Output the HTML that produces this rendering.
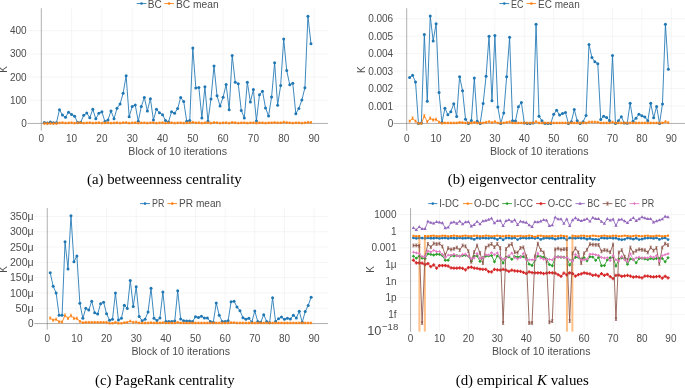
<!DOCTYPE html>
<html><head><meta charset="utf-8"><title>Figure</title>
<style>html,body{margin:0;padding:0;background:#fff}body{width:685px;height:388px;overflow:hidden}</style></head>
<body>
<svg width="685" height="388" viewBox="0 0 685 388" style="display:block">
<rect width="685" height="388" fill="#ffffff"/>
<clipPath id="ca"><rect x="27.6" y="8.2" width="300.4" height="122.39999999999999"/></clipPath>
<path d="M71.6 8.2V130.6" stroke="#eeeeee" stroke-width="0.6"/><path d="M101.9 8.2V130.6" stroke="#eeeeee" stroke-width="0.6"/><path d="M132.2 8.2V130.6" stroke="#eeeeee" stroke-width="0.6"/><path d="M162.5 8.2V130.6" stroke="#eeeeee" stroke-width="0.6"/><path d="M192.8 8.2V130.6" stroke="#eeeeee" stroke-width="0.6"/><path d="M223.1 8.2V130.6" stroke="#eeeeee" stroke-width="0.6"/><path d="M253.4 8.2V130.6" stroke="#eeeeee" stroke-width="0.6"/><path d="M283.7 8.2V130.6" stroke="#eeeeee" stroke-width="0.6"/><path d="M314 8.2V130.6" stroke="#eeeeee" stroke-width="0.6"/><path d="M27.6 100.27H328" stroke="#eeeeee" stroke-width="0.6"/><path d="M27.6 77.09H328" stroke="#eeeeee" stroke-width="0.6"/><path d="M27.6 53.91H328" stroke="#eeeeee" stroke-width="0.6"/><path d="M27.6 30.73H328" stroke="#eeeeee" stroke-width="0.6"/><path d="M27.6 123.45H328" stroke="#606060" stroke-width="0.5"/><path d="M41.3 8.2V130.6" stroke="#606060" stroke-width="0.5"/><text x="41.3" y="141.65" font-size="10" text-anchor="middle" font-family='"Liberation Sans", "DejaVu Sans", sans-serif' fill="#4c4c4c">0</text><text x="71.6" y="141.65" font-size="10" text-anchor="middle" font-family='"Liberation Sans", "DejaVu Sans", sans-serif' fill="#4c4c4c">10</text><text x="101.9" y="141.65" font-size="10" text-anchor="middle" font-family='"Liberation Sans", "DejaVu Sans", sans-serif' fill="#4c4c4c">20</text><text x="132.2" y="141.65" font-size="10" text-anchor="middle" font-family='"Liberation Sans", "DejaVu Sans", sans-serif' fill="#4c4c4c">30</text><text x="162.5" y="141.65" font-size="10" text-anchor="middle" font-family='"Liberation Sans", "DejaVu Sans", sans-serif' fill="#4c4c4c">40</text><text x="192.8" y="141.65" font-size="10" text-anchor="middle" font-family='"Liberation Sans", "DejaVu Sans", sans-serif' fill="#4c4c4c">50</text><text x="223.1" y="141.65" font-size="10" text-anchor="middle" font-family='"Liberation Sans", "DejaVu Sans", sans-serif' fill="#4c4c4c">60</text><text x="253.4" y="141.65" font-size="10" text-anchor="middle" font-family='"Liberation Sans", "DejaVu Sans", sans-serif' fill="#4c4c4c">70</text><text x="283.7" y="141.65" font-size="10" text-anchor="middle" font-family='"Liberation Sans", "DejaVu Sans", sans-serif' fill="#4c4c4c">80</text><text x="314" y="141.65" font-size="10" text-anchor="middle" font-family='"Liberation Sans", "DejaVu Sans", sans-serif' fill="#4c4c4c">90</text><text x="26.7" y="127" font-size="10" text-anchor="end" font-family='"Liberation Sans", "DejaVu Sans", sans-serif' fill="#4c4c4c">0</text><text x="26.7" y="103.82" font-size="10" text-anchor="end" font-family='"Liberation Sans", "DejaVu Sans", sans-serif' fill="#4c4c4c">100</text><text x="26.7" y="80.64" font-size="10" text-anchor="end" font-family='"Liberation Sans", "DejaVu Sans", sans-serif' fill="#4c4c4c">200</text><text x="26.7" y="57.46" font-size="10" text-anchor="end" font-family='"Liberation Sans", "DejaVu Sans", sans-serif' fill="#4c4c4c">300</text><text x="26.7" y="34.28" font-size="10" text-anchor="end" font-family='"Liberation Sans", "DejaVu Sans", sans-serif' fill="#4c4c4c">400</text><text x="128.3" y="154.9" font-size="10" text-anchor="start" font-family='"Liberation Sans", "DejaVu Sans", sans-serif' fill="#4c4c4c" textLength="98.7" lengthAdjust="spacingAndGlyphs">Block of 10 iterations</text><text transform="translate(7.3 69.5) rotate(-90)" font-size="10" text-anchor="middle" font-family='"Liberation Sans", "DejaVu Sans", sans-serif' fill="#4c4c4c">K</text><text x="87" y="183.9" font-size="14.7" text-anchor="start" font-family='"Liberation Serif", "DejaVu Serif", serif' fill="#000000" textLength="154.7" lengthAdjust="spacingAndGlyphs">(a) betweenness centrality</text>
<g clip-path="url(#ca)">
<path d="M44.33 122.52L47.36 123.03L50.39 122.06L53.42 122.85L56.45 122.85L59.48 109.77L62.51 115.11L65.54 117.19L68.57 112.32L71.6 114.41L74.63 116.26L77.66 122.57L80.69 122.31L83.72 115.34L86.75 113.02L89.78 117.66L92.81 109.31L95.84 118.81L98.87 113.25L101.9 111.86L104.93 121.6L107.96 119.97L110.99 110.93L114.02 118.81L117.05 108.15L120.08 103.98L123.11 93.32L126.14 75.7L129.17 116.73L132.2 106.53L135.23 104.91L138.26 121.36L141.29 106.53L144.32 97.49L147.35 110.93L150.38 98.65L153.41 119.97L156.44 109.31L159.47 112.79L162.5 114.64L165.53 120.44L168.56 121.94L171.59 111.63L174.62 113.25L177.65 108.61L180.68 97.49L183.71 101.43L186.74 121.36L189.77 120.44L192.8 47.88L195.83 87.98L198.86 87.52L201.89 117.89L204.92 86.83L207.95 121.36L210.98 98.88L214.01 65.96L217.04 95.87L220.07 106.06L223.1 97.26L226.13 84.51L229.16 109.77L232.19 55.53L235.22 82.19L238.25 83.81L241.28 110.47L244.31 117.89L247.34 82.19L250.37 101.89L253.4 89.61L256.43 120.9L259.46 94.71L262.49 91.23L265.52 107.92L268.55 116.03L271.58 97.02L274.61 62.72L277.64 105.14L280.67 85.43L283.7 39.07L286.73 70.6L289.76 84.74L292.79 83.35L295.82 113.71L298.85 108.38L301.88 100.04L304.91 87.75L307.94 16.13L310.97 43.71" fill="none" stroke="#1f77b4" stroke-width="0.87" stroke-linejoin="round"/><circle cx="44.33" cy="122.52" r="1.5" fill="#1f77b4"/><circle cx="47.36" cy="123.03" r="1.5" fill="#1f77b4"/><circle cx="50.39" cy="122.06" r="1.5" fill="#1f77b4"/><circle cx="53.42" cy="122.85" r="1.5" fill="#1f77b4"/><circle cx="56.45" cy="122.85" r="1.5" fill="#1f77b4"/><circle cx="59.48" cy="109.77" r="1.5" fill="#1f77b4"/><circle cx="62.51" cy="115.11" r="1.5" fill="#1f77b4"/><circle cx="65.54" cy="117.19" r="1.5" fill="#1f77b4"/><circle cx="68.57" cy="112.32" r="1.5" fill="#1f77b4"/><circle cx="71.6" cy="114.41" r="1.5" fill="#1f77b4"/><circle cx="74.63" cy="116.26" r="1.5" fill="#1f77b4"/><circle cx="77.66" cy="122.57" r="1.5" fill="#1f77b4"/><circle cx="80.69" cy="122.31" r="1.5" fill="#1f77b4"/><circle cx="83.72" cy="115.34" r="1.5" fill="#1f77b4"/><circle cx="86.75" cy="113.02" r="1.5" fill="#1f77b4"/><circle cx="89.78" cy="117.66" r="1.5" fill="#1f77b4"/><circle cx="92.81" cy="109.31" r="1.5" fill="#1f77b4"/><circle cx="95.84" cy="118.81" r="1.5" fill="#1f77b4"/><circle cx="98.87" cy="113.25" r="1.5" fill="#1f77b4"/><circle cx="101.9" cy="111.86" r="1.5" fill="#1f77b4"/><circle cx="104.93" cy="121.6" r="1.5" fill="#1f77b4"/><circle cx="107.96" cy="119.97" r="1.5" fill="#1f77b4"/><circle cx="110.99" cy="110.93" r="1.5" fill="#1f77b4"/><circle cx="114.02" cy="118.81" r="1.5" fill="#1f77b4"/><circle cx="117.05" cy="108.15" r="1.5" fill="#1f77b4"/><circle cx="120.08" cy="103.98" r="1.5" fill="#1f77b4"/><circle cx="123.11" cy="93.32" r="1.5" fill="#1f77b4"/><circle cx="126.14" cy="75.7" r="1.5" fill="#1f77b4"/><circle cx="129.17" cy="116.73" r="1.5" fill="#1f77b4"/><circle cx="132.2" cy="106.53" r="1.5" fill="#1f77b4"/><circle cx="135.23" cy="104.91" r="1.5" fill="#1f77b4"/><circle cx="138.26" cy="121.36" r="1.5" fill="#1f77b4"/><circle cx="141.29" cy="106.53" r="1.5" fill="#1f77b4"/><circle cx="144.32" cy="97.49" r="1.5" fill="#1f77b4"/><circle cx="147.35" cy="110.93" r="1.5" fill="#1f77b4"/><circle cx="150.38" cy="98.65" r="1.5" fill="#1f77b4"/><circle cx="153.41" cy="119.97" r="1.5" fill="#1f77b4"/><circle cx="156.44" cy="109.31" r="1.5" fill="#1f77b4"/><circle cx="159.47" cy="112.79" r="1.5" fill="#1f77b4"/><circle cx="162.5" cy="114.64" r="1.5" fill="#1f77b4"/><circle cx="165.53" cy="120.44" r="1.5" fill="#1f77b4"/><circle cx="168.56" cy="121.94" r="1.5" fill="#1f77b4"/><circle cx="171.59" cy="111.63" r="1.5" fill="#1f77b4"/><circle cx="174.62" cy="113.25" r="1.5" fill="#1f77b4"/><circle cx="177.65" cy="108.61" r="1.5" fill="#1f77b4"/><circle cx="180.68" cy="97.49" r="1.5" fill="#1f77b4"/><circle cx="183.71" cy="101.43" r="1.5" fill="#1f77b4"/><circle cx="186.74" cy="121.36" r="1.5" fill="#1f77b4"/><circle cx="189.77" cy="120.44" r="1.5" fill="#1f77b4"/><circle cx="192.8" cy="47.88" r="1.5" fill="#1f77b4"/><circle cx="195.83" cy="87.98" r="1.5" fill="#1f77b4"/><circle cx="198.86" cy="87.52" r="1.5" fill="#1f77b4"/><circle cx="201.89" cy="117.89" r="1.5" fill="#1f77b4"/><circle cx="204.92" cy="86.83" r="1.5" fill="#1f77b4"/><circle cx="207.95" cy="121.36" r="1.5" fill="#1f77b4"/><circle cx="210.98" cy="98.88" r="1.5" fill="#1f77b4"/><circle cx="214.01" cy="65.96" r="1.5" fill="#1f77b4"/><circle cx="217.04" cy="95.87" r="1.5" fill="#1f77b4"/><circle cx="220.07" cy="106.06" r="1.5" fill="#1f77b4"/><circle cx="223.1" cy="97.26" r="1.5" fill="#1f77b4"/><circle cx="226.13" cy="84.51" r="1.5" fill="#1f77b4"/><circle cx="229.16" cy="109.77" r="1.5" fill="#1f77b4"/><circle cx="232.19" cy="55.53" r="1.5" fill="#1f77b4"/><circle cx="235.22" cy="82.19" r="1.5" fill="#1f77b4"/><circle cx="238.25" cy="83.81" r="1.5" fill="#1f77b4"/><circle cx="241.28" cy="110.47" r="1.5" fill="#1f77b4"/><circle cx="244.31" cy="117.89" r="1.5" fill="#1f77b4"/><circle cx="247.34" cy="82.19" r="1.5" fill="#1f77b4"/><circle cx="250.37" cy="101.89" r="1.5" fill="#1f77b4"/><circle cx="253.4" cy="89.61" r="1.5" fill="#1f77b4"/><circle cx="256.43" cy="120.9" r="1.5" fill="#1f77b4"/><circle cx="259.46" cy="94.71" r="1.5" fill="#1f77b4"/><circle cx="262.49" cy="91.23" r="1.5" fill="#1f77b4"/><circle cx="265.52" cy="107.92" r="1.5" fill="#1f77b4"/><circle cx="268.55" cy="116.03" r="1.5" fill="#1f77b4"/><circle cx="271.58" cy="97.02" r="1.5" fill="#1f77b4"/><circle cx="274.61" cy="62.72" r="1.5" fill="#1f77b4"/><circle cx="277.64" cy="105.14" r="1.5" fill="#1f77b4"/><circle cx="280.67" cy="85.43" r="1.5" fill="#1f77b4"/><circle cx="283.7" cy="39.07" r="1.5" fill="#1f77b4"/><circle cx="286.73" cy="70.6" r="1.5" fill="#1f77b4"/><circle cx="289.76" cy="84.74" r="1.5" fill="#1f77b4"/><circle cx="292.79" cy="83.35" r="1.5" fill="#1f77b4"/><circle cx="295.82" cy="113.71" r="1.5" fill="#1f77b4"/><circle cx="298.85" cy="108.38" r="1.5" fill="#1f77b4"/><circle cx="301.88" cy="100.04" r="1.5" fill="#1f77b4"/><circle cx="304.91" cy="87.75" r="1.5" fill="#1f77b4"/><circle cx="307.94" cy="16.13" r="1.5" fill="#1f77b4"/><circle cx="310.97" cy="43.71" r="1.5" fill="#1f77b4"/>
<path d="M44.33 123.4L47.36 123.43L50.39 123.36L53.42 123.4L56.45 123.4L59.48 122.86L62.51 122.67L65.54 123.08L68.57 122.86L71.6 122.68L74.63 123.08L77.66 122.85L80.69 122.68L83.72 123.08L86.75 122.85L89.78 122.68L92.81 123.08L95.84 122.85L98.87 122.68L101.9 123.08L104.93 122.84L107.96 122.69L110.99 123.08L114.02 122.84L117.05 122.69L120.08 123.09L123.11 122.64L126.14 122.52L129.17 123.09L132.2 122.83L135.23 122.69L138.26 123.09L141.29 122.83L144.32 122.75L147.35 123.09L150.38 122.75L153.41 122.7L156.44 123.09L159.47 122.82L162.5 122.7L165.53 123.09L168.56 122.82L171.59 122.7L174.62 123.09L177.65 122.81L180.68 122.75L183.71 123.09L186.74 122.81L189.77 122.71L192.8 122.29L195.83 122.81L198.86 122.71L201.89 123.1L204.92 122.8L207.95 122.71L210.98 123.1L214.01 122.52L217.04 122.72L220.07 123.1L223.1 122.79L226.13 122.72L229.16 123.1L232.19 122.41L235.22 122.72L238.25 123.1L241.28 122.79L244.31 122.73L247.34 123.1L250.37 122.78L253.4 122.73L256.43 123.1L259.46 122.78L262.49 122.73L265.52 123.1L268.55 122.78L271.58 122.74L274.61 122.52L277.64 122.77L280.67 122.74L283.7 122.18L286.73 122.52L289.76 122.74L292.79 123.1L295.82 122.77L298.85 122.75L301.88 123.1L304.91 122.76L307.94 122.29L310.97 122.41" fill="none" stroke="#ff7f0e" stroke-width="0.87" stroke-linejoin="round"/><path d="M44.33 122.25V124.55M43.23 122.25H45.43M43.23 124.55H45.43" stroke="#ff7f0e" stroke-width="0.6" fill="none"/><circle cx="44.33" cy="123.4" r="0.85" fill="#ff7f0e"/><path d="M47.36 122.28V124.58M46.26 122.28H48.46M46.26 124.58H48.46" stroke="#ff7f0e" stroke-width="0.6" fill="none"/><circle cx="47.36" cy="123.43" r="0.85" fill="#ff7f0e"/><path d="M50.39 122.21V124.51M49.29 122.21H51.49M49.29 124.51H51.49" stroke="#ff7f0e" stroke-width="0.6" fill="none"/><circle cx="50.39" cy="123.36" r="0.85" fill="#ff7f0e"/><path d="M53.42 122.25V124.55M52.32 122.25H54.52M52.32 124.55H54.52" stroke="#ff7f0e" stroke-width="0.6" fill="none"/><circle cx="53.42" cy="123.4" r="0.85" fill="#ff7f0e"/><path d="M56.45 122.25V124.55M55.35 122.25H57.55M55.35 124.55H57.55" stroke="#ff7f0e" stroke-width="0.6" fill="none"/><circle cx="56.45" cy="123.4" r="0.85" fill="#ff7f0e"/><path d="M59.48 122.01V123.71M58.38 122.01H60.58M58.38 123.71H60.58" stroke="#ff7f0e" stroke-width="0.6" fill="none"/><circle cx="59.48" cy="122.86" r="0.85" fill="#ff7f0e"/><path d="M62.51 121.81V123.54M61.41 121.81H63.61M61.41 123.54H63.61" stroke="#ff7f0e" stroke-width="0.6" fill="none"/><circle cx="62.51" cy="122.67" r="0.85" fill="#ff7f0e"/><path d="M65.54 122.24V123.91M64.44 122.24H66.64M64.44 123.91H66.64" stroke="#ff7f0e" stroke-width="0.6" fill="none"/><circle cx="65.54" cy="123.08" r="0.85" fill="#ff7f0e"/><path d="M68.57 122.01V123.71M67.47 122.01H69.67M67.47 123.71H69.67" stroke="#ff7f0e" stroke-width="0.6" fill="none"/><circle cx="68.57" cy="122.86" r="0.85" fill="#ff7f0e"/><path d="M71.6 121.81V123.54M70.5 121.81H72.7M70.5 123.54H72.7" stroke="#ff7f0e" stroke-width="0.6" fill="none"/><circle cx="71.6" cy="122.68" r="0.85" fill="#ff7f0e"/><path d="M74.63 122.25V123.91M73.53 122.25H75.73M73.53 123.91H75.73" stroke="#ff7f0e" stroke-width="0.6" fill="none"/><circle cx="74.63" cy="123.08" r="0.85" fill="#ff7f0e"/><path d="M77.66 122V123.71M76.56 122H78.76M76.56 123.71H78.76" stroke="#ff7f0e" stroke-width="0.6" fill="none"/><circle cx="77.66" cy="122.85" r="0.85" fill="#ff7f0e"/><path d="M80.69 121.81V123.55M79.59 121.81H81.79M79.59 123.55H81.79" stroke="#ff7f0e" stroke-width="0.6" fill="none"/><circle cx="80.69" cy="122.68" r="0.85" fill="#ff7f0e"/><path d="M83.72 122.25V123.91M82.62 122.25H84.82M82.62 123.91H84.82" stroke="#ff7f0e" stroke-width="0.6" fill="none"/><circle cx="83.72" cy="123.08" r="0.85" fill="#ff7f0e"/><path d="M86.75 122V123.7M85.65 122H87.85M85.65 123.7H87.85" stroke="#ff7f0e" stroke-width="0.6" fill="none"/><circle cx="86.75" cy="122.85" r="0.85" fill="#ff7f0e"/><path d="M89.78 121.81V123.55M88.68 121.81H90.88M88.68 123.55H90.88" stroke="#ff7f0e" stroke-width="0.6" fill="none"/><circle cx="89.78" cy="122.68" r="0.85" fill="#ff7f0e"/><path d="M92.81 122.25V123.91M91.71 122.25H93.91M91.71 123.91H93.91" stroke="#ff7f0e" stroke-width="0.6" fill="none"/><circle cx="92.81" cy="123.08" r="0.85" fill="#ff7f0e"/><path d="M95.84 122V123.7M94.74 122H96.94M94.74 123.7H96.94" stroke="#ff7f0e" stroke-width="0.6" fill="none"/><circle cx="95.84" cy="122.85" r="0.85" fill="#ff7f0e"/><path d="M98.87 121.82V123.55M97.77 121.82H99.97M97.77 123.55H99.97" stroke="#ff7f0e" stroke-width="0.6" fill="none"/><circle cx="98.87" cy="122.68" r="0.85" fill="#ff7f0e"/><path d="M101.9 122.25V123.91M100.8 122.25H103M100.8 123.91H103" stroke="#ff7f0e" stroke-width="0.6" fill="none"/><circle cx="101.9" cy="123.08" r="0.85" fill="#ff7f0e"/><path d="M104.93 121.99V123.7M103.83 121.99H106.03M103.83 123.7H106.03" stroke="#ff7f0e" stroke-width="0.6" fill="none"/><circle cx="104.93" cy="122.84" r="0.85" fill="#ff7f0e"/><path d="M107.96 121.82V123.55M106.86 121.82H109.06M106.86 123.55H109.06" stroke="#ff7f0e" stroke-width="0.6" fill="none"/><circle cx="107.96" cy="122.69" r="0.85" fill="#ff7f0e"/><path d="M110.99 122.25V123.92M109.89 122.25H112.09M109.89 123.92H112.09" stroke="#ff7f0e" stroke-width="0.6" fill="none"/><circle cx="110.99" cy="123.08" r="0.85" fill="#ff7f0e"/><path d="M114.02 121.99V123.69M112.92 121.99H115.12M112.92 123.69H115.12" stroke="#ff7f0e" stroke-width="0.6" fill="none"/><circle cx="114.02" cy="122.84" r="0.85" fill="#ff7f0e"/><path d="M117.05 121.82V123.55M115.95 121.82H118.15M115.95 123.55H118.15" stroke="#ff7f0e" stroke-width="0.6" fill="none"/><circle cx="117.05" cy="122.69" r="0.85" fill="#ff7f0e"/><path d="M120.08 122.25V123.92M118.98 122.25H121.18M118.98 123.92H121.18" stroke="#ff7f0e" stroke-width="0.6" fill="none"/><circle cx="120.08" cy="123.09" r="0.85" fill="#ff7f0e"/><path d="M123.11 121.77V123.51M122.01 121.77H124.21M122.01 123.51H124.21" stroke="#ff7f0e" stroke-width="0.6" fill="none"/><circle cx="123.11" cy="122.64" r="0.85" fill="#ff7f0e"/><path d="M126.14 121.64V123.4M125.04 121.64H127.24M125.04 123.4H127.24" stroke="#ff7f0e" stroke-width="0.6" fill="none"/><circle cx="126.14" cy="122.52" r="0.85" fill="#ff7f0e"/><path d="M129.17 122.26V123.92M128.07 122.26H130.27M128.07 123.92H130.27" stroke="#ff7f0e" stroke-width="0.6" fill="none"/><circle cx="129.17" cy="123.09" r="0.85" fill="#ff7f0e"/><path d="M132.2 121.98V123.69M131.1 121.98H133.3M131.1 123.69H133.3" stroke="#ff7f0e" stroke-width="0.6" fill="none"/><circle cx="132.2" cy="122.83" r="0.85" fill="#ff7f0e"/><path d="M135.23 121.83V123.56M134.13 121.83H136.33M134.13 123.56H136.33" stroke="#ff7f0e" stroke-width="0.6" fill="none"/><circle cx="135.23" cy="122.69" r="0.85" fill="#ff7f0e"/><path d="M138.26 122.26V123.92M137.16 122.26H139.36M137.16 123.92H139.36" stroke="#ff7f0e" stroke-width="0.6" fill="none"/><circle cx="138.26" cy="123.09" r="0.85" fill="#ff7f0e"/><path d="M141.29 121.97V123.68M140.19 121.97H142.39M140.19 123.68H142.39" stroke="#ff7f0e" stroke-width="0.6" fill="none"/><circle cx="141.29" cy="122.83" r="0.85" fill="#ff7f0e"/><path d="M144.32 121.89V123.61M143.22 121.89H145.42M143.22 123.61H145.42" stroke="#ff7f0e" stroke-width="0.6" fill="none"/><circle cx="144.32" cy="122.75" r="0.85" fill="#ff7f0e"/><path d="M147.35 122.26V123.92M146.25 122.26H148.45M146.25 123.92H148.45" stroke="#ff7f0e" stroke-width="0.6" fill="none"/><circle cx="147.35" cy="123.09" r="0.85" fill="#ff7f0e"/><path d="M150.38 121.89V123.61M149.28 121.89H151.48M149.28 123.61H151.48" stroke="#ff7f0e" stroke-width="0.6" fill="none"/><circle cx="150.38" cy="122.75" r="0.85" fill="#ff7f0e"/><path d="M153.41 121.83V123.56M152.31 121.83H154.51M152.31 123.56H154.51" stroke="#ff7f0e" stroke-width="0.6" fill="none"/><circle cx="153.41" cy="122.7" r="0.85" fill="#ff7f0e"/><path d="M156.44 122.26V123.92M155.34 122.26H157.54M155.34 123.92H157.54" stroke="#ff7f0e" stroke-width="0.6" fill="none"/><circle cx="156.44" cy="123.09" r="0.85" fill="#ff7f0e"/><path d="M159.47 121.97V123.67M158.37 121.97H160.57M158.37 123.67H160.57" stroke="#ff7f0e" stroke-width="0.6" fill="none"/><circle cx="159.47" cy="122.82" r="0.85" fill="#ff7f0e"/><path d="M162.5 121.84V123.57M161.4 121.84H163.6M161.4 123.57H163.6" stroke="#ff7f0e" stroke-width="0.6" fill="none"/><circle cx="162.5" cy="122.7" r="0.85" fill="#ff7f0e"/><path d="M165.53 122.26V123.92M164.43 122.26H166.63M164.43 123.92H166.63" stroke="#ff7f0e" stroke-width="0.6" fill="none"/><circle cx="165.53" cy="123.09" r="0.85" fill="#ff7f0e"/><path d="M168.56 121.96V123.67M167.46 121.96H169.66M167.46 123.67H169.66" stroke="#ff7f0e" stroke-width="0.6" fill="none"/><circle cx="168.56" cy="122.82" r="0.85" fill="#ff7f0e"/><path d="M171.59 121.84V123.57M170.49 121.84H172.69M170.49 123.57H172.69" stroke="#ff7f0e" stroke-width="0.6" fill="none"/><circle cx="171.59" cy="122.7" r="0.85" fill="#ff7f0e"/><path d="M174.62 122.26V123.92M173.52 122.26H175.72M173.52 123.92H175.72" stroke="#ff7f0e" stroke-width="0.6" fill="none"/><circle cx="174.62" cy="123.09" r="0.85" fill="#ff7f0e"/><path d="M177.65 121.96V123.67M176.55 121.96H178.75M176.55 123.67H178.75" stroke="#ff7f0e" stroke-width="0.6" fill="none"/><circle cx="177.65" cy="122.81" r="0.85" fill="#ff7f0e"/><path d="M180.68 121.89V123.61M179.58 121.89H181.78M179.58 123.61H181.78" stroke="#ff7f0e" stroke-width="0.6" fill="none"/><circle cx="180.68" cy="122.75" r="0.85" fill="#ff7f0e"/><path d="M183.71 122.26V123.93M182.61 122.26H184.81M182.61 123.93H184.81" stroke="#ff7f0e" stroke-width="0.6" fill="none"/><circle cx="183.71" cy="123.09" r="0.85" fill="#ff7f0e"/><path d="M186.74 121.95V123.66M185.64 121.95H187.84M185.64 123.66H187.84" stroke="#ff7f0e" stroke-width="0.6" fill="none"/><circle cx="186.74" cy="122.81" r="0.85" fill="#ff7f0e"/><path d="M189.77 121.84V123.57M188.67 121.84H190.87M188.67 123.57H190.87" stroke="#ff7f0e" stroke-width="0.6" fill="none"/><circle cx="189.77" cy="122.71" r="0.85" fill="#ff7f0e"/><path d="M192.8 121.39V123.19M191.7 121.39H193.9M191.7 123.19H193.9" stroke="#ff7f0e" stroke-width="0.6" fill="none"/><circle cx="192.8" cy="122.29" r="0.85" fill="#ff7f0e"/><path d="M195.83 121.95V123.66M194.73 121.95H196.93M194.73 123.66H196.93" stroke="#ff7f0e" stroke-width="0.6" fill="none"/><circle cx="195.83" cy="122.81" r="0.85" fill="#ff7f0e"/><path d="M198.86 121.85V123.58M197.76 121.85H199.96M197.76 123.58H199.96" stroke="#ff7f0e" stroke-width="0.6" fill="none"/><circle cx="198.86" cy="122.71" r="0.85" fill="#ff7f0e"/><path d="M201.89 122.27V123.93M200.79 122.27H202.99M200.79 123.93H202.99" stroke="#ff7f0e" stroke-width="0.6" fill="none"/><circle cx="201.89" cy="123.1" r="0.85" fill="#ff7f0e"/><path d="M204.92 121.95V123.66M203.82 121.95H206.02M203.82 123.66H206.02" stroke="#ff7f0e" stroke-width="0.6" fill="none"/><circle cx="204.92" cy="122.8" r="0.85" fill="#ff7f0e"/><path d="M207.95 121.85V123.58M206.85 121.85H209.05M206.85 123.58H209.05" stroke="#ff7f0e" stroke-width="0.6" fill="none"/><circle cx="207.95" cy="122.71" r="0.85" fill="#ff7f0e"/><path d="M210.98 122.27V123.93M209.88 122.27H212.08M209.88 123.93H212.08" stroke="#ff7f0e" stroke-width="0.6" fill="none"/><circle cx="210.98" cy="123.1" r="0.85" fill="#ff7f0e"/><path d="M214.01 121.64V123.4M212.91 121.64H215.11M212.91 123.4H215.11" stroke="#ff7f0e" stroke-width="0.6" fill="none"/><circle cx="214.01" cy="122.52" r="0.85" fill="#ff7f0e"/><path d="M217.04 121.85V123.58M215.94 121.85H218.14M215.94 123.58H218.14" stroke="#ff7f0e" stroke-width="0.6" fill="none"/><circle cx="217.04" cy="122.72" r="0.85" fill="#ff7f0e"/><path d="M220.07 122.27V123.93M218.97 122.27H221.17M218.97 123.93H221.17" stroke="#ff7f0e" stroke-width="0.6" fill="none"/><circle cx="220.07" cy="123.1" r="0.85" fill="#ff7f0e"/><path d="M223.1 121.94V123.65M222 121.94H224.2M222 123.65H224.2" stroke="#ff7f0e" stroke-width="0.6" fill="none"/><circle cx="223.1" cy="122.79" r="0.85" fill="#ff7f0e"/><path d="M226.13 121.86V123.58M225.03 121.86H227.23M225.03 123.58H227.23" stroke="#ff7f0e" stroke-width="0.6" fill="none"/><circle cx="226.13" cy="122.72" r="0.85" fill="#ff7f0e"/><path d="M229.16 122.27V123.93M228.06 122.27H230.26M228.06 123.93H230.26" stroke="#ff7f0e" stroke-width="0.6" fill="none"/><circle cx="229.16" cy="123.1" r="0.85" fill="#ff7f0e"/><path d="M232.19 121.52V123.3M231.09 121.52H233.29M231.09 123.3H233.29" stroke="#ff7f0e" stroke-width="0.6" fill="none"/><circle cx="232.19" cy="122.41" r="0.85" fill="#ff7f0e"/><path d="M235.22 121.86V123.59M234.12 121.86H236.32M234.12 123.59H236.32" stroke="#ff7f0e" stroke-width="0.6" fill="none"/><circle cx="235.22" cy="122.72" r="0.85" fill="#ff7f0e"/><path d="M238.25 122.27V123.93M237.15 122.27H239.35M237.15 123.93H239.35" stroke="#ff7f0e" stroke-width="0.6" fill="none"/><circle cx="238.25" cy="123.1" r="0.85" fill="#ff7f0e"/><path d="M241.28 121.93V123.64M240.18 121.93H242.38M240.18 123.64H242.38" stroke="#ff7f0e" stroke-width="0.6" fill="none"/><circle cx="241.28" cy="122.79" r="0.85" fill="#ff7f0e"/><path d="M244.31 121.86V123.59M243.21 121.86H245.41M243.21 123.59H245.41" stroke="#ff7f0e" stroke-width="0.6" fill="none"/><circle cx="244.31" cy="122.73" r="0.85" fill="#ff7f0e"/><path d="M247.34 122.27V123.93M246.24 122.27H248.44M246.24 123.93H248.44" stroke="#ff7f0e" stroke-width="0.6" fill="none"/><circle cx="247.34" cy="123.1" r="0.85" fill="#ff7f0e"/><path d="M250.37 121.93V123.64M249.27 121.93H251.47M249.27 123.64H251.47" stroke="#ff7f0e" stroke-width="0.6" fill="none"/><circle cx="250.37" cy="122.78" r="0.85" fill="#ff7f0e"/><path d="M253.4 121.87V123.59M252.3 121.87H254.5M252.3 123.59H254.5" stroke="#ff7f0e" stroke-width="0.6" fill="none"/><circle cx="253.4" cy="122.73" r="0.85" fill="#ff7f0e"/><path d="M256.43 122.27V123.93M255.33 122.27H257.53M255.33 123.93H257.53" stroke="#ff7f0e" stroke-width="0.6" fill="none"/><circle cx="256.43" cy="123.1" r="0.85" fill="#ff7f0e"/><path d="M259.46 121.92V123.64M258.36 121.92H260.56M258.36 123.64H260.56" stroke="#ff7f0e" stroke-width="0.6" fill="none"/><circle cx="259.46" cy="122.78" r="0.85" fill="#ff7f0e"/><path d="M262.49 121.87V123.59M261.39 121.87H263.59M261.39 123.59H263.59" stroke="#ff7f0e" stroke-width="0.6" fill="none"/><circle cx="262.49" cy="122.73" r="0.85" fill="#ff7f0e"/><path d="M265.52 122.27V123.93M264.42 122.27H266.62M264.42 123.93H266.62" stroke="#ff7f0e" stroke-width="0.6" fill="none"/><circle cx="265.52" cy="123.1" r="0.85" fill="#ff7f0e"/><path d="M268.55 121.92V123.63M267.45 121.92H269.65M267.45 123.63H269.65" stroke="#ff7f0e" stroke-width="0.6" fill="none"/><circle cx="268.55" cy="122.78" r="0.85" fill="#ff7f0e"/><path d="M271.58 121.87V123.6M270.48 121.87H272.68M270.48 123.6H272.68" stroke="#ff7f0e" stroke-width="0.6" fill="none"/><circle cx="271.58" cy="122.74" r="0.85" fill="#ff7f0e"/><path d="M274.61 121.64V123.4M273.51 121.64H275.71M273.51 123.4H275.71" stroke="#ff7f0e" stroke-width="0.6" fill="none"/><circle cx="274.61" cy="122.52" r="0.85" fill="#ff7f0e"/><path d="M277.64 121.91V123.63M276.54 121.91H278.74M276.54 123.63H278.74" stroke="#ff7f0e" stroke-width="0.6" fill="none"/><circle cx="277.64" cy="122.77" r="0.85" fill="#ff7f0e"/><path d="M280.67 121.88V123.6M279.57 121.88H281.77M279.57 123.6H281.77" stroke="#ff7f0e" stroke-width="0.6" fill="none"/><circle cx="280.67" cy="122.74" r="0.85" fill="#ff7f0e"/><path d="M283.7 121.27V123.09M282.6 121.27H284.8M282.6 123.09H284.8" stroke="#ff7f0e" stroke-width="0.6" fill="none"/><circle cx="283.7" cy="122.18" r="0.85" fill="#ff7f0e"/><path d="M286.73 121.64V123.4M285.63 121.64H287.83M285.63 123.4H287.83" stroke="#ff7f0e" stroke-width="0.6" fill="none"/><circle cx="286.73" cy="122.52" r="0.85" fill="#ff7f0e"/><path d="M289.76 121.88V123.6M288.66 121.88H290.86M288.66 123.6H290.86" stroke="#ff7f0e" stroke-width="0.6" fill="none"/><circle cx="289.76" cy="122.74" r="0.85" fill="#ff7f0e"/><path d="M292.79 122.27V123.93M291.69 122.27H293.89M291.69 123.93H293.89" stroke="#ff7f0e" stroke-width="0.6" fill="none"/><circle cx="292.79" cy="123.1" r="0.85" fill="#ff7f0e"/><path d="M295.82 121.91V123.62M294.72 121.91H296.92M294.72 123.62H296.92" stroke="#ff7f0e" stroke-width="0.6" fill="none"/><circle cx="295.82" cy="122.77" r="0.85" fill="#ff7f0e"/><path d="M298.85 121.88V123.61M297.75 121.88H299.95M297.75 123.61H299.95" stroke="#ff7f0e" stroke-width="0.6" fill="none"/><circle cx="298.85" cy="122.75" r="0.85" fill="#ff7f0e"/><path d="M301.88 122.27V123.93M300.78 122.27H302.98M300.78 123.93H302.98" stroke="#ff7f0e" stroke-width="0.6" fill="none"/><circle cx="301.88" cy="123.1" r="0.85" fill="#ff7f0e"/><path d="M304.91 121.9V123.62M303.81 121.9H306.01M303.81 123.62H306.01" stroke="#ff7f0e" stroke-width="0.6" fill="none"/><circle cx="304.91" cy="122.76" r="0.85" fill="#ff7f0e"/><path d="M307.94 121.39V123.19M306.84 121.39H309.04M306.84 123.19H309.04" stroke="#ff7f0e" stroke-width="0.6" fill="none"/><circle cx="307.94" cy="122.29" r="0.85" fill="#ff7f0e"/><path d="M310.97 121.52V123.3M309.87 121.52H312.07M309.87 123.3H312.07" stroke="#ff7f0e" stroke-width="0.6" fill="none"/><circle cx="310.97" cy="122.41" r="0.85" fill="#ff7f0e"/>
</g>
<path d="M136.7 3.55H146.3" stroke="#1f77b4" stroke-width="0.87"/><circle cx="141.5" cy="3.55" r="1.3" fill="#1f77b4"/><text x="147.8" y="7.75" font-size="10" text-anchor="start" font-family='"Liberation Sans", "DejaVu Sans", sans-serif' fill="#4c4c4c" textLength="14" lengthAdjust="spacingAndGlyphs">BC</text><path d="M164.3 3.55H174" stroke="#ff7f0e" stroke-width="0.87"/><circle cx="169.15" cy="3.55" r="1.3" fill="#ff7f0e"/><text x="176" y="7.75" font-size="10" text-anchor="start" font-family='"Liberation Sans", "DejaVu Sans", sans-serif' fill="#4c4c4c" textLength="42.6" lengthAdjust="spacingAndGlyphs">BC mean</text>
<clipPath id="cb"><rect x="393.5" y="8.2" width="291.5" height="122.60000000000001"/></clipPath>
<path d="M436.1 8.2V130.8" stroke="#eeeeee" stroke-width="0.6"/><path d="M465.5 8.2V130.8" stroke="#eeeeee" stroke-width="0.6"/><path d="M494.9 8.2V130.8" stroke="#eeeeee" stroke-width="0.6"/><path d="M524.3 8.2V130.8" stroke="#eeeeee" stroke-width="0.6"/><path d="M553.7 8.2V130.8" stroke="#eeeeee" stroke-width="0.6"/><path d="M583.1 8.2V130.8" stroke="#eeeeee" stroke-width="0.6"/><path d="M612.5 8.2V130.8" stroke="#eeeeee" stroke-width="0.6"/><path d="M641.9 8.2V130.8" stroke="#eeeeee" stroke-width="0.6"/><path d="M671.3 8.2V130.8" stroke="#eeeeee" stroke-width="0.6"/><path d="M393.5 106H685" stroke="#eeeeee" stroke-width="0.6"/><path d="M393.5 88.55H685" stroke="#eeeeee" stroke-width="0.6"/><path d="M393.5 71.1H685" stroke="#eeeeee" stroke-width="0.6"/><path d="M393.5 53.65H685" stroke="#eeeeee" stroke-width="0.6"/><path d="M393.5 36.2H685" stroke="#eeeeee" stroke-width="0.6"/><path d="M393.5 18.75H685" stroke="#eeeeee" stroke-width="0.6"/><path d="M393.5 123.45H685" stroke="#606060" stroke-width="0.5"/><path d="M406.7 8.2V130.8" stroke="#606060" stroke-width="0.5"/><text x="406.7" y="141.7" font-size="10" text-anchor="middle" font-family='"Liberation Sans", "DejaVu Sans", sans-serif' fill="#4c4c4c">0</text><text x="436.1" y="141.7" font-size="10" text-anchor="middle" font-family='"Liberation Sans", "DejaVu Sans", sans-serif' fill="#4c4c4c">10</text><text x="465.5" y="141.7" font-size="10" text-anchor="middle" font-family='"Liberation Sans", "DejaVu Sans", sans-serif' fill="#4c4c4c">20</text><text x="494.9" y="141.7" font-size="10" text-anchor="middle" font-family='"Liberation Sans", "DejaVu Sans", sans-serif' fill="#4c4c4c">30</text><text x="524.3" y="141.7" font-size="10" text-anchor="middle" font-family='"Liberation Sans", "DejaVu Sans", sans-serif' fill="#4c4c4c">40</text><text x="553.7" y="141.7" font-size="10" text-anchor="middle" font-family='"Liberation Sans", "DejaVu Sans", sans-serif' fill="#4c4c4c">50</text><text x="583.1" y="141.7" font-size="10" text-anchor="middle" font-family='"Liberation Sans", "DejaVu Sans", sans-serif' fill="#4c4c4c">60</text><text x="612.5" y="141.7" font-size="10" text-anchor="middle" font-family='"Liberation Sans", "DejaVu Sans", sans-serif' fill="#4c4c4c">70</text><text x="641.9" y="141.7" font-size="10" text-anchor="middle" font-family='"Liberation Sans", "DejaVu Sans", sans-serif' fill="#4c4c4c">80</text><text x="671.3" y="141.7" font-size="10" text-anchor="middle" font-family='"Liberation Sans", "DejaVu Sans", sans-serif' fill="#4c4c4c">90</text><text x="393.2" y="127" font-size="10" text-anchor="end" font-family='"Liberation Sans", "DejaVu Sans", sans-serif' fill="#4c4c4c">0</text><text x="393.2" y="109.55" font-size="10" text-anchor="end" font-family='"Liberation Sans", "DejaVu Sans", sans-serif' fill="#4c4c4c">0.001</text><text x="393.2" y="92.1" font-size="10" text-anchor="end" font-family='"Liberation Sans", "DejaVu Sans", sans-serif' fill="#4c4c4c">0.002</text><text x="393.2" y="74.65" font-size="10" text-anchor="end" font-family='"Liberation Sans", "DejaVu Sans", sans-serif' fill="#4c4c4c">0.003</text><text x="393.2" y="57.2" font-size="10" text-anchor="end" font-family='"Liberation Sans", "DejaVu Sans", sans-serif' fill="#4c4c4c">0.004</text><text x="393.2" y="39.75" font-size="10" text-anchor="end" font-family='"Liberation Sans", "DejaVu Sans", sans-serif' fill="#4c4c4c">0.005</text><text x="393.2" y="22.3" font-size="10" text-anchor="end" font-family='"Liberation Sans", "DejaVu Sans", sans-serif' fill="#4c4c4c">0.006</text><text x="489.9" y="154.7" font-size="10" text-anchor="start" font-family='"Liberation Sans", "DejaVu Sans", sans-serif' fill="#4c4c4c" textLength="98.7" lengthAdjust="spacingAndGlyphs">Block of 10 iterations</text><text transform="translate(365 69.6) rotate(-90)" font-size="10" text-anchor="middle" font-family='"Liberation Sans", "DejaVu Sans", sans-serif' fill="#4c4c4c">K</text><text x="447.8" y="183.9" font-size="14.7" text-anchor="start" font-family='"Liberation Serif", "DejaVu Serif", serif' fill="#000000" textLength="148.4" lengthAdjust="spacingAndGlyphs">(b) eigenvector centrality</text>
<g clip-path="url(#cb)">
<path d="M409.64 77.47L412.58 75.36L415.52 81.92L418.46 123.45L421.4 123.01L424.34 34.45L427.28 101.29L430.22 15.96L433.16 40.96L436.1 23.64L439.04 92.56L441.98 122.58L444.92 108.27L447.86 114.73L450.8 111.76L453.74 103.73L456.68 116.47L459.62 76.68L462.56 90.64L465.5 119.26L468.44 123.4L471.38 120.48L474.32 78.08L477.26 121.36L480.2 123.42L483.14 103.56L486.08 76.34L489.02 36.2L491.96 100.77L494.9 35.5L497.84 107.05L500.78 123.45L503.72 112.98L506.66 76.68L509.6 37.25L512.54 120.66L515.48 121.01L518.42 106.7L521.36 102.51L524.3 122.93L527.24 123.45L530.18 123.45L533.12 122.93L536.06 24.16L539 116.3L541.94 120.83L544.88 123.39L547.82 123.45L550.76 123.45L553.7 114.2L556.64 110.36L559.58 115.07L562.52 113.5L565.46 112.46L568.4 123.45L571.34 121.7L574.28 109.49L577.22 120.83L580.16 123.42L583.1 121.7L586.04 115.6L588.98 44.4L591.92 57.49L594.86 61.85L597.8 63.77L600.74 119.44L603.68 116.3L606.62 117.52L609.56 120.66L612.5 55.57L615.44 123.45L618.38 120.83L621.32 116.82L624.26 123.01L627.2 123.35L630.14 103.21L633.08 121.18L636.02 118.22L638.96 114.2L641.9 115.77L644.84 116.99L647.78 120.83L650.72 103.21L653.66 117.87L656.6 106.52L659.54 123.43L662.48 103.91L665.42 24.16L668.36 69.36" fill="none" stroke="#1f77b4" stroke-width="0.87" stroke-linejoin="round"/><circle cx="409.64" cy="77.47" r="1.5" fill="#1f77b4"/><circle cx="412.58" cy="75.36" r="1.5" fill="#1f77b4"/><circle cx="415.52" cy="81.92" r="1.5" fill="#1f77b4"/><circle cx="418.46" cy="123.45" r="1.5" fill="#1f77b4"/><circle cx="421.4" cy="123.01" r="1.5" fill="#1f77b4"/><circle cx="424.34" cy="34.45" r="1.5" fill="#1f77b4"/><circle cx="427.28" cy="101.29" r="1.5" fill="#1f77b4"/><circle cx="430.22" cy="15.96" r="1.5" fill="#1f77b4"/><circle cx="433.16" cy="40.96" r="1.5" fill="#1f77b4"/><circle cx="436.1" cy="23.64" r="1.5" fill="#1f77b4"/><circle cx="439.04" cy="92.56" r="1.5" fill="#1f77b4"/><circle cx="441.98" cy="122.58" r="1.5" fill="#1f77b4"/><circle cx="444.92" cy="108.27" r="1.5" fill="#1f77b4"/><circle cx="447.86" cy="114.73" r="1.5" fill="#1f77b4"/><circle cx="450.8" cy="111.76" r="1.5" fill="#1f77b4"/><circle cx="453.74" cy="103.73" r="1.5" fill="#1f77b4"/><circle cx="456.68" cy="116.47" r="1.5" fill="#1f77b4"/><circle cx="459.62" cy="76.68" r="1.5" fill="#1f77b4"/><circle cx="462.56" cy="90.64" r="1.5" fill="#1f77b4"/><circle cx="465.5" cy="119.26" r="1.5" fill="#1f77b4"/><circle cx="468.44" cy="123.4" r="1.5" fill="#1f77b4"/><circle cx="471.38" cy="120.48" r="1.5" fill="#1f77b4"/><circle cx="474.32" cy="78.08" r="1.5" fill="#1f77b4"/><circle cx="477.26" cy="121.36" r="1.5" fill="#1f77b4"/><circle cx="480.2" cy="123.42" r="1.5" fill="#1f77b4"/><circle cx="483.14" cy="103.56" r="1.5" fill="#1f77b4"/><circle cx="486.08" cy="76.34" r="1.5" fill="#1f77b4"/><circle cx="489.02" cy="36.2" r="1.5" fill="#1f77b4"/><circle cx="491.96" cy="100.77" r="1.5" fill="#1f77b4"/><circle cx="494.9" cy="35.5" r="1.5" fill="#1f77b4"/><circle cx="497.84" cy="107.05" r="1.5" fill="#1f77b4"/><circle cx="500.78" cy="123.45" r="1.5" fill="#1f77b4"/><circle cx="503.72" cy="112.98" r="1.5" fill="#1f77b4"/><circle cx="506.66" cy="76.68" r="1.5" fill="#1f77b4"/><circle cx="509.6" cy="37.25" r="1.5" fill="#1f77b4"/><circle cx="512.54" cy="120.66" r="1.5" fill="#1f77b4"/><circle cx="515.48" cy="121.01" r="1.5" fill="#1f77b4"/><circle cx="518.42" cy="106.7" r="1.5" fill="#1f77b4"/><circle cx="521.36" cy="102.51" r="1.5" fill="#1f77b4"/><circle cx="524.3" cy="122.93" r="1.5" fill="#1f77b4"/><circle cx="527.24" cy="123.45" r="1.5" fill="#1f77b4"/><circle cx="530.18" cy="123.45" r="1.5" fill="#1f77b4"/><circle cx="533.12" cy="122.93" r="1.5" fill="#1f77b4"/><circle cx="536.06" cy="24.16" r="1.5" fill="#1f77b4"/><circle cx="539" cy="116.3" r="1.5" fill="#1f77b4"/><circle cx="541.94" cy="120.83" r="1.5" fill="#1f77b4"/><circle cx="544.88" cy="123.39" r="1.5" fill="#1f77b4"/><circle cx="547.82" cy="123.45" r="1.5" fill="#1f77b4"/><circle cx="550.76" cy="123.45" r="1.5" fill="#1f77b4"/><circle cx="553.7" cy="114.2" r="1.5" fill="#1f77b4"/><circle cx="556.64" cy="110.36" r="1.5" fill="#1f77b4"/><circle cx="559.58" cy="115.07" r="1.5" fill="#1f77b4"/><circle cx="562.52" cy="113.5" r="1.5" fill="#1f77b4"/><circle cx="565.46" cy="112.46" r="1.5" fill="#1f77b4"/><circle cx="568.4" cy="123.45" r="1.5" fill="#1f77b4"/><circle cx="571.34" cy="121.7" r="1.5" fill="#1f77b4"/><circle cx="574.28" cy="109.49" r="1.5" fill="#1f77b4"/><circle cx="577.22" cy="120.83" r="1.5" fill="#1f77b4"/><circle cx="580.16" cy="123.42" r="1.5" fill="#1f77b4"/><circle cx="583.1" cy="121.7" r="1.5" fill="#1f77b4"/><circle cx="586.04" cy="115.6" r="1.5" fill="#1f77b4"/><circle cx="588.98" cy="44.4" r="1.5" fill="#1f77b4"/><circle cx="591.92" cy="57.49" r="1.5" fill="#1f77b4"/><circle cx="594.86" cy="61.85" r="1.5" fill="#1f77b4"/><circle cx="597.8" cy="63.77" r="1.5" fill="#1f77b4"/><circle cx="600.74" cy="119.44" r="1.5" fill="#1f77b4"/><circle cx="603.68" cy="116.3" r="1.5" fill="#1f77b4"/><circle cx="606.62" cy="117.52" r="1.5" fill="#1f77b4"/><circle cx="609.56" cy="120.66" r="1.5" fill="#1f77b4"/><circle cx="612.5" cy="55.57" r="1.5" fill="#1f77b4"/><circle cx="615.44" cy="123.45" r="1.5" fill="#1f77b4"/><circle cx="618.38" cy="120.83" r="1.5" fill="#1f77b4"/><circle cx="621.32" cy="116.82" r="1.5" fill="#1f77b4"/><circle cx="624.26" cy="123.01" r="1.5" fill="#1f77b4"/><circle cx="627.2" cy="123.35" r="1.5" fill="#1f77b4"/><circle cx="630.14" cy="103.21" r="1.5" fill="#1f77b4"/><circle cx="633.08" cy="121.18" r="1.5" fill="#1f77b4"/><circle cx="636.02" cy="118.22" r="1.5" fill="#1f77b4"/><circle cx="638.96" cy="114.2" r="1.5" fill="#1f77b4"/><circle cx="641.9" cy="115.77" r="1.5" fill="#1f77b4"/><circle cx="644.84" cy="116.99" r="1.5" fill="#1f77b4"/><circle cx="647.78" cy="120.83" r="1.5" fill="#1f77b4"/><circle cx="650.72" cy="103.21" r="1.5" fill="#1f77b4"/><circle cx="653.66" cy="117.87" r="1.5" fill="#1f77b4"/><circle cx="656.6" cy="106.52" r="1.5" fill="#1f77b4"/><circle cx="659.54" cy="123.43" r="1.5" fill="#1f77b4"/><circle cx="662.48" cy="103.91" r="1.5" fill="#1f77b4"/><circle cx="665.42" cy="24.16" r="1.5" fill="#1f77b4"/><circle cx="668.36" cy="69.36" r="1.5" fill="#1f77b4"/>
<path d="M409.64 121.18L412.58 118.22L415.52 121.18L418.46 123.45L421.4 123.45L424.34 115.95L427.28 121.7L430.22 118.22L433.16 119.96L436.1 119.44L439.04 122.05L441.98 123.28L444.92 122.93L447.86 122.93L450.8 122.93L453.74 122.93L456.68 122.93L459.62 122.4L462.56 122.58L465.5 122.93L468.44 122.93L471.38 122.93L474.32 122.4L477.26 122.93L480.2 122.93L483.14 122.93L486.08 122.23L489.02 121.7L491.96 122.58L494.9 121.7L497.84 122.93L500.78 122.93L503.72 122.93L506.66 122.4L509.6 121.88L512.54 122.93L515.48 122.93L518.42 122.93L521.36 122.93L524.3 122.93L527.24 122.93L530.18 122.93L533.12 122.93L536.06 121.7L539 122.93L541.94 122.93L544.88 122.93L547.82 122.93L550.76 122.93L553.7 122.93L556.64 122.93L559.58 122.93L562.52 122.93L565.46 122.93L568.4 122.93L571.34 122.93L574.28 122.93L577.22 122.93L580.16 122.93L583.1 122.93L586.04 122.93L588.98 122.05L591.92 122.05L594.86 122.05L597.8 122.23L600.74 122.93L603.68 122.93L606.62 122.93L609.56 122.93L612.5 122.05L615.44 122.93L618.38 122.93L621.32 122.93L624.26 122.93L627.2 122.93L630.14 122.93L633.08 122.93L636.02 122.93L638.96 122.93L641.9 122.93L644.84 122.93L647.78 122.93L650.72 122.93L653.66 122.93L656.6 122.93L659.54 122.93L662.48 122.93L665.42 121.7L668.36 122.58" fill="none" stroke="#ff7f0e" stroke-width="0.87" stroke-linejoin="round"/><path d="M409.64 120.15V122.21M408.54 120.15H410.74M408.54 122.21H410.74" stroke="#ff7f0e" stroke-width="0.6" fill="none"/><circle cx="409.64" cy="121.18" r="0.85" fill="#ff7f0e"/><path d="M412.58 116.89V119.54M411.48 116.89H413.68M411.48 119.54H413.68" stroke="#ff7f0e" stroke-width="0.6" fill="none"/><circle cx="412.58" cy="118.22" r="0.85" fill="#ff7f0e"/><path d="M415.52 120.15V122.21M414.42 120.15H416.62M414.42 122.21H416.62" stroke="#ff7f0e" stroke-width="0.6" fill="none"/><circle cx="415.52" cy="121.18" r="0.85" fill="#ff7f0e"/><path d="M418.46 122.65V124.25M417.36 122.65H419.56M417.36 124.25H419.56" stroke="#ff7f0e" stroke-width="0.6" fill="none"/><circle cx="418.46" cy="123.45" r="0.85" fill="#ff7f0e"/><path d="M421.4 122.65V124.25M420.3 122.65H422.5M420.3 124.25H422.5" stroke="#ff7f0e" stroke-width="0.6" fill="none"/><circle cx="421.4" cy="123.45" r="0.85" fill="#ff7f0e"/><path d="M424.34 114.4V117.5M423.24 114.4H425.44M423.24 117.5H425.44" stroke="#ff7f0e" stroke-width="0.6" fill="none"/><circle cx="424.34" cy="115.95" r="0.85" fill="#ff7f0e"/><path d="M427.28 120.73V122.68M426.18 120.73H428.38M426.18 122.68H428.38" stroke="#ff7f0e" stroke-width="0.6" fill="none"/><circle cx="427.28" cy="121.7" r="0.85" fill="#ff7f0e"/><path d="M430.22 116.89V119.54M429.12 116.89H431.32M429.12 119.54H431.32" stroke="#ff7f0e" stroke-width="0.6" fill="none"/><circle cx="430.22" cy="118.22" r="0.85" fill="#ff7f0e"/><path d="M433.16 118.81V121.11M432.06 118.81H434.26M432.06 121.11H434.26" stroke="#ff7f0e" stroke-width="0.6" fill="none"/><circle cx="433.16" cy="119.96" r="0.85" fill="#ff7f0e"/><path d="M436.1 118.24V120.64M435 118.24H437.2M435 120.64H437.2" stroke="#ff7f0e" stroke-width="0.6" fill="none"/><circle cx="436.1" cy="119.44" r="0.85" fill="#ff7f0e"/><path d="M439.04 121.11V122.99M437.94 121.11H440.14M437.94 122.99H440.14" stroke="#ff7f0e" stroke-width="0.6" fill="none"/><circle cx="439.04" cy="122.05" r="0.85" fill="#ff7f0e"/><path d="M441.98 122.46V124.09M440.88 122.46H443.08M440.88 124.09H443.08" stroke="#ff7f0e" stroke-width="0.6" fill="none"/><circle cx="441.98" cy="123.28" r="0.85" fill="#ff7f0e"/><path d="M444.92 122.07V123.78M443.82 122.07H446.02M443.82 123.78H446.02" stroke="#ff7f0e" stroke-width="0.6" fill="none"/><circle cx="444.92" cy="122.93" r="0.85" fill="#ff7f0e"/><path d="M447.86 122.07V123.78M446.76 122.07H448.96M446.76 123.78H448.96" stroke="#ff7f0e" stroke-width="0.6" fill="none"/><circle cx="447.86" cy="122.93" r="0.85" fill="#ff7f0e"/><path d="M450.8 122.07V123.78M449.7 122.07H451.9M449.7 123.78H451.9" stroke="#ff7f0e" stroke-width="0.6" fill="none"/><circle cx="450.8" cy="122.93" r="0.85" fill="#ff7f0e"/><path d="M453.74 122.07V123.78M452.64 122.07H454.84M452.64 123.78H454.84" stroke="#ff7f0e" stroke-width="0.6" fill="none"/><circle cx="453.74" cy="122.93" r="0.85" fill="#ff7f0e"/><path d="M456.68 122.07V123.78M455.58 122.07H457.78M455.58 123.78H457.78" stroke="#ff7f0e" stroke-width="0.6" fill="none"/><circle cx="456.68" cy="122.93" r="0.85" fill="#ff7f0e"/><path d="M459.62 121.5V123.31M458.52 121.5H460.72M458.52 123.31H460.72" stroke="#ff7f0e" stroke-width="0.6" fill="none"/><circle cx="459.62" cy="122.4" r="0.85" fill="#ff7f0e"/><path d="M462.56 121.69V123.46M461.46 121.69H463.66M461.46 123.46H463.66" stroke="#ff7f0e" stroke-width="0.6" fill="none"/><circle cx="462.56" cy="122.58" r="0.85" fill="#ff7f0e"/><path d="M465.5 122.07V123.78M464.4 122.07H466.6M464.4 123.78H466.6" stroke="#ff7f0e" stroke-width="0.6" fill="none"/><circle cx="465.5" cy="122.93" r="0.85" fill="#ff7f0e"/><path d="M468.44 122.07V123.78M467.34 122.07H469.54M467.34 123.78H469.54" stroke="#ff7f0e" stroke-width="0.6" fill="none"/><circle cx="468.44" cy="122.93" r="0.85" fill="#ff7f0e"/><path d="M471.38 122.07V123.78M470.28 122.07H472.48M470.28 123.78H472.48" stroke="#ff7f0e" stroke-width="0.6" fill="none"/><circle cx="471.38" cy="122.93" r="0.85" fill="#ff7f0e"/><path d="M474.32 121.5V123.31M473.22 121.5H475.42M473.22 123.31H475.42" stroke="#ff7f0e" stroke-width="0.6" fill="none"/><circle cx="474.32" cy="122.4" r="0.85" fill="#ff7f0e"/><path d="M477.26 122.07V123.78M476.16 122.07H478.36M476.16 123.78H478.36" stroke="#ff7f0e" stroke-width="0.6" fill="none"/><circle cx="477.26" cy="122.93" r="0.85" fill="#ff7f0e"/><path d="M480.2 122.07V123.78M479.1 122.07H481.3M479.1 123.78H481.3" stroke="#ff7f0e" stroke-width="0.6" fill="none"/><circle cx="480.2" cy="122.93" r="0.85" fill="#ff7f0e"/><path d="M483.14 122.07V123.78M482.04 122.07H484.24M482.04 123.78H484.24" stroke="#ff7f0e" stroke-width="0.6" fill="none"/><circle cx="483.14" cy="122.93" r="0.85" fill="#ff7f0e"/><path d="M486.08 121.31V123.15M484.98 121.31H487.18M484.98 123.15H487.18" stroke="#ff7f0e" stroke-width="0.6" fill="none"/><circle cx="486.08" cy="122.23" r="0.85" fill="#ff7f0e"/><path d="M489.02 120.73V122.68M487.92 120.73H490.12M487.92 122.68H490.12" stroke="#ff7f0e" stroke-width="0.6" fill="none"/><circle cx="489.02" cy="121.7" r="0.85" fill="#ff7f0e"/><path d="M491.96 121.69V123.46M490.86 121.69H493.06M490.86 123.46H493.06" stroke="#ff7f0e" stroke-width="0.6" fill="none"/><circle cx="491.96" cy="122.58" r="0.85" fill="#ff7f0e"/><path d="M494.9 120.73V122.68M493.8 120.73H496M493.8 122.68H496" stroke="#ff7f0e" stroke-width="0.6" fill="none"/><circle cx="494.9" cy="121.7" r="0.85" fill="#ff7f0e"/><path d="M497.84 122.07V123.78M496.74 122.07H498.94M496.74 123.78H498.94" stroke="#ff7f0e" stroke-width="0.6" fill="none"/><circle cx="497.84" cy="122.93" r="0.85" fill="#ff7f0e"/><path d="M500.78 122.07V123.78M499.68 122.07H501.88M499.68 123.78H501.88" stroke="#ff7f0e" stroke-width="0.6" fill="none"/><circle cx="500.78" cy="122.93" r="0.85" fill="#ff7f0e"/><path d="M503.72 122.07V123.78M502.62 122.07H504.82M502.62 123.78H504.82" stroke="#ff7f0e" stroke-width="0.6" fill="none"/><circle cx="503.72" cy="122.93" r="0.85" fill="#ff7f0e"/><path d="M506.66 121.5V123.31M505.56 121.5H507.76M505.56 123.31H507.76" stroke="#ff7f0e" stroke-width="0.6" fill="none"/><circle cx="506.66" cy="122.4" r="0.85" fill="#ff7f0e"/><path d="M509.6 120.92V122.84M508.5 120.92H510.7M508.5 122.84H510.7" stroke="#ff7f0e" stroke-width="0.6" fill="none"/><circle cx="509.6" cy="121.88" r="0.85" fill="#ff7f0e"/><path d="M512.54 122.07V123.78M511.44 122.07H513.64M511.44 123.78H513.64" stroke="#ff7f0e" stroke-width="0.6" fill="none"/><circle cx="512.54" cy="122.93" r="0.85" fill="#ff7f0e"/><path d="M515.48 122.07V123.78M514.38 122.07H516.58M514.38 123.78H516.58" stroke="#ff7f0e" stroke-width="0.6" fill="none"/><circle cx="515.48" cy="122.93" r="0.85" fill="#ff7f0e"/><path d="M518.42 122.07V123.78M517.32 122.07H519.52M517.32 123.78H519.52" stroke="#ff7f0e" stroke-width="0.6" fill="none"/><circle cx="518.42" cy="122.93" r="0.85" fill="#ff7f0e"/><path d="M521.36 122.07V123.78M520.26 122.07H522.46M520.26 123.78H522.46" stroke="#ff7f0e" stroke-width="0.6" fill="none"/><circle cx="521.36" cy="122.93" r="0.85" fill="#ff7f0e"/><path d="M524.3 122.07V123.78M523.2 122.07H525.4M523.2 123.78H525.4" stroke="#ff7f0e" stroke-width="0.6" fill="none"/><circle cx="524.3" cy="122.93" r="0.85" fill="#ff7f0e"/><path d="M527.24 122.07V123.78M526.14 122.07H528.34M526.14 123.78H528.34" stroke="#ff7f0e" stroke-width="0.6" fill="none"/><circle cx="527.24" cy="122.93" r="0.85" fill="#ff7f0e"/><path d="M530.18 122.07V123.78M529.08 122.07H531.28M529.08 123.78H531.28" stroke="#ff7f0e" stroke-width="0.6" fill="none"/><circle cx="530.18" cy="122.93" r="0.85" fill="#ff7f0e"/><path d="M533.12 122.07V123.78M532.02 122.07H534.22M532.02 123.78H534.22" stroke="#ff7f0e" stroke-width="0.6" fill="none"/><circle cx="533.12" cy="122.93" r="0.85" fill="#ff7f0e"/><path d="M536.06 120.73V122.68M534.96 120.73H537.16M534.96 122.68H537.16" stroke="#ff7f0e" stroke-width="0.6" fill="none"/><circle cx="536.06" cy="121.7" r="0.85" fill="#ff7f0e"/><path d="M539 122.07V123.78M537.9 122.07H540.1M537.9 123.78H540.1" stroke="#ff7f0e" stroke-width="0.6" fill="none"/><circle cx="539" cy="122.93" r="0.85" fill="#ff7f0e"/><path d="M541.94 122.07V123.78M540.84 122.07H543.04M540.84 123.78H543.04" stroke="#ff7f0e" stroke-width="0.6" fill="none"/><circle cx="541.94" cy="122.93" r="0.85" fill="#ff7f0e"/><path d="M544.88 122.07V123.78M543.78 122.07H545.98M543.78 123.78H545.98" stroke="#ff7f0e" stroke-width="0.6" fill="none"/><circle cx="544.88" cy="122.93" r="0.85" fill="#ff7f0e"/><path d="M547.82 122.07V123.78M546.72 122.07H548.92M546.72 123.78H548.92" stroke="#ff7f0e" stroke-width="0.6" fill="none"/><circle cx="547.82" cy="122.93" r="0.85" fill="#ff7f0e"/><path d="M550.76 122.07V123.78M549.66 122.07H551.86M549.66 123.78H551.86" stroke="#ff7f0e" stroke-width="0.6" fill="none"/><circle cx="550.76" cy="122.93" r="0.85" fill="#ff7f0e"/><path d="M553.7 122.07V123.78M552.6 122.07H554.8M552.6 123.78H554.8" stroke="#ff7f0e" stroke-width="0.6" fill="none"/><circle cx="553.7" cy="122.93" r="0.85" fill="#ff7f0e"/><path d="M556.64 122.07V123.78M555.54 122.07H557.74M555.54 123.78H557.74" stroke="#ff7f0e" stroke-width="0.6" fill="none"/><circle cx="556.64" cy="122.93" r="0.85" fill="#ff7f0e"/><path d="M559.58 122.07V123.78M558.48 122.07H560.68M558.48 123.78H560.68" stroke="#ff7f0e" stroke-width="0.6" fill="none"/><circle cx="559.58" cy="122.93" r="0.85" fill="#ff7f0e"/><path d="M562.52 122.07V123.78M561.42 122.07H563.62M561.42 123.78H563.62" stroke="#ff7f0e" stroke-width="0.6" fill="none"/><circle cx="562.52" cy="122.93" r="0.85" fill="#ff7f0e"/><path d="M565.46 122.07V123.78M564.36 122.07H566.56M564.36 123.78H566.56" stroke="#ff7f0e" stroke-width="0.6" fill="none"/><circle cx="565.46" cy="122.93" r="0.85" fill="#ff7f0e"/><path d="M568.4 122.07V123.78M567.3 122.07H569.5M567.3 123.78H569.5" stroke="#ff7f0e" stroke-width="0.6" fill="none"/><circle cx="568.4" cy="122.93" r="0.85" fill="#ff7f0e"/><path d="M571.34 122.07V123.78M570.24 122.07H572.44M570.24 123.78H572.44" stroke="#ff7f0e" stroke-width="0.6" fill="none"/><circle cx="571.34" cy="122.93" r="0.85" fill="#ff7f0e"/><path d="M574.28 122.07V123.78M573.18 122.07H575.38M573.18 123.78H575.38" stroke="#ff7f0e" stroke-width="0.6" fill="none"/><circle cx="574.28" cy="122.93" r="0.85" fill="#ff7f0e"/><path d="M577.22 122.07V123.78M576.12 122.07H578.32M576.12 123.78H578.32" stroke="#ff7f0e" stroke-width="0.6" fill="none"/><circle cx="577.22" cy="122.93" r="0.85" fill="#ff7f0e"/><path d="M580.16 122.07V123.78M579.06 122.07H581.26M579.06 123.78H581.26" stroke="#ff7f0e" stroke-width="0.6" fill="none"/><circle cx="580.16" cy="122.93" r="0.85" fill="#ff7f0e"/><path d="M583.1 122.07V123.78M582 122.07H584.2M582 123.78H584.2" stroke="#ff7f0e" stroke-width="0.6" fill="none"/><circle cx="583.1" cy="122.93" r="0.85" fill="#ff7f0e"/><path d="M586.04 122.07V123.78M584.94 122.07H587.14M584.94 123.78H587.14" stroke="#ff7f0e" stroke-width="0.6" fill="none"/><circle cx="586.04" cy="122.93" r="0.85" fill="#ff7f0e"/><path d="M588.98 121.11V122.99M587.88 121.11H590.08M587.88 122.99H590.08" stroke="#ff7f0e" stroke-width="0.6" fill="none"/><circle cx="588.98" cy="122.05" r="0.85" fill="#ff7f0e"/><path d="M591.92 121.11V122.99M590.82 121.11H593.02M590.82 122.99H593.02" stroke="#ff7f0e" stroke-width="0.6" fill="none"/><circle cx="591.92" cy="122.05" r="0.85" fill="#ff7f0e"/><path d="M594.86 121.11V122.99M593.76 121.11H595.96M593.76 122.99H595.96" stroke="#ff7f0e" stroke-width="0.6" fill="none"/><circle cx="594.86" cy="122.05" r="0.85" fill="#ff7f0e"/><path d="M597.8 121.31V123.15M596.7 121.31H598.9M596.7 123.15H598.9" stroke="#ff7f0e" stroke-width="0.6" fill="none"/><circle cx="597.8" cy="122.23" r="0.85" fill="#ff7f0e"/><path d="M600.74 122.07V123.78M599.64 122.07H601.84M599.64 123.78H601.84" stroke="#ff7f0e" stroke-width="0.6" fill="none"/><circle cx="600.74" cy="122.93" r="0.85" fill="#ff7f0e"/><path d="M603.68 122.07V123.78M602.58 122.07H604.78M602.58 123.78H604.78" stroke="#ff7f0e" stroke-width="0.6" fill="none"/><circle cx="603.68" cy="122.93" r="0.85" fill="#ff7f0e"/><path d="M606.62 122.07V123.78M605.52 122.07H607.72M605.52 123.78H607.72" stroke="#ff7f0e" stroke-width="0.6" fill="none"/><circle cx="606.62" cy="122.93" r="0.85" fill="#ff7f0e"/><path d="M609.56 122.07V123.78M608.46 122.07H610.66M608.46 123.78H610.66" stroke="#ff7f0e" stroke-width="0.6" fill="none"/><circle cx="609.56" cy="122.93" r="0.85" fill="#ff7f0e"/><path d="M612.5 121.11V122.99M611.4 121.11H613.6M611.4 122.99H613.6" stroke="#ff7f0e" stroke-width="0.6" fill="none"/><circle cx="612.5" cy="122.05" r="0.85" fill="#ff7f0e"/><path d="M615.44 122.07V123.78M614.34 122.07H616.54M614.34 123.78H616.54" stroke="#ff7f0e" stroke-width="0.6" fill="none"/><circle cx="615.44" cy="122.93" r="0.85" fill="#ff7f0e"/><path d="M618.38 122.07V123.78M617.28 122.07H619.48M617.28 123.78H619.48" stroke="#ff7f0e" stroke-width="0.6" fill="none"/><circle cx="618.38" cy="122.93" r="0.85" fill="#ff7f0e"/><path d="M621.32 122.07V123.78M620.22 122.07H622.42M620.22 123.78H622.42" stroke="#ff7f0e" stroke-width="0.6" fill="none"/><circle cx="621.32" cy="122.93" r="0.85" fill="#ff7f0e"/><path d="M624.26 122.07V123.78M623.16 122.07H625.36M623.16 123.78H625.36" stroke="#ff7f0e" stroke-width="0.6" fill="none"/><circle cx="624.26" cy="122.93" r="0.85" fill="#ff7f0e"/><path d="M627.2 122.07V123.78M626.1 122.07H628.3M626.1 123.78H628.3" stroke="#ff7f0e" stroke-width="0.6" fill="none"/><circle cx="627.2" cy="122.93" r="0.85" fill="#ff7f0e"/><path d="M630.14 122.07V123.78M629.04 122.07H631.24M629.04 123.78H631.24" stroke="#ff7f0e" stroke-width="0.6" fill="none"/><circle cx="630.14" cy="122.93" r="0.85" fill="#ff7f0e"/><path d="M633.08 122.07V123.78M631.98 122.07H634.18M631.98 123.78H634.18" stroke="#ff7f0e" stroke-width="0.6" fill="none"/><circle cx="633.08" cy="122.93" r="0.85" fill="#ff7f0e"/><path d="M636.02 122.07V123.78M634.92 122.07H637.12M634.92 123.78H637.12" stroke="#ff7f0e" stroke-width="0.6" fill="none"/><circle cx="636.02" cy="122.93" r="0.85" fill="#ff7f0e"/><path d="M638.96 122.07V123.78M637.86 122.07H640.06M637.86 123.78H640.06" stroke="#ff7f0e" stroke-width="0.6" fill="none"/><circle cx="638.96" cy="122.93" r="0.85" fill="#ff7f0e"/><path d="M641.9 122.07V123.78M640.8 122.07H643M640.8 123.78H643" stroke="#ff7f0e" stroke-width="0.6" fill="none"/><circle cx="641.9" cy="122.93" r="0.85" fill="#ff7f0e"/><path d="M644.84 122.07V123.78M643.74 122.07H645.94M643.74 123.78H645.94" stroke="#ff7f0e" stroke-width="0.6" fill="none"/><circle cx="644.84" cy="122.93" r="0.85" fill="#ff7f0e"/><path d="M647.78 122.07V123.78M646.68 122.07H648.88M646.68 123.78H648.88" stroke="#ff7f0e" stroke-width="0.6" fill="none"/><circle cx="647.78" cy="122.93" r="0.85" fill="#ff7f0e"/><path d="M650.72 122.07V123.78M649.62 122.07H651.82M649.62 123.78H651.82" stroke="#ff7f0e" stroke-width="0.6" fill="none"/><circle cx="650.72" cy="122.93" r="0.85" fill="#ff7f0e"/><path d="M653.66 122.07V123.78M652.56 122.07H654.76M652.56 123.78H654.76" stroke="#ff7f0e" stroke-width="0.6" fill="none"/><circle cx="653.66" cy="122.93" r="0.85" fill="#ff7f0e"/><path d="M656.6 122.07V123.78M655.5 122.07H657.7M655.5 123.78H657.7" stroke="#ff7f0e" stroke-width="0.6" fill="none"/><circle cx="656.6" cy="122.93" r="0.85" fill="#ff7f0e"/><path d="M659.54 122.07V123.78M658.44 122.07H660.64M658.44 123.78H660.64" stroke="#ff7f0e" stroke-width="0.6" fill="none"/><circle cx="659.54" cy="122.93" r="0.85" fill="#ff7f0e"/><path d="M662.48 122.07V123.78M661.38 122.07H663.58M661.38 123.78H663.58" stroke="#ff7f0e" stroke-width="0.6" fill="none"/><circle cx="662.48" cy="122.93" r="0.85" fill="#ff7f0e"/><path d="M665.42 120.73V122.68M664.32 120.73H666.52M664.32 122.68H666.52" stroke="#ff7f0e" stroke-width="0.6" fill="none"/><circle cx="665.42" cy="121.7" r="0.85" fill="#ff7f0e"/><path d="M668.36 121.69V123.46M667.26 121.69H669.46M667.26 123.46H669.46" stroke="#ff7f0e" stroke-width="0.6" fill="none"/><circle cx="668.36" cy="122.58" r="0.85" fill="#ff7f0e"/>
</g>
<path d="M499.4 3.55H509.2" stroke="#1f77b4" stroke-width="0.87"/><circle cx="504.3" cy="3.55" r="1.3" fill="#1f77b4"/><text x="511.1" y="7.75" font-size="10" text-anchor="start" font-family='"Liberation Sans", "DejaVu Sans", sans-serif' fill="#4c4c4c" textLength="12.4" lengthAdjust="spacingAndGlyphs">EC</text><path d="M526.6 3.55H536.2" stroke="#ff7f0e" stroke-width="0.87"/><circle cx="531.4" cy="3.55" r="1.3" fill="#ff7f0e"/><text x="538.1" y="7.75" font-size="10" text-anchor="start" font-family='"Liberation Sans", "DejaVu Sans", sans-serif' fill="#4c4c4c" textLength="41.6" lengthAdjust="spacingAndGlyphs">EC mean</text>
<clipPath id="cc"><rect x="34.3" y="208" width="293.7" height="121.69999999999999"/></clipPath>
<path d="M76.9 208V329.7" stroke="#eeeeee" stroke-width="0.6"/><path d="M106.55 208V329.7" stroke="#eeeeee" stroke-width="0.6"/><path d="M136.2 208V329.7" stroke="#eeeeee" stroke-width="0.6"/><path d="M165.85 208V329.7" stroke="#eeeeee" stroke-width="0.6"/><path d="M195.5 208V329.7" stroke="#eeeeee" stroke-width="0.6"/><path d="M225.15 208V329.7" stroke="#eeeeee" stroke-width="0.6"/><path d="M254.8 208V329.7" stroke="#eeeeee" stroke-width="0.6"/><path d="M284.45 208V329.7" stroke="#eeeeee" stroke-width="0.6"/><path d="M314.1 208V329.7" stroke="#eeeeee" stroke-width="0.6"/><path d="M34.3 308.25H328" stroke="#eeeeee" stroke-width="0.6"/><path d="M34.3 292.95H328" stroke="#eeeeee" stroke-width="0.6"/><path d="M34.3 277.65H328" stroke="#eeeeee" stroke-width="0.6"/><path d="M34.3 262.35H328" stroke="#eeeeee" stroke-width="0.6"/><path d="M34.3 247.05H328" stroke="#eeeeee" stroke-width="0.6"/><path d="M34.3 231.75H328" stroke="#eeeeee" stroke-width="0.6"/><path d="M34.3 216.45H328" stroke="#eeeeee" stroke-width="0.6"/><path d="M34.3 323.55H328" stroke="#606060" stroke-width="0.5"/><path d="M47.25 208V329.7" stroke="#606060" stroke-width="0.5"/><text x="47.25" y="341.8" font-size="10" text-anchor="middle" font-family='"Liberation Sans", "DejaVu Sans", sans-serif' fill="#4c4c4c">0</text><text x="76.9" y="341.8" font-size="10" text-anchor="middle" font-family='"Liberation Sans", "DejaVu Sans", sans-serif' fill="#4c4c4c">10</text><text x="106.55" y="341.8" font-size="10" text-anchor="middle" font-family='"Liberation Sans", "DejaVu Sans", sans-serif' fill="#4c4c4c">20</text><text x="136.2" y="341.8" font-size="10" text-anchor="middle" font-family='"Liberation Sans", "DejaVu Sans", sans-serif' fill="#4c4c4c">30</text><text x="165.85" y="341.8" font-size="10" text-anchor="middle" font-family='"Liberation Sans", "DejaVu Sans", sans-serif' fill="#4c4c4c">40</text><text x="195.5" y="341.8" font-size="10" text-anchor="middle" font-family='"Liberation Sans", "DejaVu Sans", sans-serif' fill="#4c4c4c">50</text><text x="225.15" y="341.8" font-size="10" text-anchor="middle" font-family='"Liberation Sans", "DejaVu Sans", sans-serif' fill="#4c4c4c">60</text><text x="254.8" y="341.8" font-size="10" text-anchor="middle" font-family='"Liberation Sans", "DejaVu Sans", sans-serif' fill="#4c4c4c">70</text><text x="284.45" y="341.8" font-size="10" text-anchor="middle" font-family='"Liberation Sans", "DejaVu Sans", sans-serif' fill="#4c4c4c">80</text><text x="314.1" y="341.8" font-size="10" text-anchor="middle" font-family='"Liberation Sans", "DejaVu Sans", sans-serif' fill="#4c4c4c">90</text><text x="33.6" y="327.1" font-size="10" text-anchor="end" font-family='"Liberation Sans", "DejaVu Sans", sans-serif' fill="#4c4c4c">0</text><text x="33.6" y="311.8" font-size="10" text-anchor="end" font-family='"Liberation Sans", "DejaVu Sans", sans-serif' fill="#4c4c4c" textLength="18" lengthAdjust="spacingAndGlyphs">50μ</text><text x="33.6" y="296.5" font-size="10" text-anchor="end" font-family='"Liberation Sans", "DejaVu Sans", sans-serif' fill="#4c4c4c" textLength="23.7" lengthAdjust="spacingAndGlyphs">100μ</text><text x="33.6" y="281.2" font-size="10" text-anchor="end" font-family='"Liberation Sans", "DejaVu Sans", sans-serif' fill="#4c4c4c" textLength="23.7" lengthAdjust="spacingAndGlyphs">150μ</text><text x="33.6" y="265.9" font-size="10" text-anchor="end" font-family='"Liberation Sans", "DejaVu Sans", sans-serif' fill="#4c4c4c" textLength="23.7" lengthAdjust="spacingAndGlyphs">200μ</text><text x="33.6" y="250.6" font-size="10" text-anchor="end" font-family='"Liberation Sans", "DejaVu Sans", sans-serif' fill="#4c4c4c" textLength="23.7" lengthAdjust="spacingAndGlyphs">250μ</text><text x="33.6" y="235.3" font-size="10" text-anchor="end" font-family='"Liberation Sans", "DejaVu Sans", sans-serif' fill="#4c4c4c" textLength="23.7" lengthAdjust="spacingAndGlyphs">300μ</text><text x="33.6" y="220" font-size="10" text-anchor="end" font-family='"Liberation Sans", "DejaVu Sans", sans-serif' fill="#4c4c4c" textLength="23.7" lengthAdjust="spacingAndGlyphs">350μ</text><text x="131.4" y="355.2" font-size="10" text-anchor="start" font-family='"Liberation Sans", "DejaVu Sans", sans-serif' fill="#4c4c4c" textLength="98.7" lengthAdjust="spacingAndGlyphs">Block of 10 iterations</text><text transform="translate(7.3 269.5) rotate(-90)" font-size="10" text-anchor="middle" font-family='"Liberation Sans", "DejaVu Sans", sans-serif' fill="#4c4c4c">K</text><text x="95" y="384.8" font-size="14.7" text-anchor="start" font-family='"Liberation Serif", "DejaVu Serif", serif' fill="#000000" textLength="139.7" lengthAdjust="spacingAndGlyphs">(c) PageRank centrality</text>
<g clip-path="url(#cc)">
<path d="M50.22 272.75L53.18 286.22L56.14 292.95L59.11 315.29L62.08 315.29L65.04 241.85L68 269.08L70.97 215.84L73.94 261.74L76.9 255.92L79.86 303.35L82.83 318.35L85.8 308.25L88.76 310.09L91.72 301.21L94.69 312.84L97.66 314.06L100.62 303.66L103.58 302.13L106.55 313.76L109.52 320.18L112.48 319.27L115.44 292.95L118.41 319.88L121.38 318.35L124.34 305.19L127.3 308.56L130.27 280.4L133.24 306.41L136.2 286.83L139.16 316.51L142.13 320.8L145.09 319.27L148.06 311.92L151.02 288.36L153.99 318.35L156.95 320.49L159.92 318.04L162.88 292.03L165.85 321.41L168.81 321.41L171.78 321.41L174.75 321.1L177.71 290.81L180.67 318.96L183.64 320.8L186.6 321.1L189.57 321.1L192.53 321.41L195.5 316.82L198.47 317.43L201.43 316.21L204.39 318.04L207.36 318.04L210.32 321.41L213.29 322.33L216.25 303.05L219.22 315.29L222.19 321.41L225.15 321.41L228.11 320.8L231.08 301.82L234.04 301.21L237.01 307.03L239.97 310.7L242.94 317.74L245.91 319.27L248.87 318.35L251.83 322.02L254.8 311L257.76 321.41L260.73 322.33L263.69 314.68L266.66 321.41L269.62 322.63L272.59 297.85L275.55 321.41L278.52 318.65L281.49 317.12L284.45 319.27L287.41 318.35L290.38 318.96L293.35 315.29L296.31 318.04L299.27 311.31L302.24 322.33L305.2 311.62L308.17 305.5L311.13 297.23" fill="none" stroke="#1f77b4" stroke-width="0.87" stroke-linejoin="round"/><circle cx="50.22" cy="272.75" r="1.5" fill="#1f77b4"/><circle cx="53.18" cy="286.22" r="1.5" fill="#1f77b4"/><circle cx="56.14" cy="292.95" r="1.5" fill="#1f77b4"/><circle cx="59.11" cy="315.29" r="1.5" fill="#1f77b4"/><circle cx="62.08" cy="315.29" r="1.5" fill="#1f77b4"/><circle cx="65.04" cy="241.85" r="1.5" fill="#1f77b4"/><circle cx="68" cy="269.08" r="1.5" fill="#1f77b4"/><circle cx="70.97" cy="215.84" r="1.5" fill="#1f77b4"/><circle cx="73.94" cy="261.74" r="1.5" fill="#1f77b4"/><circle cx="76.9" cy="255.92" r="1.5" fill="#1f77b4"/><circle cx="79.86" cy="303.35" r="1.5" fill="#1f77b4"/><circle cx="82.83" cy="318.35" r="1.5" fill="#1f77b4"/><circle cx="85.8" cy="308.25" r="1.5" fill="#1f77b4"/><circle cx="88.76" cy="310.09" r="1.5" fill="#1f77b4"/><circle cx="91.72" cy="301.21" r="1.5" fill="#1f77b4"/><circle cx="94.69" cy="312.84" r="1.5" fill="#1f77b4"/><circle cx="97.66" cy="314.06" r="1.5" fill="#1f77b4"/><circle cx="100.62" cy="303.66" r="1.5" fill="#1f77b4"/><circle cx="103.58" cy="302.13" r="1.5" fill="#1f77b4"/><circle cx="106.55" cy="313.76" r="1.5" fill="#1f77b4"/><circle cx="109.52" cy="320.18" r="1.5" fill="#1f77b4"/><circle cx="112.48" cy="319.27" r="1.5" fill="#1f77b4"/><circle cx="115.44" cy="292.95" r="1.5" fill="#1f77b4"/><circle cx="118.41" cy="319.88" r="1.5" fill="#1f77b4"/><circle cx="121.38" cy="318.35" r="1.5" fill="#1f77b4"/><circle cx="124.34" cy="305.19" r="1.5" fill="#1f77b4"/><circle cx="127.3" cy="308.56" r="1.5" fill="#1f77b4"/><circle cx="130.27" cy="280.4" r="1.5" fill="#1f77b4"/><circle cx="133.24" cy="306.41" r="1.5" fill="#1f77b4"/><circle cx="136.2" cy="286.83" r="1.5" fill="#1f77b4"/><circle cx="139.16" cy="316.51" r="1.5" fill="#1f77b4"/><circle cx="142.13" cy="320.8" r="1.5" fill="#1f77b4"/><circle cx="145.09" cy="319.27" r="1.5" fill="#1f77b4"/><circle cx="148.06" cy="311.92" r="1.5" fill="#1f77b4"/><circle cx="151.02" cy="288.36" r="1.5" fill="#1f77b4"/><circle cx="153.99" cy="318.35" r="1.5" fill="#1f77b4"/><circle cx="156.95" cy="320.49" r="1.5" fill="#1f77b4"/><circle cx="159.92" cy="318.04" r="1.5" fill="#1f77b4"/><circle cx="162.88" cy="292.03" r="1.5" fill="#1f77b4"/><circle cx="165.85" cy="321.41" r="1.5" fill="#1f77b4"/><circle cx="168.81" cy="321.41" r="1.5" fill="#1f77b4"/><circle cx="171.78" cy="321.41" r="1.5" fill="#1f77b4"/><circle cx="174.75" cy="321.1" r="1.5" fill="#1f77b4"/><circle cx="177.71" cy="290.81" r="1.5" fill="#1f77b4"/><circle cx="180.67" cy="318.96" r="1.5" fill="#1f77b4"/><circle cx="183.64" cy="320.8" r="1.5" fill="#1f77b4"/><circle cx="186.6" cy="321.1" r="1.5" fill="#1f77b4"/><circle cx="189.57" cy="321.1" r="1.5" fill="#1f77b4"/><circle cx="192.53" cy="321.41" r="1.5" fill="#1f77b4"/><circle cx="195.5" cy="316.82" r="1.5" fill="#1f77b4"/><circle cx="198.47" cy="317.43" r="1.5" fill="#1f77b4"/><circle cx="201.43" cy="316.21" r="1.5" fill="#1f77b4"/><circle cx="204.39" cy="318.04" r="1.5" fill="#1f77b4"/><circle cx="207.36" cy="318.04" r="1.5" fill="#1f77b4"/><circle cx="210.32" cy="321.41" r="1.5" fill="#1f77b4"/><circle cx="213.29" cy="322.33" r="1.5" fill="#1f77b4"/><circle cx="216.25" cy="303.05" r="1.5" fill="#1f77b4"/><circle cx="219.22" cy="315.29" r="1.5" fill="#1f77b4"/><circle cx="222.19" cy="321.41" r="1.5" fill="#1f77b4"/><circle cx="225.15" cy="321.41" r="1.5" fill="#1f77b4"/><circle cx="228.11" cy="320.8" r="1.5" fill="#1f77b4"/><circle cx="231.08" cy="301.82" r="1.5" fill="#1f77b4"/><circle cx="234.04" cy="301.21" r="1.5" fill="#1f77b4"/><circle cx="237.01" cy="307.03" r="1.5" fill="#1f77b4"/><circle cx="239.97" cy="310.7" r="1.5" fill="#1f77b4"/><circle cx="242.94" cy="317.74" r="1.5" fill="#1f77b4"/><circle cx="245.91" cy="319.27" r="1.5" fill="#1f77b4"/><circle cx="248.87" cy="318.35" r="1.5" fill="#1f77b4"/><circle cx="251.83" cy="322.02" r="1.5" fill="#1f77b4"/><circle cx="254.8" cy="311" r="1.5" fill="#1f77b4"/><circle cx="257.76" cy="321.41" r="1.5" fill="#1f77b4"/><circle cx="260.73" cy="322.33" r="1.5" fill="#1f77b4"/><circle cx="263.69" cy="314.68" r="1.5" fill="#1f77b4"/><circle cx="266.66" cy="321.41" r="1.5" fill="#1f77b4"/><circle cx="269.62" cy="322.63" r="1.5" fill="#1f77b4"/><circle cx="272.59" cy="297.85" r="1.5" fill="#1f77b4"/><circle cx="275.55" cy="321.41" r="1.5" fill="#1f77b4"/><circle cx="278.52" cy="318.65" r="1.5" fill="#1f77b4"/><circle cx="281.49" cy="317.12" r="1.5" fill="#1f77b4"/><circle cx="284.45" cy="319.27" r="1.5" fill="#1f77b4"/><circle cx="287.41" cy="318.35" r="1.5" fill="#1f77b4"/><circle cx="290.38" cy="318.96" r="1.5" fill="#1f77b4"/><circle cx="293.35" cy="315.29" r="1.5" fill="#1f77b4"/><circle cx="296.31" cy="318.04" r="1.5" fill="#1f77b4"/><circle cx="299.27" cy="311.31" r="1.5" fill="#1f77b4"/><circle cx="302.24" cy="322.33" r="1.5" fill="#1f77b4"/><circle cx="305.2" cy="311.62" r="1.5" fill="#1f77b4"/><circle cx="308.17" cy="305.5" r="1.5" fill="#1f77b4"/><circle cx="311.13" cy="297.23" r="1.5" fill="#1f77b4"/>
<path d="M50.22 318.04L53.18 320.18L56.14 319.27L59.11 321.71L62.08 322.02L65.04 315.29L68 318.35L70.97 315.59L73.94 318.35L76.9 318.35L79.86 321.41L82.83 322.63L85.8 322.33L88.76 322.33L91.72 322.33L94.69 322.33L97.66 322.33L100.62 322.33L103.58 322.33L106.55 322.33L109.52 323.24L112.48 323.24L115.44 322.33L118.41 323.24L121.38 323.24L124.34 322.63L127.3 322.33L130.27 321.1L133.24 322.33L136.2 322.02L139.16 322.94L142.13 322.94L145.09 322.94L148.06 322.94L151.02 322.63L153.99 322.94L156.95 322.94L159.92 322.94L162.88 322.63L165.85 322.94L168.81 322.94L171.78 322.94L174.75 322.94L177.71 322.33L180.67 322.94L183.64 322.94L186.6 322.94L189.57 322.94L192.53 322.94L195.5 322.94L198.47 322.94L201.43 322.94L204.39 322.94L207.36 322.94L210.32 322.94L213.29 322.94L216.25 322.94L219.22 322.94L222.19 322.94L225.15 322.94L228.11 322.94L231.08 322.63L234.04 322.63L237.01 322.94L239.97 322.94L242.94 322.94L245.91 322.94L248.87 322.94L251.83 322.94L254.8 322.94L257.76 322.94L260.73 322.94L263.69 322.94L266.66 322.94L269.62 322.94L272.59 322.94L275.55 322.94L278.52 322.94L281.49 322.94L284.45 322.94L287.41 322.94L290.38 322.94L293.35 322.94L296.31 322.94L299.27 322.94L302.24 322.94L305.2 322.94L308.17 322.94L311.13 322.94" fill="none" stroke="#ff7f0e" stroke-width="0.87" stroke-linejoin="round"/><path d="M50.22 316.86V319.23M49.12 316.86H51.32M49.12 319.23H51.32" stroke="#ff7f0e" stroke-width="0.6" fill="none"/><circle cx="50.22" cy="318.04" r="0.85" fill="#ff7f0e"/><path d="M53.18 319.15V321.22M52.08 319.15H54.28M52.08 321.22H54.28" stroke="#ff7f0e" stroke-width="0.6" fill="none"/><circle cx="53.18" cy="320.18" r="0.85" fill="#ff7f0e"/><path d="M56.14 318.17V320.37M55.04 318.17H57.24M55.04 320.37H57.24" stroke="#ff7f0e" stroke-width="0.6" fill="none"/><circle cx="56.14" cy="319.27" r="0.85" fill="#ff7f0e"/><path d="M59.11 320.79V322.64M58.01 320.79H60.21M58.01 322.64H60.21" stroke="#ff7f0e" stroke-width="0.6" fill="none"/><circle cx="59.11" cy="321.71" r="0.85" fill="#ff7f0e"/><path d="M62.08 321.11V322.93M60.98 321.11H63.18M60.98 322.93H63.18" stroke="#ff7f0e" stroke-width="0.6" fill="none"/><circle cx="62.08" cy="322.02" r="0.85" fill="#ff7f0e"/><path d="M65.04 313.91V316.67M63.94 313.91H66.14M63.94 316.67H66.14" stroke="#ff7f0e" stroke-width="0.6" fill="none"/><circle cx="65.04" cy="315.29" r="0.85" fill="#ff7f0e"/><path d="M68 317.18V319.51M66.91 317.18H69.1M66.91 319.51H69.1" stroke="#ff7f0e" stroke-width="0.6" fill="none"/><circle cx="68" cy="318.35" r="0.85" fill="#ff7f0e"/><path d="M70.97 314.24V316.95M69.87 314.24H72.07M69.87 316.95H72.07" stroke="#ff7f0e" stroke-width="0.6" fill="none"/><circle cx="70.97" cy="315.59" r="0.85" fill="#ff7f0e"/><path d="M73.94 317.18V319.51M72.84 317.18H75.03M72.84 319.51H75.03" stroke="#ff7f0e" stroke-width="0.6" fill="none"/><circle cx="73.94" cy="318.35" r="0.85" fill="#ff7f0e"/><path d="M76.9 317.18V319.51M75.8 317.18H78M75.8 319.51H78" stroke="#ff7f0e" stroke-width="0.6" fill="none"/><circle cx="76.9" cy="318.35" r="0.85" fill="#ff7f0e"/><path d="M79.86 320.46V322.36M78.77 320.46H80.96M78.77 322.36H80.96" stroke="#ff7f0e" stroke-width="0.6" fill="none"/><circle cx="79.86" cy="321.41" r="0.85" fill="#ff7f0e"/><path d="M82.83 321.77V323.5M81.73 321.77H83.93M81.73 323.5H83.93" stroke="#ff7f0e" stroke-width="0.6" fill="none"/><circle cx="82.83" cy="322.63" r="0.85" fill="#ff7f0e"/><path d="M85.8 321.44V323.21M84.7 321.44H86.89M84.7 323.21H86.89" stroke="#ff7f0e" stroke-width="0.6" fill="none"/><circle cx="85.8" cy="322.33" r="0.85" fill="#ff7f0e"/><path d="M88.76 321.44V323.21M87.66 321.44H89.86M87.66 323.21H89.86" stroke="#ff7f0e" stroke-width="0.6" fill="none"/><circle cx="88.76" cy="322.33" r="0.85" fill="#ff7f0e"/><path d="M91.72 321.44V323.21M90.62 321.44H92.82M90.62 323.21H92.82" stroke="#ff7f0e" stroke-width="0.6" fill="none"/><circle cx="91.72" cy="322.33" r="0.85" fill="#ff7f0e"/><path d="M94.69 321.44V323.21M93.59 321.44H95.79M93.59 323.21H95.79" stroke="#ff7f0e" stroke-width="0.6" fill="none"/><circle cx="94.69" cy="322.33" r="0.85" fill="#ff7f0e"/><path d="M97.66 321.44V323.21M96.56 321.44H98.75M96.56 323.21H98.75" stroke="#ff7f0e" stroke-width="0.6" fill="none"/><circle cx="97.66" cy="322.33" r="0.85" fill="#ff7f0e"/><path d="M100.62 321.44V323.21M99.52 321.44H101.72M99.52 323.21H101.72" stroke="#ff7f0e" stroke-width="0.6" fill="none"/><circle cx="100.62" cy="322.33" r="0.85" fill="#ff7f0e"/><path d="M103.58 321.44V323.21M102.48 321.44H104.68M102.48 323.21H104.68" stroke="#ff7f0e" stroke-width="0.6" fill="none"/><circle cx="103.58" cy="322.33" r="0.85" fill="#ff7f0e"/><path d="M106.55 321.44V323.21M105.45 321.44H107.65M105.45 323.21H107.65" stroke="#ff7f0e" stroke-width="0.6" fill="none"/><circle cx="106.55" cy="322.33" r="0.85" fill="#ff7f0e"/><path d="M109.52 322.42V324.07M108.42 322.42H110.61M108.42 324.07H110.61" stroke="#ff7f0e" stroke-width="0.6" fill="none"/><circle cx="109.52" cy="323.24" r="0.85" fill="#ff7f0e"/><path d="M112.48 322.42V324.07M111.38 322.42H113.58M111.38 324.07H113.58" stroke="#ff7f0e" stroke-width="0.6" fill="none"/><circle cx="112.48" cy="323.24" r="0.85" fill="#ff7f0e"/><path d="M115.44 321.44V323.21M114.34 321.44H116.54M114.34 323.21H116.54" stroke="#ff7f0e" stroke-width="0.6" fill="none"/><circle cx="115.44" cy="322.33" r="0.85" fill="#ff7f0e"/><path d="M118.41 322.42V324.07M117.31 322.42H119.51M117.31 324.07H119.51" stroke="#ff7f0e" stroke-width="0.6" fill="none"/><circle cx="118.41" cy="323.24" r="0.85" fill="#ff7f0e"/><path d="M121.38 322.42V324.07M120.28 322.42H122.47M120.28 324.07H122.47" stroke="#ff7f0e" stroke-width="0.6" fill="none"/><circle cx="121.38" cy="323.24" r="0.85" fill="#ff7f0e"/><path d="M124.34 321.77V323.5M123.24 321.77H125.44M123.24 323.5H125.44" stroke="#ff7f0e" stroke-width="0.6" fill="none"/><circle cx="124.34" cy="322.63" r="0.85" fill="#ff7f0e"/><path d="M127.3 321.44V323.21M126.2 321.44H128.41M126.2 323.21H128.41" stroke="#ff7f0e" stroke-width="0.6" fill="none"/><circle cx="127.3" cy="322.33" r="0.85" fill="#ff7f0e"/><path d="M130.27 320.13V322.07M129.17 320.13H131.37M129.17 322.07H131.37" stroke="#ff7f0e" stroke-width="0.6" fill="none"/><circle cx="130.27" cy="321.1" r="0.85" fill="#ff7f0e"/><path d="M133.24 321.44V323.21M132.14 321.44H134.34M132.14 323.21H134.34" stroke="#ff7f0e" stroke-width="0.6" fill="none"/><circle cx="133.24" cy="322.33" r="0.85" fill="#ff7f0e"/><path d="M136.2 321.11V322.93M135.1 321.11H137.3M135.1 322.93H137.3" stroke="#ff7f0e" stroke-width="0.6" fill="none"/><circle cx="136.2" cy="322.02" r="0.85" fill="#ff7f0e"/><path d="M139.16 322.1V323.78M138.06 322.1H140.26M138.06 323.78H140.26" stroke="#ff7f0e" stroke-width="0.6" fill="none"/><circle cx="139.16" cy="322.94" r="0.85" fill="#ff7f0e"/><path d="M142.13 322.1V323.78M141.03 322.1H143.23M141.03 323.78H143.23" stroke="#ff7f0e" stroke-width="0.6" fill="none"/><circle cx="142.13" cy="322.94" r="0.85" fill="#ff7f0e"/><path d="M145.09 322.1V323.78M144 322.1H146.19M144 323.78H146.19" stroke="#ff7f0e" stroke-width="0.6" fill="none"/><circle cx="145.09" cy="322.94" r="0.85" fill="#ff7f0e"/><path d="M148.06 322.1V323.78M146.96 322.1H149.16M146.96 323.78H149.16" stroke="#ff7f0e" stroke-width="0.6" fill="none"/><circle cx="148.06" cy="322.94" r="0.85" fill="#ff7f0e"/><path d="M151.02 321.77V323.5M149.92 321.77H152.12M149.92 323.5H152.12" stroke="#ff7f0e" stroke-width="0.6" fill="none"/><circle cx="151.02" cy="322.63" r="0.85" fill="#ff7f0e"/><path d="M153.99 322.1V323.78M152.89 322.1H155.09M152.89 323.78H155.09" stroke="#ff7f0e" stroke-width="0.6" fill="none"/><circle cx="153.99" cy="322.94" r="0.85" fill="#ff7f0e"/><path d="M156.95 322.1V323.78M155.85 322.1H158.05M155.85 323.78H158.05" stroke="#ff7f0e" stroke-width="0.6" fill="none"/><circle cx="156.95" cy="322.94" r="0.85" fill="#ff7f0e"/><path d="M159.92 322.1V323.78M158.82 322.1H161.02M158.82 323.78H161.02" stroke="#ff7f0e" stroke-width="0.6" fill="none"/><circle cx="159.92" cy="322.94" r="0.85" fill="#ff7f0e"/><path d="M162.88 321.77V323.5M161.78 321.77H163.98M161.78 323.5H163.98" stroke="#ff7f0e" stroke-width="0.6" fill="none"/><circle cx="162.88" cy="322.63" r="0.85" fill="#ff7f0e"/><path d="M165.85 322.1V323.78M164.75 322.1H166.95M164.75 323.78H166.95" stroke="#ff7f0e" stroke-width="0.6" fill="none"/><circle cx="165.85" cy="322.94" r="0.85" fill="#ff7f0e"/><path d="M168.81 322.1V323.78M167.72 322.1H169.91M167.72 323.78H169.91" stroke="#ff7f0e" stroke-width="0.6" fill="none"/><circle cx="168.81" cy="322.94" r="0.85" fill="#ff7f0e"/><path d="M171.78 322.1V323.78M170.68 322.1H172.88M170.68 323.78H172.88" stroke="#ff7f0e" stroke-width="0.6" fill="none"/><circle cx="171.78" cy="322.94" r="0.85" fill="#ff7f0e"/><path d="M174.75 322.1V323.78M173.65 322.1H175.84M173.65 323.78H175.84" stroke="#ff7f0e" stroke-width="0.6" fill="none"/><circle cx="174.75" cy="322.94" r="0.85" fill="#ff7f0e"/><path d="M177.71 321.44V323.21M176.61 321.44H178.81M176.61 323.21H178.81" stroke="#ff7f0e" stroke-width="0.6" fill="none"/><circle cx="177.71" cy="322.33" r="0.85" fill="#ff7f0e"/><path d="M180.67 322.1V323.78M179.57 322.1H181.77M179.57 323.78H181.77" stroke="#ff7f0e" stroke-width="0.6" fill="none"/><circle cx="180.67" cy="322.94" r="0.85" fill="#ff7f0e"/><path d="M183.64 322.1V323.78M182.54 322.1H184.74M182.54 323.78H184.74" stroke="#ff7f0e" stroke-width="0.6" fill="none"/><circle cx="183.64" cy="322.94" r="0.85" fill="#ff7f0e"/><path d="M186.6 322.1V323.78M185.5 322.1H187.7M185.5 323.78H187.7" stroke="#ff7f0e" stroke-width="0.6" fill="none"/><circle cx="186.6" cy="322.94" r="0.85" fill="#ff7f0e"/><path d="M189.57 322.1V323.78M188.47 322.1H190.67M188.47 323.78H190.67" stroke="#ff7f0e" stroke-width="0.6" fill="none"/><circle cx="189.57" cy="322.94" r="0.85" fill="#ff7f0e"/><path d="M192.53 322.1V323.78M191.44 322.1H193.63M191.44 323.78H193.63" stroke="#ff7f0e" stroke-width="0.6" fill="none"/><circle cx="192.53" cy="322.94" r="0.85" fill="#ff7f0e"/><path d="M195.5 322.1V323.78M194.4 322.1H196.6M194.4 323.78H196.6" stroke="#ff7f0e" stroke-width="0.6" fill="none"/><circle cx="195.5" cy="322.94" r="0.85" fill="#ff7f0e"/><path d="M198.47 322.1V323.78M197.37 322.1H199.56M197.37 323.78H199.56" stroke="#ff7f0e" stroke-width="0.6" fill="none"/><circle cx="198.47" cy="322.94" r="0.85" fill="#ff7f0e"/><path d="M201.43 322.1V323.78M200.33 322.1H202.53M200.33 323.78H202.53" stroke="#ff7f0e" stroke-width="0.6" fill="none"/><circle cx="201.43" cy="322.94" r="0.85" fill="#ff7f0e"/><path d="M204.39 322.1V323.78M203.29 322.1H205.49M203.29 323.78H205.49" stroke="#ff7f0e" stroke-width="0.6" fill="none"/><circle cx="204.39" cy="322.94" r="0.85" fill="#ff7f0e"/><path d="M207.36 322.1V323.78M206.26 322.1H208.46M206.26 323.78H208.46" stroke="#ff7f0e" stroke-width="0.6" fill="none"/><circle cx="207.36" cy="322.94" r="0.85" fill="#ff7f0e"/><path d="M210.32 322.1V323.78M209.22 322.1H211.42M209.22 323.78H211.42" stroke="#ff7f0e" stroke-width="0.6" fill="none"/><circle cx="210.32" cy="322.94" r="0.85" fill="#ff7f0e"/><path d="M213.29 322.1V323.78M212.19 322.1H214.39M212.19 323.78H214.39" stroke="#ff7f0e" stroke-width="0.6" fill="none"/><circle cx="213.29" cy="322.94" r="0.85" fill="#ff7f0e"/><path d="M216.25 322.1V323.78M215.16 322.1H217.35M215.16 323.78H217.35" stroke="#ff7f0e" stroke-width="0.6" fill="none"/><circle cx="216.25" cy="322.94" r="0.85" fill="#ff7f0e"/><path d="M219.22 322.1V323.78M218.12 322.1H220.32M218.12 323.78H220.32" stroke="#ff7f0e" stroke-width="0.6" fill="none"/><circle cx="219.22" cy="322.94" r="0.85" fill="#ff7f0e"/><path d="M222.19 322.1V323.78M221.09 322.1H223.28M221.09 323.78H223.28" stroke="#ff7f0e" stroke-width="0.6" fill="none"/><circle cx="222.19" cy="322.94" r="0.85" fill="#ff7f0e"/><path d="M225.15 322.1V323.78M224.05 322.1H226.25M224.05 323.78H226.25" stroke="#ff7f0e" stroke-width="0.6" fill="none"/><circle cx="225.15" cy="322.94" r="0.85" fill="#ff7f0e"/><path d="M228.11 322.1V323.78M227.01 322.1H229.21M227.01 323.78H229.21" stroke="#ff7f0e" stroke-width="0.6" fill="none"/><circle cx="228.11" cy="322.94" r="0.85" fill="#ff7f0e"/><path d="M231.08 321.77V323.5M229.98 321.77H232.18M229.98 323.5H232.18" stroke="#ff7f0e" stroke-width="0.6" fill="none"/><circle cx="231.08" cy="322.63" r="0.85" fill="#ff7f0e"/><path d="M234.04 321.77V323.5M232.94 321.77H235.14M232.94 323.5H235.14" stroke="#ff7f0e" stroke-width="0.6" fill="none"/><circle cx="234.04" cy="322.63" r="0.85" fill="#ff7f0e"/><path d="M237.01 322.1V323.78M235.91 322.1H238.11M235.91 323.78H238.11" stroke="#ff7f0e" stroke-width="0.6" fill="none"/><circle cx="237.01" cy="322.94" r="0.85" fill="#ff7f0e"/><path d="M239.97 322.1V323.78M238.88 322.1H241.07M238.88 323.78H241.07" stroke="#ff7f0e" stroke-width="0.6" fill="none"/><circle cx="239.97" cy="322.94" r="0.85" fill="#ff7f0e"/><path d="M242.94 322.1V323.78M241.84 322.1H244.04M241.84 323.78H244.04" stroke="#ff7f0e" stroke-width="0.6" fill="none"/><circle cx="242.94" cy="322.94" r="0.85" fill="#ff7f0e"/><path d="M245.91 322.1V323.78M244.81 322.1H247M244.81 323.78H247" stroke="#ff7f0e" stroke-width="0.6" fill="none"/><circle cx="245.91" cy="322.94" r="0.85" fill="#ff7f0e"/><path d="M248.87 322.1V323.78M247.77 322.1H249.97M247.77 323.78H249.97" stroke="#ff7f0e" stroke-width="0.6" fill="none"/><circle cx="248.87" cy="322.94" r="0.85" fill="#ff7f0e"/><path d="M251.83 322.1V323.78M250.73 322.1H252.93M250.73 323.78H252.93" stroke="#ff7f0e" stroke-width="0.6" fill="none"/><circle cx="251.83" cy="322.94" r="0.85" fill="#ff7f0e"/><path d="M254.8 322.1V323.78M253.7 322.1H255.9M253.7 323.78H255.9" stroke="#ff7f0e" stroke-width="0.6" fill="none"/><circle cx="254.8" cy="322.94" r="0.85" fill="#ff7f0e"/><path d="M257.76 322.1V323.78M256.66 322.1H258.87M256.66 323.78H258.87" stroke="#ff7f0e" stroke-width="0.6" fill="none"/><circle cx="257.76" cy="322.94" r="0.85" fill="#ff7f0e"/><path d="M260.73 322.1V323.78M259.63 322.1H261.83M259.63 323.78H261.83" stroke="#ff7f0e" stroke-width="0.6" fill="none"/><circle cx="260.73" cy="322.94" r="0.85" fill="#ff7f0e"/><path d="M263.69 322.1V323.78M262.59 322.1H264.8M262.59 323.78H264.8" stroke="#ff7f0e" stroke-width="0.6" fill="none"/><circle cx="263.69" cy="322.94" r="0.85" fill="#ff7f0e"/><path d="M266.66 322.1V323.78M265.56 322.1H267.76M265.56 323.78H267.76" stroke="#ff7f0e" stroke-width="0.6" fill="none"/><circle cx="266.66" cy="322.94" r="0.85" fill="#ff7f0e"/><path d="M269.62 322.1V323.78M268.52 322.1H270.73M268.52 323.78H270.73" stroke="#ff7f0e" stroke-width="0.6" fill="none"/><circle cx="269.62" cy="322.94" r="0.85" fill="#ff7f0e"/><path d="M272.59 322.1V323.78M271.49 322.1H273.69M271.49 323.78H273.69" stroke="#ff7f0e" stroke-width="0.6" fill="none"/><circle cx="272.59" cy="322.94" r="0.85" fill="#ff7f0e"/><path d="M275.55 322.1V323.78M274.45 322.1H276.65M274.45 323.78H276.65" stroke="#ff7f0e" stroke-width="0.6" fill="none"/><circle cx="275.55" cy="322.94" r="0.85" fill="#ff7f0e"/><path d="M278.52 322.1V323.78M277.42 322.1H279.62M277.42 323.78H279.62" stroke="#ff7f0e" stroke-width="0.6" fill="none"/><circle cx="278.52" cy="322.94" r="0.85" fill="#ff7f0e"/><path d="M281.49 322.1V323.78M280.38 322.1H282.59M280.38 323.78H282.59" stroke="#ff7f0e" stroke-width="0.6" fill="none"/><circle cx="281.49" cy="322.94" r="0.85" fill="#ff7f0e"/><path d="M284.45 322.1V323.78M283.35 322.1H285.55M283.35 323.78H285.55" stroke="#ff7f0e" stroke-width="0.6" fill="none"/><circle cx="284.45" cy="322.94" r="0.85" fill="#ff7f0e"/><path d="M287.41 322.1V323.78M286.31 322.1H288.51M286.31 323.78H288.51" stroke="#ff7f0e" stroke-width="0.6" fill="none"/><circle cx="287.41" cy="322.94" r="0.85" fill="#ff7f0e"/><path d="M290.38 322.1V323.78M289.28 322.1H291.48M289.28 323.78H291.48" stroke="#ff7f0e" stroke-width="0.6" fill="none"/><circle cx="290.38" cy="322.94" r="0.85" fill="#ff7f0e"/><path d="M293.35 322.1V323.78M292.25 322.1H294.45M292.25 323.78H294.45" stroke="#ff7f0e" stroke-width="0.6" fill="none"/><circle cx="293.35" cy="322.94" r="0.85" fill="#ff7f0e"/><path d="M296.31 322.1V323.78M295.21 322.1H297.41M295.21 323.78H297.41" stroke="#ff7f0e" stroke-width="0.6" fill="none"/><circle cx="296.31" cy="322.94" r="0.85" fill="#ff7f0e"/><path d="M299.27 322.1V323.78M298.17 322.1H300.38M298.17 323.78H300.38" stroke="#ff7f0e" stroke-width="0.6" fill="none"/><circle cx="299.27" cy="322.94" r="0.85" fill="#ff7f0e"/><path d="M302.24 322.1V323.78M301.14 322.1H303.34M301.14 323.78H303.34" stroke="#ff7f0e" stroke-width="0.6" fill="none"/><circle cx="302.24" cy="322.94" r="0.85" fill="#ff7f0e"/><path d="M305.2 322.1V323.78M304.1 322.1H306.31M304.1 323.78H306.31" stroke="#ff7f0e" stroke-width="0.6" fill="none"/><circle cx="305.2" cy="322.94" r="0.85" fill="#ff7f0e"/><path d="M308.17 322.1V323.78M307.07 322.1H309.27M307.07 323.78H309.27" stroke="#ff7f0e" stroke-width="0.6" fill="none"/><circle cx="308.17" cy="322.94" r="0.85" fill="#ff7f0e"/><path d="M311.13 322.1V323.78M310.03 322.1H312.24M310.03 323.78H312.24" stroke="#ff7f0e" stroke-width="0.6" fill="none"/><circle cx="311.13" cy="322.94" r="0.85" fill="#ff7f0e"/>
</g>
<path d="M140 203.6H150" stroke="#1f77b4" stroke-width="0.87"/><circle cx="145" cy="203.6" r="1.3" fill="#1f77b4"/><text x="152.1" y="207.45" font-size="10" text-anchor="start" font-family='"Liberation Sans", "DejaVu Sans", sans-serif' fill="#4c4c4c" textLength="12.4" lengthAdjust="spacingAndGlyphs">PR</text><path d="M167.4 203.6H177.2" stroke="#ff7f0e" stroke-width="0.87"/><circle cx="172.3" cy="203.6" r="1.3" fill="#ff7f0e"/><text x="179.1" y="207.45" font-size="10" text-anchor="start" font-family='"Liberation Sans", "DejaVu Sans", sans-serif' fill="#4c4c4c" textLength="42.1" lengthAdjust="spacingAndGlyphs">PR mean</text>
<clipPath id="cd"><rect x="397.5" y="208" width="287.5" height="123.69999999999999"/></clipPath>
<path d="M439.48 208V331.7" stroke="#eeeeee" stroke-width="0.6"/><path d="M468.41 208V331.7" stroke="#eeeeee" stroke-width="0.6"/><path d="M497.34 208V331.7" stroke="#eeeeee" stroke-width="0.6"/><path d="M526.27 208V331.7" stroke="#eeeeee" stroke-width="0.6"/><path d="M555.2 208V331.7" stroke="#eeeeee" stroke-width="0.6"/><path d="M584.13 208V331.7" stroke="#eeeeee" stroke-width="0.6"/><path d="M613.06 208V331.7" stroke="#eeeeee" stroke-width="0.6"/><path d="M641.99 208V331.7" stroke="#eeeeee" stroke-width="0.6"/><path d="M670.92 208V331.7" stroke="#eeeeee" stroke-width="0.6"/><path d="M397.5 214.6H685" stroke="#eeeeee" stroke-width="0.6"/><path d="M397.5 231.22H685" stroke="#eeeeee" stroke-width="0.6"/><path d="M397.5 247.84H685" stroke="#eeeeee" stroke-width="0.6"/><path d="M397.5 264.46H685" stroke="#eeeeee" stroke-width="0.6"/><path d="M397.5 281.08H685" stroke="#eeeeee" stroke-width="0.6"/><path d="M397.5 297.7H685" stroke="#eeeeee" stroke-width="0.6"/><path d="M397.5 314.32H685" stroke="#eeeeee" stroke-width="0.6"/><path d="M410.55 208V331.7" stroke="#606060" stroke-width="0.5"/><text x="410.55" y="341.8" font-size="10" text-anchor="middle" font-family='"Liberation Sans", "DejaVu Sans", sans-serif' fill="#4c4c4c">0</text><text x="439.48" y="341.8" font-size="10" text-anchor="middle" font-family='"Liberation Sans", "DejaVu Sans", sans-serif' fill="#4c4c4c">10</text><text x="468.41" y="341.8" font-size="10" text-anchor="middle" font-family='"Liberation Sans", "DejaVu Sans", sans-serif' fill="#4c4c4c">20</text><text x="497.34" y="341.8" font-size="10" text-anchor="middle" font-family='"Liberation Sans", "DejaVu Sans", sans-serif' fill="#4c4c4c">30</text><text x="526.27" y="341.8" font-size="10" text-anchor="middle" font-family='"Liberation Sans", "DejaVu Sans", sans-serif' fill="#4c4c4c">40</text><text x="555.2" y="341.8" font-size="10" text-anchor="middle" font-family='"Liberation Sans", "DejaVu Sans", sans-serif' fill="#4c4c4c">50</text><text x="584.13" y="341.8" font-size="10" text-anchor="middle" font-family='"Liberation Sans", "DejaVu Sans", sans-serif' fill="#4c4c4c">60</text><text x="613.06" y="341.8" font-size="10" text-anchor="middle" font-family='"Liberation Sans", "DejaVu Sans", sans-serif' fill="#4c4c4c">70</text><text x="641.99" y="341.8" font-size="10" text-anchor="middle" font-family='"Liberation Sans", "DejaVu Sans", sans-serif' fill="#4c4c4c">80</text><text x="670.92" y="341.8" font-size="10" text-anchor="middle" font-family='"Liberation Sans", "DejaVu Sans", sans-serif' fill="#4c4c4c">90</text><text x="396.5" y="218.15" font-size="10" text-anchor="end" font-family='"Liberation Sans", "DejaVu Sans", sans-serif' fill="#4c4c4c">1000</text><text x="396.5" y="234.77" font-size="10" text-anchor="end" font-family='"Liberation Sans", "DejaVu Sans", sans-serif' fill="#4c4c4c">1</text><text x="396.5" y="251.39" font-size="10" text-anchor="end" font-family='"Liberation Sans", "DejaVu Sans", sans-serif' fill="#4c4c4c">0.001</text><text x="396.5" y="268.01" font-size="10" text-anchor="end" font-family='"Liberation Sans", "DejaVu Sans", sans-serif' fill="#4c4c4c">1μ</text><text x="396.5" y="284.63" font-size="10" text-anchor="end" font-family='"Liberation Sans", "DejaVu Sans", sans-serif' fill="#4c4c4c">1n</text><text x="396.5" y="301.25" font-size="10" text-anchor="end" font-family='"Liberation Sans", "DejaVu Sans", sans-serif' fill="#4c4c4c">1p</text><text x="396.5" y="317.87" font-size="10" text-anchor="end" font-family='"Liberation Sans", "DejaVu Sans", sans-serif' fill="#4c4c4c">1f</text><text x="492" y="355.2" font-size="10" text-anchor="start" font-family='"Liberation Sans", "DejaVu Sans", sans-serif' fill="#4c4c4c" textLength="98.5" lengthAdjust="spacingAndGlyphs">Block of 10 iterations</text><text transform="translate(374 269.5) rotate(-90)" font-size="10" text-anchor="middle" font-family='"Liberation Sans", "DejaVu Sans", sans-serif' fill="#4c4c4c">K</text><text x="455.7" y="384.8" font-size="14.7" text-anchor="start" font-family='"Liberation Serif", "DejaVu Serif", serif' fill="#000000" textLength="133.1" lengthAdjust="spacingAndGlyphs">(d) empirical <tspan font-style="italic">K</tspan> values</text>
<text x="367.2" y="335.1" font-size="12.8" text-anchor="start" font-family='"Liberation Sans", "DejaVu Sans", sans-serif' fill="#4c4c4c">10</text>
<text x="382.0" y="330.2" font-size="9.6" text-anchor="start" font-family='"Liberation Sans", "DejaVu Sans", sans-serif' fill="#4c4c4c">−18</text>
<g clip-path="url(#cd)">
<path d="M413.44 237.94L416.34 238.42L419.23 237.98L422.12 238.08L425.01 238.39L427.91 237.88L430.8 238.25L433.69 238.27L436.59 237.88L439.48 238.38L442.37 238.1L445.27 237.97L448.16 238.42L451.05 237.95L453.94 238.13L456.84 238.36L459.73 237.87L462.62 238.29L465.52 238.22L468.41 237.9L471.3 238.4L474.2 239.38L477.09 238.01L479.98 238.42L482.88 237.92L485.77 238.18L488.66 238.33L491.55 237.87L494.45 238.33L497.34 239.51L500.23 237.92L503.13 239.74L506.02 238.01L508.91 238.05L511.81 238.4L514.7 237.9L517.59 239.55L520.48 238.29L523.38 237.87L526.27 238.36L529.16 238.13L532.06 237.95L534.95 238.42L537.84 237.97L540.74 239.43L543.63 238.38L546.52 237.88L549.41 238.26L552.31 238.25L555.2 239.21L558.09 238.39L560.99 238.08L563.88 237.98L566.77 239.75L569.66 237.94L572.56 238.14L575.45 238.35L578.34 237.87L581.24 238.3L584.13 238.21L587.02 239.23L589.92 238.41L592.81 239.37L595.7 239.35L598.6 239.74L601.49 237.91L604.38 238.19L607.27 238.32L610.17 237.87L613.06 238.34L615.95 238.16L618.85 239.26L621.74 239.75L624.63 239.33L627.52 238.07L630.42 238.4L633.31 239.22L636.2 238.23L639.1 239.61L641.99 239.2L644.88 238.37L647.78 238.12L650.67 237.96L653.56 238.42L656.45 237.96L659.35 239.44L662.24 238.37L665.13 237.88L668.03 239.61" fill="none" stroke="#1f77b4" stroke-width="0.87" stroke-linejoin="round"/><circle cx="413.44" cy="237.94" r="1.4" fill="#1f77b4"/><circle cx="416.34" cy="238.42" r="1.4" fill="#1f77b4"/><circle cx="419.23" cy="237.98" r="1.4" fill="#1f77b4"/><circle cx="422.12" cy="238.08" r="1.4" fill="#1f77b4"/><circle cx="425.01" cy="238.39" r="1.4" fill="#1f77b4"/><circle cx="427.91" cy="237.88" r="1.4" fill="#1f77b4"/><circle cx="430.8" cy="238.25" r="1.4" fill="#1f77b4"/><circle cx="433.69" cy="238.27" r="1.4" fill="#1f77b4"/><circle cx="436.59" cy="237.88" r="1.4" fill="#1f77b4"/><circle cx="439.48" cy="238.38" r="1.4" fill="#1f77b4"/><circle cx="442.37" cy="238.1" r="1.4" fill="#1f77b4"/><circle cx="445.27" cy="237.97" r="1.4" fill="#1f77b4"/><circle cx="448.16" cy="238.42" r="1.4" fill="#1f77b4"/><circle cx="451.05" cy="237.95" r="1.4" fill="#1f77b4"/><circle cx="453.94" cy="238.13" r="1.4" fill="#1f77b4"/><circle cx="456.84" cy="238.36" r="1.4" fill="#1f77b4"/><circle cx="459.73" cy="237.87" r="1.4" fill="#1f77b4"/><circle cx="462.62" cy="238.29" r="1.4" fill="#1f77b4"/><circle cx="465.52" cy="238.22" r="1.4" fill="#1f77b4"/><circle cx="468.41" cy="237.9" r="1.4" fill="#1f77b4"/><circle cx="471.3" cy="238.4" r="1.4" fill="#1f77b4"/><circle cx="474.2" cy="239.38" r="1.4" fill="#1f77b4"/><circle cx="477.09" cy="238.01" r="1.4" fill="#1f77b4"/><circle cx="479.98" cy="238.42" r="1.4" fill="#1f77b4"/><circle cx="482.88" cy="237.92" r="1.4" fill="#1f77b4"/><circle cx="485.77" cy="238.18" r="1.4" fill="#1f77b4"/><circle cx="488.66" cy="238.33" r="1.4" fill="#1f77b4"/><circle cx="491.55" cy="237.87" r="1.4" fill="#1f77b4"/><circle cx="494.45" cy="238.33" r="1.4" fill="#1f77b4"/><circle cx="497.34" cy="239.51" r="1.4" fill="#1f77b4"/><circle cx="500.23" cy="237.92" r="1.4" fill="#1f77b4"/><circle cx="503.13" cy="239.74" r="1.4" fill="#1f77b4"/><circle cx="506.02" cy="238.01" r="1.4" fill="#1f77b4"/><circle cx="508.91" cy="238.05" r="1.4" fill="#1f77b4"/><circle cx="511.81" cy="238.4" r="1.4" fill="#1f77b4"/><circle cx="514.7" cy="237.9" r="1.4" fill="#1f77b4"/><circle cx="517.59" cy="239.55" r="1.4" fill="#1f77b4"/><circle cx="520.48" cy="238.29" r="1.4" fill="#1f77b4"/><circle cx="523.38" cy="237.87" r="1.4" fill="#1f77b4"/><circle cx="526.27" cy="238.36" r="1.4" fill="#1f77b4"/><circle cx="529.16" cy="238.13" r="1.4" fill="#1f77b4"/><circle cx="532.06" cy="237.95" r="1.4" fill="#1f77b4"/><circle cx="534.95" cy="238.42" r="1.4" fill="#1f77b4"/><circle cx="537.84" cy="237.97" r="1.4" fill="#1f77b4"/><circle cx="540.74" cy="239.43" r="1.4" fill="#1f77b4"/><circle cx="543.63" cy="238.38" r="1.4" fill="#1f77b4"/><circle cx="546.52" cy="237.88" r="1.4" fill="#1f77b4"/><circle cx="549.41" cy="238.26" r="1.4" fill="#1f77b4"/><circle cx="552.31" cy="238.25" r="1.4" fill="#1f77b4"/><circle cx="555.2" cy="239.21" r="1.4" fill="#1f77b4"/><circle cx="558.09" cy="238.39" r="1.4" fill="#1f77b4"/><circle cx="560.99" cy="238.08" r="1.4" fill="#1f77b4"/><circle cx="563.88" cy="237.98" r="1.4" fill="#1f77b4"/><circle cx="566.77" cy="239.75" r="1.4" fill="#1f77b4"/><circle cx="569.66" cy="237.94" r="1.4" fill="#1f77b4"/><circle cx="572.56" cy="238.14" r="1.4" fill="#1f77b4"/><circle cx="575.45" cy="238.35" r="1.4" fill="#1f77b4"/><circle cx="578.34" cy="237.87" r="1.4" fill="#1f77b4"/><circle cx="581.24" cy="238.3" r="1.4" fill="#1f77b4"/><circle cx="584.13" cy="238.21" r="1.4" fill="#1f77b4"/><circle cx="587.02" cy="239.23" r="1.4" fill="#1f77b4"/><circle cx="589.92" cy="238.41" r="1.4" fill="#1f77b4"/><circle cx="592.81" cy="239.37" r="1.4" fill="#1f77b4"/><circle cx="595.7" cy="239.35" r="1.4" fill="#1f77b4"/><circle cx="598.6" cy="239.74" r="1.4" fill="#1f77b4"/><circle cx="601.49" cy="237.91" r="1.4" fill="#1f77b4"/><circle cx="604.38" cy="238.19" r="1.4" fill="#1f77b4"/><circle cx="607.27" cy="238.32" r="1.4" fill="#1f77b4"/><circle cx="610.17" cy="237.87" r="1.4" fill="#1f77b4"/><circle cx="613.06" cy="238.34" r="1.4" fill="#1f77b4"/><circle cx="615.95" cy="238.16" r="1.4" fill="#1f77b4"/><circle cx="618.85" cy="239.26" r="1.4" fill="#1f77b4"/><circle cx="621.74" cy="239.75" r="1.4" fill="#1f77b4"/><circle cx="624.63" cy="239.33" r="1.4" fill="#1f77b4"/><circle cx="627.52" cy="238.07" r="1.4" fill="#1f77b4"/><circle cx="630.42" cy="238.4" r="1.4" fill="#1f77b4"/><circle cx="633.31" cy="239.22" r="1.4" fill="#1f77b4"/><circle cx="636.2" cy="238.23" r="1.4" fill="#1f77b4"/><circle cx="639.1" cy="239.61" r="1.4" fill="#1f77b4"/><circle cx="641.99" cy="239.2" r="1.4" fill="#1f77b4"/><circle cx="644.88" cy="238.37" r="1.4" fill="#1f77b4"/><circle cx="647.78" cy="238.12" r="1.4" fill="#1f77b4"/><circle cx="650.67" cy="237.96" r="1.4" fill="#1f77b4"/><circle cx="653.56" cy="238.42" r="1.4" fill="#1f77b4"/><circle cx="656.45" cy="237.96" r="1.4" fill="#1f77b4"/><circle cx="659.35" cy="239.44" r="1.4" fill="#1f77b4"/><circle cx="662.24" cy="238.37" r="1.4" fill="#1f77b4"/><circle cx="665.13" cy="237.88" r="1.4" fill="#1f77b4"/><circle cx="668.03" cy="239.61" r="1.4" fill="#1f77b4"/>
<path d="M413.44 235.84L416.34 236.3L419.23 236.04" fill="none" stroke="#ff7f0e" stroke-width="0.87" stroke-linejoin="round"/><rect x="412.4" y="234.8" width="2.08" height="2.08" fill="#ff7f0e"/><rect x="415.3" y="235.26" width="2.08" height="2.08" fill="#ff7f0e"/><rect x="418.19" y="235" width="2.08" height="2.08" fill="#ff7f0e"/>
<path d="M425.01 236.01L427.91 236.31L430.8 235.88L433.69 235.69L436.59 236.17L439.48 236.23L442.37 235.73L445.27 235.8L448.16 236.28L451.05 236.09L453.94 235.66L456.84 235.96L459.73 236.32L462.62 235.92L465.52 235.67L468.41 236.13L471.3 236.26L474.2 235.77L477.09 235.76L479.98 236.26L482.88 236.14L485.77 235.67L488.66 235.91L491.55 236.32L494.45 235.97L497.34 235.66L500.23 236.08L503.13 236.29L506.02 235.81L508.91 235.73L511.81 236.23L514.7 236.18L517.59 236.19L520.48 235.86L523.38 236.31L526.27 236.02L529.16 235.65L532.06 236.03L534.95 236.8L537.84 235.85L540.74 235.7L543.63 236.19L546.52 236.22L549.41 236.22L552.31 235.82L555.2 236.29L558.09 236.07L560.99 235.66L563.88 235.98L566.77 236.31" fill="none" stroke="#ff7f0e" stroke-width="0.87" stroke-linejoin="round"/><rect x="423.97" y="234.97" width="2.08" height="2.08" fill="#ff7f0e"/><rect x="426.87" y="235.27" width="2.08" height="2.08" fill="#ff7f0e"/><rect x="429.76" y="234.84" width="2.08" height="2.08" fill="#ff7f0e"/><rect x="432.65" y="234.65" width="2.08" height="2.08" fill="#ff7f0e"/><rect x="435.55" y="235.13" width="2.08" height="2.08" fill="#ff7f0e"/><rect x="438.44" y="235.19" width="2.08" height="2.08" fill="#ff7f0e"/><rect x="441.33" y="234.69" width="2.08" height="2.08" fill="#ff7f0e"/><rect x="444.23" y="234.76" width="2.08" height="2.08" fill="#ff7f0e"/><rect x="447.12" y="235.24" width="2.08" height="2.08" fill="#ff7f0e"/><rect x="450.01" y="235.05" width="2.08" height="2.08" fill="#ff7f0e"/><rect x="452.9" y="234.62" width="2.08" height="2.08" fill="#ff7f0e"/><rect x="455.8" y="234.92" width="2.08" height="2.08" fill="#ff7f0e"/><rect x="458.69" y="235.28" width="2.08" height="2.08" fill="#ff7f0e"/><rect x="461.58" y="234.88" width="2.08" height="2.08" fill="#ff7f0e"/><rect x="464.48" y="234.63" width="2.08" height="2.08" fill="#ff7f0e"/><rect x="467.37" y="235.09" width="2.08" height="2.08" fill="#ff7f0e"/><rect x="470.26" y="235.22" width="2.08" height="2.08" fill="#ff7f0e"/><rect x="473.16" y="234.73" width="2.08" height="2.08" fill="#ff7f0e"/><rect x="476.05" y="234.72" width="2.08" height="2.08" fill="#ff7f0e"/><rect x="478.94" y="235.22" width="2.08" height="2.08" fill="#ff7f0e"/><rect x="481.83" y="235.1" width="2.08" height="2.08" fill="#ff7f0e"/><rect x="484.73" y="234.63" width="2.08" height="2.08" fill="#ff7f0e"/><rect x="487.62" y="234.87" width="2.08" height="2.08" fill="#ff7f0e"/><rect x="490.51" y="235.28" width="2.08" height="2.08" fill="#ff7f0e"/><rect x="493.41" y="234.93" width="2.08" height="2.08" fill="#ff7f0e"/><rect x="496.3" y="234.62" width="2.08" height="2.08" fill="#ff7f0e"/><rect x="499.19" y="235.04" width="2.08" height="2.08" fill="#ff7f0e"/><rect x="502.09" y="235.25" width="2.08" height="2.08" fill="#ff7f0e"/><rect x="504.98" y="234.77" width="2.08" height="2.08" fill="#ff7f0e"/><rect x="507.87" y="234.69" width="2.08" height="2.08" fill="#ff7f0e"/><rect x="510.76" y="235.19" width="2.08" height="2.08" fill="#ff7f0e"/><rect x="513.66" y="235.14" width="2.08" height="2.08" fill="#ff7f0e"/><rect x="516.55" y="235.15" width="2.08" height="2.08" fill="#ff7f0e"/><rect x="519.44" y="234.82" width="2.08" height="2.08" fill="#ff7f0e"/><rect x="522.34" y="235.27" width="2.08" height="2.08" fill="#ff7f0e"/><rect x="525.23" y="234.98" width="2.08" height="2.08" fill="#ff7f0e"/><rect x="528.12" y="234.61" width="2.08" height="2.08" fill="#ff7f0e"/><rect x="531.02" y="234.99" width="2.08" height="2.08" fill="#ff7f0e"/><rect x="533.91" y="235.76" width="2.08" height="2.08" fill="#ff7f0e"/><rect x="536.8" y="234.81" width="2.08" height="2.08" fill="#ff7f0e"/><rect x="539.7" y="234.66" width="2.08" height="2.08" fill="#ff7f0e"/><rect x="542.59" y="235.15" width="2.08" height="2.08" fill="#ff7f0e"/><rect x="545.48" y="235.18" width="2.08" height="2.08" fill="#ff7f0e"/><rect x="548.37" y="235.18" width="2.08" height="2.08" fill="#ff7f0e"/><rect x="551.27" y="234.78" width="2.08" height="2.08" fill="#ff7f0e"/><rect x="554.16" y="235.25" width="2.08" height="2.08" fill="#ff7f0e"/><rect x="557.05" y="235.03" width="2.08" height="2.08" fill="#ff7f0e"/><rect x="559.95" y="234.62" width="2.08" height="2.08" fill="#ff7f0e"/><rect x="562.84" y="234.94" width="2.08" height="2.08" fill="#ff7f0e"/><rect x="565.73" y="235.27" width="2.08" height="2.08" fill="#ff7f0e"/>
<path d="M572.56 235.68L575.45 236.15L578.34 236.25L581.24 235.75L584.13 235.78L587.02 236.27L589.92 236.12L592.81 235.67L595.7 235.93L598.6 236.32L601.49 235.95L604.38 235.66L607.27 236.1L610.17 236.28L613.06 235.79L615.95 235.74L618.85 236.24L621.74 236.16L624.63 235.68L627.52 235.88L630.42 236.31L633.31 236L636.2 235.65L639.1 236.05L641.99 236.3L644.88 235.83L647.78 235.71L650.67 236.21L653.56 236.2L656.45 235.71L659.35 235.84L662.24 236.3L665.13 236.05L668.03 235.65" fill="none" stroke="#ff7f0e" stroke-width="0.87" stroke-linejoin="round"/><rect x="571.52" y="234.64" width="2.08" height="2.08" fill="#ff7f0e"/><rect x="574.41" y="235.11" width="2.08" height="2.08" fill="#ff7f0e"/><rect x="577.3" y="235.21" width="2.08" height="2.08" fill="#ff7f0e"/><rect x="580.2" y="234.71" width="2.08" height="2.08" fill="#ff7f0e"/><rect x="583.09" y="234.74" width="2.08" height="2.08" fill="#ff7f0e"/><rect x="585.98" y="235.23" width="2.08" height="2.08" fill="#ff7f0e"/><rect x="588.88" y="235.08" width="2.08" height="2.08" fill="#ff7f0e"/><rect x="591.77" y="234.63" width="2.08" height="2.08" fill="#ff7f0e"/><rect x="594.66" y="234.89" width="2.08" height="2.08" fill="#ff7f0e"/><rect x="597.56" y="235.28" width="2.08" height="2.08" fill="#ff7f0e"/><rect x="600.45" y="234.91" width="2.08" height="2.08" fill="#ff7f0e"/><rect x="603.34" y="234.62" width="2.08" height="2.08" fill="#ff7f0e"/><rect x="606.23" y="235.06" width="2.08" height="2.08" fill="#ff7f0e"/><rect x="609.13" y="235.24" width="2.08" height="2.08" fill="#ff7f0e"/><rect x="612.02" y="234.75" width="2.08" height="2.08" fill="#ff7f0e"/><rect x="614.91" y="234.7" width="2.08" height="2.08" fill="#ff7f0e"/><rect x="617.81" y="235.2" width="2.08" height="2.08" fill="#ff7f0e"/><rect x="620.7" y="235.12" width="2.08" height="2.08" fill="#ff7f0e"/><rect x="623.59" y="234.64" width="2.08" height="2.08" fill="#ff7f0e"/><rect x="626.49" y="234.84" width="2.08" height="2.08" fill="#ff7f0e"/><rect x="629.38" y="235.27" width="2.08" height="2.08" fill="#ff7f0e"/><rect x="632.27" y="234.96" width="2.08" height="2.08" fill="#ff7f0e"/><rect x="635.16" y="234.61" width="2.08" height="2.08" fill="#ff7f0e"/><rect x="638.06" y="235.01" width="2.08" height="2.08" fill="#ff7f0e"/><rect x="640.95" y="235.26" width="2.08" height="2.08" fill="#ff7f0e"/><rect x="643.84" y="234.79" width="2.08" height="2.08" fill="#ff7f0e"/><rect x="646.74" y="234.67" width="2.08" height="2.08" fill="#ff7f0e"/><rect x="649.63" y="235.17" width="2.08" height="2.08" fill="#ff7f0e"/><rect x="652.52" y="235.16" width="2.08" height="2.08" fill="#ff7f0e"/><rect x="655.41" y="234.67" width="2.08" height="2.08" fill="#ff7f0e"/><rect x="658.31" y="234.8" width="2.08" height="2.08" fill="#ff7f0e"/><rect x="661.2" y="235.26" width="2.08" height="2.08" fill="#ff7f0e"/><rect x="664.09" y="235.01" width="2.08" height="2.08" fill="#ff7f0e"/><rect x="666.99" y="234.61" width="2.08" height="2.08" fill="#ff7f0e"/>
<path d="M419.4 236.04V331.7" stroke="#ff7f0e" stroke-width="2" stroke-opacity="0.5"/>
<path d="M424.84 236.01V331.7" stroke="#ff7f0e" stroke-width="2" stroke-opacity="0.5"/>
<path d="M566.94 236.31V331.7" stroke="#ff7f0e" stroke-width="2" stroke-opacity="0.5"/>
<path d="M572.39 235.68V331.7" stroke="#ff7f0e" stroke-width="2" stroke-opacity="0.5"/>
<path d="M413.44 256.15L416.34 258.14L419.23 256.15L422.12 258.14L425.01 258.53L427.91 253.82L430.8 254.43L433.69 254.99L436.59 254.21L439.48 254.43L442.37 255.6L445.27 260.25L448.16 260.25L451.05 255.6L453.94 255.93L456.84 255.6L459.73 256.15L462.62 255.6L465.52 255.26L468.41 256.15L471.3 261.41L474.2 256.15L477.09 255.93L479.98 261.41L482.88 257.53L485.77 256.15L488.66 255.93L491.55 255.6L494.45 261.69L497.34 255.93L500.23 257.81L503.13 262.96L506.02 257.26L508.91 256.7L511.81 259.31L514.7 256.7L517.59 256.98L520.48 256.7L523.38 256.7L526.27 258.37L529.16 264.13L532.06 265.51L534.95 260.03L537.84 256.15L540.74 256.7L543.63 257.26L546.52 258.92L549.41 264.57L552.31 265.73L555.2 257.26L558.09 256.7L560.99 257.26L563.88 257.26L566.77 257.81L569.66 264.96L572.56 260.25L575.45 257.26L578.34 257.26L581.24 258.92L584.13 257.81L587.02 260.86L589.92 256.7L592.81 257.09L595.7 260.25L598.6 257.26L601.49 265.73L604.38 265.51L607.27 259.92L610.17 257.81L613.06 257.09L615.95 266.12L618.85 258.92L621.74 257.81L624.63 258.92L627.52 264.35L630.42 258.92L633.31 259.47L636.2 262.8L639.1 258.48L641.99 258.26L644.88 258.92L647.78 259.47L650.67 258.48L653.56 258.92L656.45 258.48L659.35 258.48L662.24 258.48L665.13 261.69L668.03 257.81" fill="none" stroke="#2ca02c" stroke-width="0.87" stroke-linejoin="round"/><path d="M413.44 254.46L415.13 256.15L413.44 257.84L411.75 256.15Z" fill="#2ca02c"/><path d="M416.34 256.45L418.03 258.14L416.34 259.83L414.65 258.14Z" fill="#2ca02c"/><path d="M419.23 254.46L420.92 256.15L419.23 257.84L417.54 256.15Z" fill="#2ca02c"/><path d="M422.12 256.45L423.81 258.14L422.12 259.83L420.43 258.14Z" fill="#2ca02c"/><path d="M425.01 256.84L426.7 258.53L425.01 260.22L423.32 258.53Z" fill="#2ca02c"/><path d="M427.91 252.13L429.6 253.82L427.91 255.51L426.22 253.82Z" fill="#2ca02c"/><path d="M430.8 252.74L432.49 254.43L430.8 256.12L429.11 254.43Z" fill="#2ca02c"/><path d="M433.69 253.3L435.38 254.99L433.69 256.68L432 254.99Z" fill="#2ca02c"/><path d="M436.59 252.52L438.28 254.21L436.59 255.9L434.9 254.21Z" fill="#2ca02c"/><path d="M439.48 252.74L441.17 254.43L439.48 256.12L437.79 254.43Z" fill="#2ca02c"/><path d="M442.37 253.91L444.06 255.6L442.37 257.29L440.68 255.6Z" fill="#2ca02c"/><path d="M445.27 258.56L446.96 260.25L445.27 261.94L443.58 260.25Z" fill="#2ca02c"/><path d="M448.16 258.56L449.85 260.25L448.16 261.94L446.47 260.25Z" fill="#2ca02c"/><path d="M451.05 253.91L452.74 255.6L451.05 257.29L449.36 255.6Z" fill="#2ca02c"/><path d="M453.94 254.24L455.63 255.93L453.94 257.62L452.25 255.93Z" fill="#2ca02c"/><path d="M456.84 253.91L458.53 255.6L456.84 257.29L455.15 255.6Z" fill="#2ca02c"/><path d="M459.73 254.46L461.42 256.15L459.73 257.84L458.04 256.15Z" fill="#2ca02c"/><path d="M462.62 253.91L464.31 255.6L462.62 257.29L460.93 255.6Z" fill="#2ca02c"/><path d="M465.52 253.57L467.21 255.26L465.52 256.95L463.83 255.26Z" fill="#2ca02c"/><path d="M468.41 254.46L470.1 256.15L468.41 257.84L466.72 256.15Z" fill="#2ca02c"/><path d="M471.3 259.72L472.99 261.41L471.3 263.1L469.61 261.41Z" fill="#2ca02c"/><path d="M474.2 254.46L475.89 256.15L474.2 257.84L472.51 256.15Z" fill="#2ca02c"/><path d="M477.09 254.24L478.78 255.93L477.09 257.62L475.4 255.93Z" fill="#2ca02c"/><path d="M479.98 259.72L481.67 261.41L479.98 263.1L478.29 261.41Z" fill="#2ca02c"/><path d="M482.88 255.84L484.56 257.53L482.88 259.22L481.19 257.53Z" fill="#2ca02c"/><path d="M485.77 254.46L487.46 256.15L485.77 257.84L484.08 256.15Z" fill="#2ca02c"/><path d="M488.66 254.24L490.35 255.93L488.66 257.62L486.97 255.93Z" fill="#2ca02c"/><path d="M491.55 253.91L493.24 255.6L491.55 257.29L489.86 255.6Z" fill="#2ca02c"/><path d="M494.45 260L496.14 261.69L494.45 263.38L492.76 261.69Z" fill="#2ca02c"/><path d="M497.34 254.24L499.03 255.93L497.34 257.62L495.65 255.93Z" fill="#2ca02c"/><path d="M500.23 256.12L501.92 257.81L500.23 259.5L498.54 257.81Z" fill="#2ca02c"/><path d="M503.13 261.27L504.82 262.96L503.13 264.65L501.44 262.96Z" fill="#2ca02c"/><path d="M506.02 255.57L507.71 257.26L506.02 258.95L504.33 257.26Z" fill="#2ca02c"/><path d="M508.91 255.01L510.6 256.7L508.91 258.39L507.22 256.7Z" fill="#2ca02c"/><path d="M511.81 257.62L513.5 259.31L511.81 261L510.12 259.31Z" fill="#2ca02c"/><path d="M514.7 255.01L516.39 256.7L514.7 258.39L513.01 256.7Z" fill="#2ca02c"/><path d="M517.59 255.29L519.28 256.98L517.59 258.67L515.9 256.98Z" fill="#2ca02c"/><path d="M520.48 255.01L522.17 256.7L520.48 258.39L518.79 256.7Z" fill="#2ca02c"/><path d="M523.38 255.01L525.07 256.7L523.38 258.39L521.69 256.7Z" fill="#2ca02c"/><path d="M526.27 256.68L527.96 258.37L526.27 260.06L524.58 258.37Z" fill="#2ca02c"/><path d="M529.16 262.44L530.85 264.13L529.16 265.82L527.47 264.13Z" fill="#2ca02c"/><path d="M532.06 263.82L533.75 265.51L532.06 267.2L530.37 265.51Z" fill="#2ca02c"/><path d="M534.95 258.34L536.64 260.03L534.95 261.72L533.26 260.03Z" fill="#2ca02c"/><path d="M537.84 254.46L539.53 256.15L537.84 257.84L536.15 256.15Z" fill="#2ca02c"/><path d="M540.74 255.01L542.43 256.7L540.74 258.39L539.04 256.7Z" fill="#2ca02c"/><path d="M543.63 255.57L545.32 257.26L543.63 258.95L541.94 257.26Z" fill="#2ca02c"/><path d="M546.52 257.23L548.21 258.92L546.52 260.61L544.83 258.92Z" fill="#2ca02c"/><path d="M549.41 262.88L551.1 264.57L549.41 266.26L547.72 264.57Z" fill="#2ca02c"/><path d="M552.31 264.04L554 265.73L552.31 267.42L550.62 265.73Z" fill="#2ca02c"/><path d="M555.2 255.57L556.89 257.26L555.2 258.95L553.51 257.26Z" fill="#2ca02c"/><path d="M558.09 255.01L559.78 256.7L558.09 258.39L556.4 256.7Z" fill="#2ca02c"/><path d="M560.99 255.57L562.68 257.26L560.99 258.95L559.3 257.26Z" fill="#2ca02c"/><path d="M563.88 255.57L565.57 257.26L563.88 258.95L562.19 257.26Z" fill="#2ca02c"/><path d="M566.77 256.12L568.46 257.81L566.77 259.5L565.08 257.81Z" fill="#2ca02c"/><path d="M569.66 263.27L571.36 264.96L569.66 266.65L567.97 264.96Z" fill="#2ca02c"/><path d="M572.56 258.56L574.25 260.25L572.56 261.94L570.87 260.25Z" fill="#2ca02c"/><path d="M575.45 255.57L577.14 257.26L575.45 258.95L573.76 257.26Z" fill="#2ca02c"/><path d="M578.34 255.57L580.03 257.26L578.34 258.95L576.65 257.26Z" fill="#2ca02c"/><path d="M581.24 257.23L582.93 258.92L581.24 260.61L579.55 258.92Z" fill="#2ca02c"/><path d="M584.13 256.12L585.82 257.81L584.13 259.5L582.44 257.81Z" fill="#2ca02c"/><path d="M587.02 259.17L588.71 260.86L587.02 262.55L585.33 260.86Z" fill="#2ca02c"/><path d="M589.92 255.01L591.61 256.7L589.92 258.39L588.23 256.7Z" fill="#2ca02c"/><path d="M592.81 255.4L594.5 257.09L592.81 258.78L591.12 257.09Z" fill="#2ca02c"/><path d="M595.7 258.56L597.39 260.25L595.7 261.94L594.01 260.25Z" fill="#2ca02c"/><path d="M598.6 255.57L600.29 257.26L598.6 258.95L596.9 257.26Z" fill="#2ca02c"/><path d="M601.49 264.04L603.18 265.73L601.49 267.42L599.8 265.73Z" fill="#2ca02c"/><path d="M604.38 263.82L606.07 265.51L604.38 267.2L602.69 265.51Z" fill="#2ca02c"/><path d="M607.27 258.23L608.96 259.92L607.27 261.61L605.58 259.92Z" fill="#2ca02c"/><path d="M610.17 256.12L611.86 257.81L610.17 259.5L608.48 257.81Z" fill="#2ca02c"/><path d="M613.06 255.4L614.75 257.09L613.06 258.78L611.37 257.09Z" fill="#2ca02c"/><path d="M615.95 264.43L617.64 266.12L615.95 267.81L614.26 266.12Z" fill="#2ca02c"/><path d="M618.85 257.23L620.54 258.92L618.85 260.61L617.16 258.92Z" fill="#2ca02c"/><path d="M621.74 256.12L623.43 257.81L621.74 259.5L620.05 257.81Z" fill="#2ca02c"/><path d="M624.63 257.23L626.32 258.92L624.63 260.61L622.94 258.92Z" fill="#2ca02c"/><path d="M627.52 262.66L629.22 264.35L627.52 266.04L625.83 264.35Z" fill="#2ca02c"/><path d="M630.42 257.23L632.11 258.92L630.42 260.61L628.73 258.92Z" fill="#2ca02c"/><path d="M633.31 257.78L635 259.47L633.31 261.16L631.62 259.47Z" fill="#2ca02c"/><path d="M636.2 261.11L637.89 262.8L636.2 264.49L634.51 262.8Z" fill="#2ca02c"/><path d="M639.1 256.79L640.79 258.48L639.1 260.17L637.41 258.48Z" fill="#2ca02c"/><path d="M641.99 256.57L643.68 258.26L641.99 259.95L640.3 258.26Z" fill="#2ca02c"/><path d="M644.88 257.23L646.57 258.92L644.88 260.61L643.19 258.92Z" fill="#2ca02c"/><path d="M647.78 257.78L649.47 259.47L647.78 261.16L646.09 259.47Z" fill="#2ca02c"/><path d="M650.67 256.79L652.36 258.48L650.67 260.17L648.98 258.48Z" fill="#2ca02c"/><path d="M653.56 257.23L655.25 258.92L653.56 260.61L651.87 258.92Z" fill="#2ca02c"/><path d="M656.45 256.79L658.14 258.48L656.45 260.17L654.76 258.48Z" fill="#2ca02c"/><path d="M659.35 256.79L661.04 258.48L659.35 260.17L657.66 258.48Z" fill="#2ca02c"/><path d="M662.24 256.79L663.93 258.48L662.24 260.17L660.55 258.48Z" fill="#2ca02c"/><path d="M665.13 260L666.82 261.69L665.13 263.38L663.44 261.69Z" fill="#2ca02c"/><path d="M668.03 256.12L669.72 257.81L668.03 259.5L666.34 257.81Z" fill="#2ca02c"/>
<path d="M413.44 260.25L416.34 262.8L419.23 262.96L422.12 263.19L425.01 264.57L427.91 263.52L430.8 266.68L433.69 264.96L436.59 268.12L439.48 265.51L442.37 265.51L445.27 265.51L448.16 266.12L451.05 267.84L453.94 268.23L456.84 268.23L459.73 267.84L462.62 268.45L465.52 269.83L468.41 267.51L471.3 267.23L474.2 268.12L477.09 268.45L479.98 269L482.88 269.39L485.77 269.28L488.66 271.66L491.55 271.94L494.45 269.28L497.34 269.83L500.23 270.22L503.13 269.39L506.02 270.22L508.91 271.38L511.81 270.22L514.7 270.83L517.59 271.11L520.48 271.38L523.38 272.33L526.27 273.49L529.16 271.94L532.06 272.55L534.95 272.77L537.84 272.77L540.74 272.77L543.63 273.71L546.52 273.1L549.41 272.55L552.31 272.88L555.2 273.1L558.09 274.65L560.99 276.26L563.88 273.1L566.77 274.88L569.66 272.77L572.56 273.71L575.45 276.04L578.34 274.65L581.24 273.93L584.13 272.77L587.02 273.49L589.92 273.93L592.81 275.43L595.7 274.88L598.6 276.04L601.49 273.71L604.38 275.43L607.27 274.27L610.17 276.65L613.06 278.59L615.95 275.43L618.85 275.1L621.74 276.26L624.63 275.82L627.52 275.43L630.42 276.04L633.31 277.2L636.2 276.65L639.1 277.2L641.99 277.76L644.88 276.04L647.78 276.04L650.67 276.65L653.56 276.98L656.45 276.65L659.35 276.26L662.24 278.14L665.13 276.26L668.03 277.76" fill="none" stroke="#d62728" stroke-width="0.87" stroke-linejoin="round"/><path d="M411.82 259.6H412.79V258.62H414.09V259.6H415.07V260.9H414.09V261.87H412.79V260.9H411.82Z" fill="#d62728"/><path d="M414.71 262.15H415.69V261.17H416.99V262.15H417.96V263.45H416.99V264.42H415.69V263.45H414.71Z" fill="#d62728"/><path d="M417.6 262.31H418.58V261.34H419.88V262.31H420.85V263.61H419.88V264.59H418.58V263.61H417.6Z" fill="#d62728"/><path d="M420.5 262.54H421.47V261.56H422.77V262.54H423.75V263.84H422.77V264.81H421.47V263.84H420.5Z" fill="#d62728"/><path d="M423.39 263.92H424.37V262.95H425.66V263.92H426.64V265.22H425.66V266.2H424.37V265.22H423.39Z" fill="#d62728"/><path d="M426.28 262.87H427.26V261.89H428.56V262.87H429.53V264.17H428.56V265.14H427.26V264.17H426.28Z" fill="#d62728"/><path d="M429.18 266.03H430.15V265.05H431.45V266.03H432.43V267.33H431.45V268.3H430.15V267.33H429.18Z" fill="#d62728"/><path d="M432.07 264.31H433.04V263.33H434.34V264.31H435.32V265.61H434.34V266.58H433.04V265.61H432.07Z" fill="#d62728"/><path d="M434.96 267.47H435.94V266.49H437.24V267.47H438.21V268.77H437.24V269.74H435.94V268.77H434.96Z" fill="#d62728"/><path d="M437.86 264.86H438.83V263.89H440.13V264.86H441.11V266.16H440.13V267.14H438.83V266.16H437.86Z" fill="#d62728"/><path d="M440.75 264.86H441.72V263.89H443.02V264.86H444V266.16H443.02V267.14H441.72V266.16H440.75Z" fill="#d62728"/><path d="M443.64 264.86H444.62V263.89H445.92V264.86H446.89V266.16H445.92V267.14H444.62V266.16H443.64Z" fill="#d62728"/><path d="M446.53 265.47H447.51V264.5H448.81V265.47H449.78V266.77H448.81V267.75H447.51V266.77H446.53Z" fill="#d62728"/><path d="M449.43 267.19H450.4V266.21H451.7V267.19H452.68V268.49H451.7V269.46H450.4V268.49H449.43Z" fill="#d62728"/><path d="M452.32 267.58H453.3V266.6H454.59V267.58H455.57V268.88H454.59V269.85H453.3V268.88H452.32Z" fill="#d62728"/><path d="M455.21 267.58H456.19V266.6H457.49V267.58H458.46V268.88H457.49V269.85H456.19V268.88H455.21Z" fill="#d62728"/><path d="M458.11 267.19H459.08V266.21H460.38V267.19H461.36V268.49H460.38V269.46H459.08V268.49H458.11Z" fill="#d62728"/><path d="M461 267.8H461.97V266.82H463.27V267.8H464.25V269.1H463.27V270.07H461.97V269.1H461Z" fill="#d62728"/><path d="M463.89 269.18H464.87V268.21H466.17V269.18H467.14V270.48H466.17V271.46H464.87V270.48H463.89Z" fill="#d62728"/><path d="M466.79 266.86H467.76V265.88H469.06V266.86H470.04V268.16H469.06V269.13H467.76V268.16H466.79Z" fill="#d62728"/><path d="M469.68 266.58H470.65V265.61H471.95V266.58H472.93V267.88H471.95V268.86H470.65V267.88H469.68Z" fill="#d62728"/><path d="M472.57 267.47H473.55V266.49H474.85V267.47H475.82V268.77H474.85V269.74H473.55V268.77H472.57Z" fill="#d62728"/><path d="M475.46 267.8H476.44V266.82H477.74V267.8H478.71V269.1H477.74V270.07H476.44V269.1H475.46Z" fill="#d62728"/><path d="M478.36 268.35H479.33V267.38H480.63V268.35H481.61V269.65H480.63V270.63H479.33V269.65H478.36Z" fill="#d62728"/><path d="M481.25 268.74H482.23V267.77H483.52V268.74H484.5V270.04H483.52V271.02H482.23V270.04H481.25Z" fill="#d62728"/><path d="M484.14 268.63H485.12V267.65H486.42V268.63H487.39V269.93H486.42V270.9H485.12V269.93H484.14Z" fill="#d62728"/><path d="M487.04 271.01H488.01V270.04H489.31V271.01H490.29V272.31H489.31V273.29H488.01V272.31H487.04Z" fill="#d62728"/><path d="M489.93 271.29H490.9V270.31H492.2V271.29H493.18V272.59H492.2V273.56H490.9V272.59H489.93Z" fill="#d62728"/><path d="M492.82 268.63H493.8V267.65H495.1V268.63H496.07V269.93H495.1V270.9H493.8V269.93H492.82Z" fill="#d62728"/><path d="M495.72 269.18H496.69V268.21H497.99V269.18H498.97V270.48H497.99V271.46H496.69V270.48H495.72Z" fill="#d62728"/><path d="M498.61 269.57H499.58V268.6H500.88V269.57H501.86V270.87H500.88V271.85H499.58V270.87H498.61Z" fill="#d62728"/><path d="M501.5 268.74H502.48V267.77H503.78V268.74H504.75V270.04H503.78V271.02H502.48V270.04H501.5Z" fill="#d62728"/><path d="M504.39 269.57H505.37V268.6H506.67V269.57H507.64V270.87H506.67V271.85H505.37V270.87H504.39Z" fill="#d62728"/><path d="M507.29 270.74H508.26V269.76H509.56V270.74H510.54V272.03H509.56V273.01H508.26V272.03H507.29Z" fill="#d62728"/><path d="M510.18 269.57H511.16V268.6H512.46V269.57H513.43V270.87H512.46V271.85H511.16V270.87H510.18Z" fill="#d62728"/><path d="M513.07 270.18H514.05V269.21H515.35V270.18H516.32V271.48H515.35V272.46H514.05V271.48H513.07Z" fill="#d62728"/><path d="M515.97 270.46H516.94V269.48H518.24V270.46H519.22V271.76H518.24V272.73H516.94V271.76H515.97Z" fill="#d62728"/><path d="M518.86 270.74H519.83V269.76H521.13V270.74H522.11V272.03H521.13V273.01H519.83V272.03H518.86Z" fill="#d62728"/><path d="M521.75 271.68H522.73V270.7H524.03V271.68H525V272.98H524.03V273.95H522.73V272.98H521.75Z" fill="#d62728"/><path d="M524.64 272.84H525.62V271.87H526.92V272.84H527.89V274.14H526.92V275.12H525.62V274.14H524.64Z" fill="#d62728"/><path d="M527.54 271.29H528.51V270.31H529.81V271.29H530.79V272.59H529.81V273.56H528.51V272.59H527.54Z" fill="#d62728"/><path d="M530.43 271.9H531.41V270.92H532.71V271.9H533.68V273.2H532.71V274.17H531.41V273.2H530.43Z" fill="#d62728"/><path d="M533.32 272.12H534.3V271.14H535.6V272.12H536.57V273.42H535.6V274.39H534.3V273.42H533.32Z" fill="#d62728"/><path d="M536.22 272.12H537.19V271.14H538.49V272.12H539.47V273.42H538.49V274.39H537.19V273.42H536.22Z" fill="#d62728"/><path d="M539.11 272.12H540.09V271.14H541.38V272.12H542.36V273.42H541.38V274.39H540.09V273.42H539.11Z" fill="#d62728"/><path d="M542 273.06H542.98V272.09H544.28V273.06H545.25V274.36H544.28V275.34H542.98V274.36H542Z" fill="#d62728"/><path d="M544.9 272.45H545.87V271.48H547.17V272.45H548.15V273.75H547.17V274.73H545.87V273.75H544.9Z" fill="#d62728"/><path d="M547.79 271.9H548.76V270.92H550.06V271.9H551.04V273.2H550.06V274.17H548.76V273.2H547.79Z" fill="#d62728"/><path d="M550.68 272.23H551.66V271.26H552.96V272.23H553.93V273.53H552.96V274.51H551.66V273.53H550.68Z" fill="#d62728"/><path d="M553.58 272.45H554.55V271.48H555.85V272.45H556.83V273.75H555.85V274.73H554.55V273.75H553.58Z" fill="#d62728"/><path d="M556.47 274H557.44V273.03H558.74V274H559.72V275.3H558.74V276.28H557.44V275.3H556.47Z" fill="#d62728"/><path d="M559.36 275.61H560.34V274.64H561.64V275.61H562.61V276.91H561.64V277.89H560.34V276.91H559.36Z" fill="#d62728"/><path d="M562.25 272.45H563.23V271.48H564.53V272.45H565.5V273.75H564.53V274.73H563.23V273.75H562.25Z" fill="#d62728"/><path d="M565.15 274.23H566.12V273.25H567.42V274.23H568.4V275.53H567.42V276.5H566.12V275.53H565.15Z" fill="#d62728"/><path d="M568.04 272.12H569.01V271.14H570.31V272.12H571.29V273.42H570.31V274.39H569.01V273.42H568.04Z" fill="#d62728"/><path d="M570.93 273.06H571.91V272.09H573.21V273.06H574.18V274.36H573.21V275.34H571.91V274.36H570.93Z" fill="#d62728"/><path d="M573.83 275.39H574.8V274.41H576.1V275.39H577.08V276.69H576.1V277.66H574.8V276.69H573.83Z" fill="#d62728"/><path d="M576.72 274H577.69V273.03H578.99V274H579.97V275.3H578.99V276.28H577.69V275.3H576.72Z" fill="#d62728"/><path d="M579.61 273.28H580.59V272.31H581.89V273.28H582.86V274.58H581.89V275.56H580.59V274.58H579.61Z" fill="#d62728"/><path d="M582.5 272.12H583.48V271.14H584.78V272.12H585.75V273.42H584.78V274.39H583.48V273.42H582.5Z" fill="#d62728"/><path d="M585.4 272.84H586.37V271.87H587.67V272.84H588.65V274.14H587.67V275.12H586.37V274.14H585.4Z" fill="#d62728"/><path d="M588.29 273.28H589.27V272.31H590.57V273.28H591.54V274.58H590.57V275.56H589.27V274.58H588.29Z" fill="#d62728"/><path d="M591.18 274.78H592.16V273.8H593.46V274.78H594.43V276.08H593.46V277.05H592.16V276.08H591.18Z" fill="#d62728"/><path d="M594.08 274.23H595.05V273.25H596.35V274.23H597.33V275.53H596.35V276.5H595.05V275.53H594.08Z" fill="#d62728"/><path d="M596.97 275.39H597.95V274.41H599.25V275.39H600.22V276.69H599.25V277.66H597.95V276.69H596.97Z" fill="#d62728"/><path d="M599.86 273.06H600.84V272.09H602.14V273.06H603.11V274.36H602.14V275.34H600.84V274.36H599.86Z" fill="#d62728"/><path d="M602.76 274.78H603.73V273.8H605.03V274.78H606.01V276.08H605.03V277.05H603.73V276.08H602.76Z" fill="#d62728"/><path d="M605.65 273.62H606.62V272.64H607.92V273.62H608.9V274.92H607.92V275.89H606.62V274.92H605.65Z" fill="#d62728"/><path d="M608.54 276H609.52V275.02H610.82V276H611.79V277.3H610.82V278.27H609.52V277.3H608.54Z" fill="#d62728"/><path d="M611.43 277.94H612.41V276.96H613.71V277.94H614.68V279.24H613.71V280.21H612.41V279.24H611.43Z" fill="#d62728"/><path d="M614.33 274.78H615.3V273.8H616.6V274.78H617.58V276.08H616.6V277.05H615.3V276.08H614.33Z" fill="#d62728"/><path d="M617.22 274.45H618.2V273.47H619.5V274.45H620.47V275.75H619.5V276.72H618.2V275.75H617.22Z" fill="#d62728"/><path d="M620.11 275.61H621.09V274.64H622.39V275.61H623.36V276.91H622.39V277.89H621.09V276.91H620.11Z" fill="#d62728"/><path d="M623.01 275.17H623.98V274.19H625.28V275.17H626.26V276.47H625.28V277.44H623.98V276.47H623.01Z" fill="#d62728"/><path d="M625.9 274.78H626.88V273.8H628.17V274.78H629.15V276.08H628.17V277.05H626.88V276.08H625.9Z" fill="#d62728"/><path d="M628.79 275.39H629.77V274.41H631.07V275.39H632.04V276.69H631.07V277.66H629.77V276.69H628.79Z" fill="#d62728"/><path d="M631.69 276.55H632.66V275.58H633.96V276.55H634.94V277.85H633.96V278.83H632.66V277.85H631.69Z" fill="#d62728"/><path d="M634.58 276H635.55V275.02H636.85V276H637.83V277.3H636.85V278.27H635.55V277.3H634.58Z" fill="#d62728"/><path d="M637.47 276.55H638.45V275.58H639.75V276.55H640.72V277.85H639.75V278.83H638.45V277.85H637.47Z" fill="#d62728"/><path d="M640.37 277.11H641.34V276.13H642.64V277.11H643.62V278.41H642.64V279.38H641.34V278.41H640.37Z" fill="#d62728"/><path d="M643.26 275.39H644.23V274.41H645.53V275.39H646.51V276.69H645.53V277.66H644.23V276.69H643.26Z" fill="#d62728"/><path d="M646.15 275.39H647.13V274.41H648.43V275.39H649.4V276.69H648.43V277.66H647.13V276.69H646.15Z" fill="#d62728"/><path d="M649.04 276H650.02V275.02H651.32V276H652.29V277.3H651.32V278.27H650.02V277.3H649.04Z" fill="#d62728"/><path d="M651.94 276.33H652.91V275.36H654.21V276.33H655.19V277.63H654.21V278.61H652.91V277.63H651.94Z" fill="#d62728"/><path d="M654.83 276H655.8V275.02H657.1V276H658.08V277.3H657.1V278.27H655.8V277.3H654.83Z" fill="#d62728"/><path d="M657.72 275.61H658.7V274.64H660V275.61H660.97V276.91H660V277.89H658.7V276.91H657.72Z" fill="#d62728"/><path d="M660.62 277.49H661.59V276.52H662.89V277.49H663.87V278.79H662.89V279.77H661.59V278.79H660.62Z" fill="#d62728"/><path d="M663.51 275.61H664.48V274.64H665.78V275.61H666.76V276.91H665.78V277.89H664.48V276.91H663.51Z" fill="#d62728"/><path d="M666.4 277.11H667.38V276.13H668.68V277.11H669.65V278.41H668.68V279.38H667.38V278.41H666.4Z" fill="#d62728"/>
<path d="M413.44 227.88L416.34 229.81L419.23 226.91L422.12 228.92L425.01 228.92L427.91 221.41L430.8 222.6L433.69 223.29L436.59 221.91L439.48 222.41L442.37 222.96L445.27 228.01L448.16 227.4L451.05 222.67L453.94 222.06L456.84 223.48L459.73 221.33L462.62 224.01L465.52 222.12L468.41 221.81L471.3 226.22L474.2 224.7L477.09 221.62L479.98 224.01L482.88 221.14L485.77 220.56L488.66 219.51L491.55 218.4L494.45 223.12L497.34 220.9L500.23 220.68L503.13 225.93L506.02 220.9L508.91 219.87L511.81 221.62L514.7 219.98L517.59 224.7L520.48 221.33L523.38 222.01L526.27 222.47L529.16 225.05L532.06 226.72L534.95 221.76L537.84 222.12L540.74 221.21L543.63 219.87L546.52 220.26L549.41 225.93L552.31 225.05L555.2 217.3L558.09 219.12L560.99 219.09L563.88 223.57L566.77 219.04L569.66 225.93L572.56 220L575.45 217.95L578.34 219.72L581.24 220.83L584.13 219.85L587.02 218.89L589.92 221.41L592.81 217.55L595.7 218.75L598.6 218.85L601.49 221.54L604.38 223.57L607.27 218.75L610.17 220.31L613.06 219.23L615.95 225.45L618.85 219.62L621.74 219.35L624.63 221.1L627.52 222.88L630.42 219.82L633.31 217.82L636.2 220.71L639.1 218.95L641.99 217.03L644.88 218.16L647.78 218.91L650.67 218.82L653.56 222.23L656.45 221.18L659.35 220.12L662.24 219.1L665.13 216.45L668.03 217.17" fill="none" stroke="#9467bd" stroke-width="0.87" stroke-linejoin="round"/><path d="M411.75 229.07L415.13 229.07L413.44 226.03Z" fill="#9467bd"/><path d="M414.65 230.99L418.03 230.99L416.34 227.95Z" fill="#9467bd"/><path d="M417.54 228.09L420.92 228.09L419.23 225.05Z" fill="#9467bd"/><path d="M420.43 230.1L423.81 230.1L422.12 227.06Z" fill="#9467bd"/><path d="M423.32 230.1L426.7 230.1L425.01 227.06Z" fill="#9467bd"/><path d="M426.22 222.59L429.6 222.59L427.91 219.55Z" fill="#9467bd"/><path d="M429.11 223.78L432.49 223.78L430.8 220.74Z" fill="#9467bd"/><path d="M432 224.47L435.38 224.47L433.69 221.43Z" fill="#9467bd"/><path d="M434.9 223.09L438.28 223.09L436.59 220.05Z" fill="#9467bd"/><path d="M437.79 223.59L441.17 223.59L439.48 220.55Z" fill="#9467bd"/><path d="M440.68 224.14L444.06 224.14L442.37 221.1Z" fill="#9467bd"/><path d="M443.58 229.19L446.96 229.19L445.27 226.15Z" fill="#9467bd"/><path d="M446.47 228.58L449.85 228.58L448.16 225.54Z" fill="#9467bd"/><path d="M449.36 223.85L452.74 223.85L451.05 220.81Z" fill="#9467bd"/><path d="M452.25 223.24L455.63 223.24L453.94 220.2Z" fill="#9467bd"/><path d="M455.15 224.66L458.53 224.66L456.84 221.62Z" fill="#9467bd"/><path d="M458.04 222.51L461.42 222.51L459.73 219.47Z" fill="#9467bd"/><path d="M460.93 225.2L464.31 225.2L462.62 222.15Z" fill="#9467bd"/><path d="M463.83 223.3L467.21 223.3L465.52 220.26Z" fill="#9467bd"/><path d="M466.72 222.99L470.1 222.99L468.41 219.95Z" fill="#9467bd"/><path d="M469.61 227.4L472.99 227.4L471.3 224.36Z" fill="#9467bd"/><path d="M472.51 225.89L475.89 225.89L474.2 222.85Z" fill="#9467bd"/><path d="M475.4 222.81L478.78 222.81L477.09 219.76Z" fill="#9467bd"/><path d="M478.29 225.2L481.67 225.2L479.98 222.15Z" fill="#9467bd"/><path d="M481.19 222.32L484.56 222.32L482.88 219.28Z" fill="#9467bd"/><path d="M484.08 221.74L487.46 221.74L485.77 218.7Z" fill="#9467bd"/><path d="M486.97 220.69L490.35 220.69L488.66 217.65Z" fill="#9467bd"/><path d="M489.86 219.58L493.24 219.58L491.55 216.54Z" fill="#9467bd"/><path d="M492.76 224.3L496.14 224.3L494.45 221.26Z" fill="#9467bd"/><path d="M495.65 222.08L499.03 222.08L497.34 219.04Z" fill="#9467bd"/><path d="M498.54 221.86L501.92 221.86L500.23 218.82Z" fill="#9467bd"/><path d="M501.44 227.12L504.82 227.12L503.13 224.07Z" fill="#9467bd"/><path d="M504.33 222.08L507.71 222.08L506.02 219.04Z" fill="#9467bd"/><path d="M507.22 221.05L510.6 221.05L508.91 218.01Z" fill="#9467bd"/><path d="M510.12 222.81L513.5 222.81L511.81 219.76Z" fill="#9467bd"/><path d="M513.01 221.16L516.39 221.16L514.7 218.12Z" fill="#9467bd"/><path d="M515.9 225.89L519.28 225.89L517.59 222.85Z" fill="#9467bd"/><path d="M518.79 222.51L522.17 222.51L520.48 219.47Z" fill="#9467bd"/><path d="M521.69 223.19L525.07 223.19L523.38 220.15Z" fill="#9467bd"/><path d="M524.58 223.65L527.96 223.65L526.27 220.61Z" fill="#9467bd"/><path d="M527.47 226.23L530.85 226.23L529.16 223.19Z" fill="#9467bd"/><path d="M530.37 227.9L533.75 227.9L532.06 224.86Z" fill="#9467bd"/><path d="M533.26 222.94L536.64 222.94L534.95 219.9Z" fill="#9467bd"/><path d="M536.15 223.3L539.53 223.3L537.84 220.26Z" fill="#9467bd"/><path d="M539.04 222.4L542.43 222.4L540.74 219.35Z" fill="#9467bd"/><path d="M541.94 221.05L545.32 221.05L543.63 218.01Z" fill="#9467bd"/><path d="M544.83 221.45L548.21 221.45L546.52 218.4Z" fill="#9467bd"/><path d="M547.72 227.12L551.1 227.12L549.41 224.07Z" fill="#9467bd"/><path d="M550.62 226.23L554 226.23L552.31 223.19Z" fill="#9467bd"/><path d="M553.51 218.48L556.89 218.48L555.2 215.44Z" fill="#9467bd"/><path d="M556.4 220.3L559.78 220.3L558.09 217.26Z" fill="#9467bd"/><path d="M559.3 220.27L562.68 220.27L560.99 217.23Z" fill="#9467bd"/><path d="M562.19 224.76L565.57 224.76L563.88 221.71Z" fill="#9467bd"/><path d="M565.08 220.22L568.46 220.22L566.77 217.18Z" fill="#9467bd"/><path d="M567.97 227.12L571.36 227.12L569.66 224.07Z" fill="#9467bd"/><path d="M570.87 221.18L574.25 221.18L572.56 218.14Z" fill="#9467bd"/><path d="M573.76 219.14L577.14 219.14L575.45 216.1Z" fill="#9467bd"/><path d="M576.65 220.9L580.03 220.9L578.34 217.86Z" fill="#9467bd"/><path d="M579.55 222.02L582.93 222.02L581.24 218.97Z" fill="#9467bd"/><path d="M582.44 221.03L585.82 221.03L584.13 217.99Z" fill="#9467bd"/><path d="M585.33 220.07L588.71 220.07L587.02 217.03Z" fill="#9467bd"/><path d="M588.23 222.59L591.61 222.59L589.92 219.55Z" fill="#9467bd"/><path d="M591.12 218.74L594.5 218.74L592.81 215.69Z" fill="#9467bd"/><path d="M594.01 219.94L597.39 219.94L595.7 216.89Z" fill="#9467bd"/><path d="M596.9 220.03L600.29 220.03L598.6 216.99Z" fill="#9467bd"/><path d="M599.8 222.72L603.18 222.72L601.49 219.68Z" fill="#9467bd"/><path d="M602.69 224.76L606.07 224.76L604.38 221.71Z" fill="#9467bd"/><path d="M605.58 219.94L608.96 219.94L607.27 216.89Z" fill="#9467bd"/><path d="M608.48 221.5L611.86 221.5L610.17 218.46Z" fill="#9467bd"/><path d="M611.37 220.41L614.75 220.41L613.06 217.37Z" fill="#9467bd"/><path d="M614.26 226.63L617.64 226.63L615.95 223.59Z" fill="#9467bd"/><path d="M617.16 220.81L620.54 220.81L618.85 217.76Z" fill="#9467bd"/><path d="M620.05 220.53L623.43 220.53L621.74 217.49Z" fill="#9467bd"/><path d="M622.94 222.29L626.32 222.29L624.63 219.24Z" fill="#9467bd"/><path d="M625.83 224.06L629.22 224.06L627.52 221.02Z" fill="#9467bd"/><path d="M628.73 221.01L632.11 221.01L630.42 217.97Z" fill="#9467bd"/><path d="M631.62 219.01L635 219.01L633.31 215.96Z" fill="#9467bd"/><path d="M634.51 221.89L637.89 221.89L636.2 218.85Z" fill="#9467bd"/><path d="M637.41 220.13L640.79 220.13L639.1 217.09Z" fill="#9467bd"/><path d="M640.3 218.21L643.68 218.21L641.99 215.17Z" fill="#9467bd"/><path d="M643.19 219.34L646.57 219.34L644.88 216.3Z" fill="#9467bd"/><path d="M646.09 220.09L649.47 220.09L647.78 217.05Z" fill="#9467bd"/><path d="M648.98 220L652.36 220L650.67 216.96Z" fill="#9467bd"/><path d="M651.87 223.41L655.25 223.41L653.56 220.37Z" fill="#9467bd"/><path d="M654.76 222.36L658.14 222.36L656.45 219.32Z" fill="#9467bd"/><path d="M657.66 221.3L661.04 221.3L659.35 218.26Z" fill="#9467bd"/><path d="M660.55 220.28L663.93 220.28L662.24 217.24Z" fill="#9467bd"/><path d="M663.44 217.64L666.82 217.64L665.13 214.59Z" fill="#9467bd"/><path d="M666.34 218.35L669.72 218.35L668.03 215.31Z" fill="#9467bd"/>
<path d="M413.44 245.51L416.34 245.4L419.23 245.75L422.12 323.01L425.01 256.72L427.91 243.92L430.8 247.26L433.69 243.47L436.59 244.1L439.48 243.64L442.37 246.47L445.27 255.05L448.16 248.18L451.05 249.51L453.94 248.8L456.84 247.55L459.73 250.04L462.62 245.47L465.52 246.32L468.41 251.27L471.3 261.82L474.2 252.1L477.09 245.54L479.98 252.94L482.88 263.18L485.77 247.52L488.66 245.45L491.55 243.97L494.45 247.21L497.34 243.95L500.23 247.99L503.13 323.01L506.02 249.07L508.91 245.47L511.81 244L514.7 252.25L517.59 252.57L520.48 247.94L523.38 247.4L526.27 256.28L529.16 323.01L532.06 323.01L534.95 256.28L537.84 243.66L540.74 249.99L543.63 252.4L546.52 261.45L549.41 322.32L552.31 321.09L555.2 249.37L558.09 248.53L560.99 249.61L563.88 249.19L566.77 248.95L569.66 321.09L572.56 253.38L575.45 248.38L578.34 252.4L581.24 263.18L584.13 253.38L587.02 249.76L589.92 244.21L592.81 244.64L595.7 244.81L598.6 244.88L601.49 251.38L604.38 249.99L607.27 250.44L610.17 252.25L613.06 244.57L615.95 319.05L618.85 252.4L621.74 250.17L624.63 256.72L627.52 260.15L630.42 247.48L633.31 252.75L636.2 250.74L639.1 249.37L641.99 249.82L644.88 250.23L647.78 252.4L650.67 247.48L653.56 250.58L656.45 247.91L659.35 263.83L662.24 247.57L665.13 243.66L668.03 245.12" fill="none" stroke="#8c564b" stroke-width="0.87" stroke-linejoin="round"/><path d="M412.3 244.14H414.58M412.3 246.88H414.58M413.44 244.14V246.88" fill="none" stroke="#8c564b" stroke-width="0.7"/><rect x="412.74" y="244.81" width="1.4" height="1.4" fill="#8c564b"/><path d="M415.2 244.03H417.48M415.2 246.77H417.48M416.34 244.03V246.77" fill="none" stroke="#8c564b" stroke-width="0.7"/><rect x="415.64" y="244.7" width="1.4" height="1.4" fill="#8c564b"/><path d="M418.09 244.39H420.37M418.09 247.12H420.37M419.23 244.39V247.12" fill="none" stroke="#8c564b" stroke-width="0.7"/><rect x="418.53" y="245.05" width="1.4" height="1.4" fill="#8c564b"/><path d="M420.98 321.64H423.26M420.98 324.38H423.26M422.12 321.64V324.38" fill="none" stroke="#8c564b" stroke-width="0.7"/><rect x="421.42" y="322.31" width="1.4" height="1.4" fill="#8c564b"/><path d="M423.88 255.35H426.15M423.88 258.08H426.15M425.01 255.35V258.08" fill="none" stroke="#8c564b" stroke-width="0.7"/><rect x="424.31" y="256.02" width="1.4" height="1.4" fill="#8c564b"/><path d="M426.77 242.55H429.05M426.77 245.29H429.05M427.91 242.55V245.29" fill="none" stroke="#8c564b" stroke-width="0.7"/><rect x="427.21" y="243.22" width="1.4" height="1.4" fill="#8c564b"/><path d="M429.66 245.9H431.94M429.66 248.63H431.94M430.8 245.9V248.63" fill="none" stroke="#8c564b" stroke-width="0.7"/><rect x="430.1" y="246.56" width="1.4" height="1.4" fill="#8c564b"/><path d="M432.55 242.1H434.83M432.55 244.83H434.83M433.69 242.1V244.83" fill="none" stroke="#8c564b" stroke-width="0.7"/><rect x="432.99" y="242.77" width="1.4" height="1.4" fill="#8c564b"/><path d="M435.45 242.73H437.73M435.45 245.47H437.73M436.59 242.73V245.47" fill="none" stroke="#8c564b" stroke-width="0.7"/><rect x="435.89" y="243.4" width="1.4" height="1.4" fill="#8c564b"/><path d="M438.34 242.28H440.62M438.34 245.01H440.62M439.48 242.28V245.01" fill="none" stroke="#8c564b" stroke-width="0.7"/><rect x="438.78" y="242.94" width="1.4" height="1.4" fill="#8c564b"/><path d="M441.23 245.1H443.51M441.23 247.83H443.51M442.37 245.1V247.83" fill="none" stroke="#8c564b" stroke-width="0.7"/><rect x="441.67" y="245.77" width="1.4" height="1.4" fill="#8c564b"/><path d="M444.13 253.68H446.41M444.13 256.42H446.41M445.27 253.68V256.42" fill="none" stroke="#8c564b" stroke-width="0.7"/><rect x="444.57" y="254.35" width="1.4" height="1.4" fill="#8c564b"/><path d="M447.02 246.81H449.3M447.02 249.54H449.3M448.16 246.81V249.54" fill="none" stroke="#8c564b" stroke-width="0.7"/><rect x="447.46" y="247.48" width="1.4" height="1.4" fill="#8c564b"/><path d="M449.91 248.14H452.19M449.91 250.88H452.19M451.05 248.14V250.88" fill="none" stroke="#8c564b" stroke-width="0.7"/><rect x="450.35" y="248.81" width="1.4" height="1.4" fill="#8c564b"/><path d="M452.81 247.44H455.08M452.81 250.17H455.08M453.94 247.44V250.17" fill="none" stroke="#8c564b" stroke-width="0.7"/><rect x="453.25" y="248.1" width="1.4" height="1.4" fill="#8c564b"/><path d="M455.7 246.18H457.98M455.7 248.91H457.98M456.84 246.18V248.91" fill="none" stroke="#8c564b" stroke-width="0.7"/><rect x="456.14" y="246.85" width="1.4" height="1.4" fill="#8c564b"/><path d="M458.59 248.68H460.87M458.59 251.41H460.87M459.73 248.68V251.41" fill="none" stroke="#8c564b" stroke-width="0.7"/><rect x="459.03" y="249.34" width="1.4" height="1.4" fill="#8c564b"/><path d="M461.48 244.1H463.76M461.48 246.84H463.76M462.62 244.1V246.84" fill="none" stroke="#8c564b" stroke-width="0.7"/><rect x="461.92" y="244.77" width="1.4" height="1.4" fill="#8c564b"/><path d="M464.38 244.95H466.66M464.38 247.69H466.66M465.52 244.95V247.69" fill="none" stroke="#8c564b" stroke-width="0.7"/><rect x="464.82" y="245.62" width="1.4" height="1.4" fill="#8c564b"/><path d="M467.27 249.91H469.55M467.27 252.64H469.55M468.41 249.91V252.64" fill="none" stroke="#8c564b" stroke-width="0.7"/><rect x="467.71" y="250.57" width="1.4" height="1.4" fill="#8c564b"/><path d="M470.16 260.45H472.44M470.16 263.18H472.44M471.3 260.45V263.18" fill="none" stroke="#8c564b" stroke-width="0.7"/><rect x="470.6" y="261.12" width="1.4" height="1.4" fill="#8c564b"/><path d="M473.06 250.74H475.34M473.06 253.47H475.34M474.2 250.74V253.47" fill="none" stroke="#8c564b" stroke-width="0.7"/><rect x="473.5" y="251.4" width="1.4" height="1.4" fill="#8c564b"/><path d="M475.95 244.17H478.23M475.95 246.91H478.23M477.09 244.17V246.91" fill="none" stroke="#8c564b" stroke-width="0.7"/><rect x="476.39" y="244.84" width="1.4" height="1.4" fill="#8c564b"/><path d="M478.84 251.57H481.12M478.84 254.31H481.12M479.98 251.57V254.31" fill="none" stroke="#8c564b" stroke-width="0.7"/><rect x="479.28" y="252.24" width="1.4" height="1.4" fill="#8c564b"/><path d="M481.74 261.82H484.01M481.74 264.55H484.01M482.88 261.82V264.55" fill="none" stroke="#8c564b" stroke-width="0.7"/><rect x="482.18" y="262.48" width="1.4" height="1.4" fill="#8c564b"/><path d="M484.63 246.16H486.91M484.63 248.89H486.91M485.77 246.16V248.89" fill="none" stroke="#8c564b" stroke-width="0.7"/><rect x="485.07" y="246.82" width="1.4" height="1.4" fill="#8c564b"/><path d="M487.52 244.08H489.8M487.52 246.82H489.8M488.66 244.08V246.82" fill="none" stroke="#8c564b" stroke-width="0.7"/><rect x="487.96" y="244.75" width="1.4" height="1.4" fill="#8c564b"/><path d="M490.41 242.6H492.69M490.41 245.34H492.69M491.55 242.6V245.34" fill="none" stroke="#8c564b" stroke-width="0.7"/><rect x="490.85" y="243.27" width="1.4" height="1.4" fill="#8c564b"/><path d="M493.31 245.84H495.59M493.31 248.58H495.59M494.45 245.84V248.58" fill="none" stroke="#8c564b" stroke-width="0.7"/><rect x="493.75" y="246.51" width="1.4" height="1.4" fill="#8c564b"/><path d="M496.2 242.58H498.48M496.2 245.32H498.48M497.34 242.58V245.32" fill="none" stroke="#8c564b" stroke-width="0.7"/><rect x="496.64" y="243.25" width="1.4" height="1.4" fill="#8c564b"/><path d="M499.09 246.62H501.37M499.09 249.36H501.37M500.23 246.62V249.36" fill="none" stroke="#8c564b" stroke-width="0.7"/><rect x="499.53" y="247.29" width="1.4" height="1.4" fill="#8c564b"/><path d="M501.99 321.64H504.27M501.99 324.38H504.27M503.13 321.64V324.38" fill="none" stroke="#8c564b" stroke-width="0.7"/><rect x="502.43" y="322.31" width="1.4" height="1.4" fill="#8c564b"/><path d="M504.88 247.7H507.16M504.88 250.44H507.16M506.02 247.7V250.44" fill="none" stroke="#8c564b" stroke-width="0.7"/><rect x="505.32" y="248.37" width="1.4" height="1.4" fill="#8c564b"/><path d="M507.77 244.1H510.05M507.77 246.84H510.05M508.91 244.1V246.84" fill="none" stroke="#8c564b" stroke-width="0.7"/><rect x="508.21" y="244.77" width="1.4" height="1.4" fill="#8c564b"/><path d="M510.67 242.63H512.95M510.67 245.36H512.95M511.81 242.63V245.36" fill="none" stroke="#8c564b" stroke-width="0.7"/><rect x="511.11" y="243.3" width="1.4" height="1.4" fill="#8c564b"/><path d="M513.56 250.88H515.84M513.56 253.62H515.84M514.7 250.88V253.62" fill="none" stroke="#8c564b" stroke-width="0.7"/><rect x="514" y="251.55" width="1.4" height="1.4" fill="#8c564b"/><path d="M516.45 251.2H518.73M516.45 253.94H518.73M517.59 251.2V253.94" fill="none" stroke="#8c564b" stroke-width="0.7"/><rect x="516.89" y="251.87" width="1.4" height="1.4" fill="#8c564b"/><path d="M519.34 246.57H521.62M519.34 249.31H521.62M520.48 246.57V249.31" fill="none" stroke="#8c564b" stroke-width="0.7"/><rect x="519.78" y="247.24" width="1.4" height="1.4" fill="#8c564b"/><path d="M522.24 246.03H524.52M522.24 248.77H524.52M523.38 246.03V248.77" fill="none" stroke="#8c564b" stroke-width="0.7"/><rect x="522.68" y="246.7" width="1.4" height="1.4" fill="#8c564b"/><path d="M525.13 254.91H527.41M525.13 257.64H527.41M526.27 254.91V257.64" fill="none" stroke="#8c564b" stroke-width="0.7"/><rect x="525.57" y="255.58" width="1.4" height="1.4" fill="#8c564b"/><path d="M528.02 321.64H530.3M528.02 324.38H530.3M529.16 321.64V324.38" fill="none" stroke="#8c564b" stroke-width="0.7"/><rect x="528.46" y="322.31" width="1.4" height="1.4" fill="#8c564b"/><path d="M530.92 321.64H533.2M530.92 324.38H533.2M532.06 321.64V324.38" fill="none" stroke="#8c564b" stroke-width="0.7"/><rect x="531.36" y="322.31" width="1.4" height="1.4" fill="#8c564b"/><path d="M533.81 254.91H536.09M533.81 257.64H536.09M534.95 254.91V257.64" fill="none" stroke="#8c564b" stroke-width="0.7"/><rect x="534.25" y="255.58" width="1.4" height="1.4" fill="#8c564b"/><path d="M536.7 242.29H538.98M536.7 245.02H538.98M537.84 242.29V245.02" fill="none" stroke="#8c564b" stroke-width="0.7"/><rect x="537.14" y="242.96" width="1.4" height="1.4" fill="#8c564b"/><path d="M539.6 248.62H541.88M539.6 251.35H541.88M540.74 248.62V251.35" fill="none" stroke="#8c564b" stroke-width="0.7"/><rect x="540.03" y="249.29" width="1.4" height="1.4" fill="#8c564b"/><path d="M542.49 251.04H544.77M542.49 253.77H544.77M543.63 251.04V253.77" fill="none" stroke="#8c564b" stroke-width="0.7"/><rect x="542.93" y="251.7" width="1.4" height="1.4" fill="#8c564b"/><path d="M545.38 260.08H547.66M545.38 262.81H547.66M546.52 260.08V262.81" fill="none" stroke="#8c564b" stroke-width="0.7"/><rect x="545.82" y="260.75" width="1.4" height="1.4" fill="#8c564b"/><path d="M548.27 320.95H550.55M548.27 323.69H550.55M549.41 320.95V323.69" fill="none" stroke="#8c564b" stroke-width="0.7"/><rect x="548.71" y="321.62" width="1.4" height="1.4" fill="#8c564b"/><path d="M551.17 319.72H553.45M551.17 322.46H553.45M552.31 319.72V322.46" fill="none" stroke="#8c564b" stroke-width="0.7"/><rect x="551.61" y="320.39" width="1.4" height="1.4" fill="#8c564b"/><path d="M554.06 248H556.34M554.06 250.74H556.34M555.2 248V250.74" fill="none" stroke="#8c564b" stroke-width="0.7"/><rect x="554.5" y="248.67" width="1.4" height="1.4" fill="#8c564b"/><path d="M556.95 247.16H559.23M556.95 249.9H559.23M558.09 247.16V249.9" fill="none" stroke="#8c564b" stroke-width="0.7"/><rect x="557.39" y="247.83" width="1.4" height="1.4" fill="#8c564b"/><path d="M559.85 248.24H562.13M559.85 250.97H562.13M560.99 248.24V250.97" fill="none" stroke="#8c564b" stroke-width="0.7"/><rect x="560.29" y="248.91" width="1.4" height="1.4" fill="#8c564b"/><path d="M562.74 247.82H565.02M562.74 250.56H565.02M563.88 247.82V250.56" fill="none" stroke="#8c564b" stroke-width="0.7"/><rect x="563.18" y="248.49" width="1.4" height="1.4" fill="#8c564b"/><path d="M565.63 247.58H567.91M565.63 250.32H567.91M566.77 247.58V250.32" fill="none" stroke="#8c564b" stroke-width="0.7"/><rect x="566.07" y="248.25" width="1.4" height="1.4" fill="#8c564b"/><path d="M568.52 319.72H570.8M568.52 322.46H570.8M569.66 319.72V322.46" fill="none" stroke="#8c564b" stroke-width="0.7"/><rect x="568.96" y="320.39" width="1.4" height="1.4" fill="#8c564b"/><path d="M571.42 252.01H573.7M571.42 254.75H573.7M572.56 252.01V254.75" fill="none" stroke="#8c564b" stroke-width="0.7"/><rect x="571.86" y="252.68" width="1.4" height="1.4" fill="#8c564b"/><path d="M574.31 247.01H576.59M574.31 249.74H576.59M575.45 247.01V249.74" fill="none" stroke="#8c564b" stroke-width="0.7"/><rect x="574.75" y="247.68" width="1.4" height="1.4" fill="#8c564b"/><path d="M577.2 251.04H579.48M577.2 253.77H579.48M578.34 251.04V253.77" fill="none" stroke="#8c564b" stroke-width="0.7"/><rect x="577.64" y="251.7" width="1.4" height="1.4" fill="#8c564b"/><path d="M580.1 261.82H582.38M580.1 264.55H582.38M581.24 261.82V264.55" fill="none" stroke="#8c564b" stroke-width="0.7"/><rect x="580.54" y="262.48" width="1.4" height="1.4" fill="#8c564b"/><path d="M582.99 252.01H585.27M582.99 254.75H585.27M584.13 252.01V254.75" fill="none" stroke="#8c564b" stroke-width="0.7"/><rect x="583.43" y="252.68" width="1.4" height="1.4" fill="#8c564b"/><path d="M585.88 248.39H588.16M585.88 251.13H588.16M587.02 248.39V251.13" fill="none" stroke="#8c564b" stroke-width="0.7"/><rect x="586.32" y="249.06" width="1.4" height="1.4" fill="#8c564b"/><path d="M588.78 242.84H591.06M588.78 245.57H591.06M589.92 242.84V245.57" fill="none" stroke="#8c564b" stroke-width="0.7"/><rect x="589.22" y="243.51" width="1.4" height="1.4" fill="#8c564b"/><path d="M591.67 243.27H593.95M591.67 246.01H593.95M592.81 243.27V246.01" fill="none" stroke="#8c564b" stroke-width="0.7"/><rect x="592.11" y="243.94" width="1.4" height="1.4" fill="#8c564b"/><path d="M594.56 243.44H596.84M594.56 246.17H596.84M595.7 243.44V246.17" fill="none" stroke="#8c564b" stroke-width="0.7"/><rect x="595" y="244.11" width="1.4" height="1.4" fill="#8c564b"/><path d="M597.46 243.51H599.74M597.46 246.25H599.74M598.6 243.51V246.25" fill="none" stroke="#8c564b" stroke-width="0.7"/><rect x="597.89" y="244.18" width="1.4" height="1.4" fill="#8c564b"/><path d="M600.35 250.01H602.63M600.35 252.74H602.63M601.49 250.01V252.74" fill="none" stroke="#8c564b" stroke-width="0.7"/><rect x="600.79" y="250.68" width="1.4" height="1.4" fill="#8c564b"/><path d="M603.24 248.62H605.52M603.24 251.35H605.52M604.38 248.62V251.35" fill="none" stroke="#8c564b" stroke-width="0.7"/><rect x="603.68" y="249.29" width="1.4" height="1.4" fill="#8c564b"/><path d="M606.13 249.07H608.41M606.13 251.8H608.41M607.27 249.07V251.8" fill="none" stroke="#8c564b" stroke-width="0.7"/><rect x="606.57" y="249.74" width="1.4" height="1.4" fill="#8c564b"/><path d="M609.03 250.88H611.31M609.03 253.62H611.31M610.17 250.88V253.62" fill="none" stroke="#8c564b" stroke-width="0.7"/><rect x="609.47" y="251.55" width="1.4" height="1.4" fill="#8c564b"/><path d="M611.92 243.2H614.2M611.92 245.94H614.2M613.06 243.2V245.94" fill="none" stroke="#8c564b" stroke-width="0.7"/><rect x="612.36" y="243.87" width="1.4" height="1.4" fill="#8c564b"/><path d="M614.81 317.68H617.09M614.81 320.42H617.09M615.95 317.68V320.42" fill="none" stroke="#8c564b" stroke-width="0.7"/><rect x="615.25" y="318.35" width="1.4" height="1.4" fill="#8c564b"/><path d="M617.71 251.04H619.99M617.71 253.77H619.99M618.85 251.04V253.77" fill="none" stroke="#8c564b" stroke-width="0.7"/><rect x="618.15" y="251.7" width="1.4" height="1.4" fill="#8c564b"/><path d="M620.6 248.8H622.88M620.6 251.54H622.88M621.74 248.8V251.54" fill="none" stroke="#8c564b" stroke-width="0.7"/><rect x="621.04" y="249.47" width="1.4" height="1.4" fill="#8c564b"/><path d="M623.49 255.35H625.77M623.49 258.08H625.77M624.63 255.35V258.08" fill="none" stroke="#8c564b" stroke-width="0.7"/><rect x="623.93" y="256.02" width="1.4" height="1.4" fill="#8c564b"/><path d="M626.38 258.78H628.66M626.38 261.52H628.66M627.52 258.78V261.52" fill="none" stroke="#8c564b" stroke-width="0.7"/><rect x="626.82" y="259.45" width="1.4" height="1.4" fill="#8c564b"/><path d="M629.28 246.11H631.56M629.28 248.85H631.56M630.42 246.11V248.85" fill="none" stroke="#8c564b" stroke-width="0.7"/><rect x="629.72" y="246.78" width="1.4" height="1.4" fill="#8c564b"/><path d="M632.17 251.38H634.45M632.17 254.12H634.45M633.31 251.38V254.12" fill="none" stroke="#8c564b" stroke-width="0.7"/><rect x="632.61" y="252.05" width="1.4" height="1.4" fill="#8c564b"/><path d="M635.06 249.37H637.34M635.06 252.1H637.34M636.2 249.37V252.1" fill="none" stroke="#8c564b" stroke-width="0.7"/><rect x="635.5" y="250.04" width="1.4" height="1.4" fill="#8c564b"/><path d="M637.96 248H640.24M637.96 250.74H640.24M639.1 248V250.74" fill="none" stroke="#8c564b" stroke-width="0.7"/><rect x="638.4" y="248.67" width="1.4" height="1.4" fill="#8c564b"/><path d="M640.85 248.45H643.13M640.85 251.18H643.13M641.99 248.45V251.18" fill="none" stroke="#8c564b" stroke-width="0.7"/><rect x="641.29" y="249.12" width="1.4" height="1.4" fill="#8c564b"/><path d="M643.74 248.86H646.02M643.74 251.6H646.02M644.88 248.86V251.6" fill="none" stroke="#8c564b" stroke-width="0.7"/><rect x="644.18" y="249.53" width="1.4" height="1.4" fill="#8c564b"/><path d="M646.64 251.04H648.92M646.64 253.77H648.92M647.78 251.04V253.77" fill="none" stroke="#8c564b" stroke-width="0.7"/><rect x="647.08" y="251.7" width="1.4" height="1.4" fill="#8c564b"/><path d="M649.53 246.11H651.81M649.53 248.85H651.81M650.67 246.11V248.85" fill="none" stroke="#8c564b" stroke-width="0.7"/><rect x="649.97" y="246.78" width="1.4" height="1.4" fill="#8c564b"/><path d="M652.42 249.21H654.7M652.42 251.95H654.7M653.56 249.21V251.95" fill="none" stroke="#8c564b" stroke-width="0.7"/><rect x="652.86" y="249.88" width="1.4" height="1.4" fill="#8c564b"/><path d="M655.31 246.55H657.59M655.31 249.28H657.59M656.45 246.55V249.28" fill="none" stroke="#8c564b" stroke-width="0.7"/><rect x="655.75" y="247.21" width="1.4" height="1.4" fill="#8c564b"/><path d="M658.21 262.46H660.49M658.21 265.2H660.49M659.35 262.46V265.2" fill="none" stroke="#8c564b" stroke-width="0.7"/><rect x="658.65" y="263.13" width="1.4" height="1.4" fill="#8c564b"/><path d="M661.1 246.2H663.38M661.1 248.94H663.38M662.24 246.2V248.94" fill="none" stroke="#8c564b" stroke-width="0.7"/><rect x="661.54" y="246.87" width="1.4" height="1.4" fill="#8c564b"/><path d="M663.99 242.29H666.27M663.99 245.02H666.27M665.13 242.29V245.02" fill="none" stroke="#8c564b" stroke-width="0.7"/><rect x="664.43" y="242.96" width="1.4" height="1.4" fill="#8c564b"/><path d="M666.89 243.75H669.17M666.89 246.49H669.17M668.03 243.75V246.49" fill="none" stroke="#8c564b" stroke-width="0.7"/><rect x="667.33" y="244.42" width="1.4" height="1.4" fill="#8c564b"/>
<path d="M413.44 252.16L416.34 252.9L419.23 253.38L422.12 256.53L425.01 256.53L427.91 251.02L430.8 251.99L433.69 250.35L436.59 251.69L439.48 251.47L442.37 254.38L445.27 257.64L448.16 255.05L451.05 255.36L453.94 254.14L456.84 255.91L459.73 256.2L462.62 254.42L465.52 254.24L468.41 256.12L471.3 258.69L474.2 258.11L477.09 253.38L479.98 258.48L482.88 257.64L485.77 254.61L488.66 255.1L491.55 252.55L494.45 254.78L497.34 252.94L500.23 256.92L503.13 259.17L506.02 258.11L508.91 255.71L511.81 253.04L514.7 257.64L517.59 258.92L520.48 257.51L523.38 253.31L526.27 259.78L529.16 259.78L532.06 259.78L534.95 259.46L537.84 253.22L540.74 257.94L543.63 259.17L546.52 259.46L549.41 259.46L552.31 259.78L555.2 257.02L558.09 257.25L560.99 256.81L563.88 257.51L566.77 257.51L569.66 259.78L572.56 261.12L575.45 254.34L578.34 256.53L581.24 259.78L584.13 259.78L587.02 259.17L589.92 254.2L592.81 254.14L595.7 254.86L598.6 255.47L601.49 257.38L604.38 258.11L607.27 257.64L610.17 260.59L613.06 255.53L615.95 259.78L618.85 261.12L621.74 256.36L624.63 259.78L627.52 261.82L630.42 253.8L633.31 259.78L636.2 257.79L639.1 257.13L641.99 258.11L644.88 257.64L647.78 257.94L650.67 256.53L653.56 257.51L656.45 255.58L659.35 261.12L662.24 255.65L665.13 254.65L668.03 253.74" fill="none" stroke="#e377c2" stroke-width="0.87" stroke-linejoin="round"/><path d="M413.44 250.41L414.09 251.51L415.2 252.16L414.09 252.81L413.44 253.92L412.79 252.81L411.69 252.16L412.79 251.51Z" fill="#e377c2"/><path d="M416.34 251.15L416.99 252.25L418.09 252.9L416.99 253.55L416.34 254.66L415.69 253.55L414.58 252.9L415.69 252.25Z" fill="#e377c2"/><path d="M419.23 251.62L419.88 252.73L420.98 253.38L419.88 254.03L419.23 255.13L418.58 254.03L417.47 253.38L418.58 252.73Z" fill="#e377c2"/><path d="M422.12 254.78L422.77 255.88L423.88 256.53L422.77 257.18L422.12 258.29L421.47 257.18L420.37 256.53L421.47 255.88Z" fill="#e377c2"/><path d="M425.01 254.78L425.66 255.88L426.77 256.53L425.66 257.18L425.01 258.29L424.37 257.18L423.26 256.53L424.37 255.88Z" fill="#e377c2"/><path d="M427.91 249.26L428.56 250.37L429.66 251.02L428.56 251.67L427.91 252.77L427.26 251.67L426.15 251.02L427.26 250.37Z" fill="#e377c2"/><path d="M430.8 250.24L431.45 251.34L432.56 251.99L431.45 252.64L430.8 253.75L430.15 252.64L429.05 251.99L430.15 251.34Z" fill="#e377c2"/><path d="M433.69 248.6L434.34 249.7L435.45 250.35L434.34 251L433.69 252.11L433.04 251L431.94 250.35L433.04 249.7Z" fill="#e377c2"/><path d="M436.59 249.93L437.24 251.04L438.34 251.69L437.24 252.34L436.59 253.44L435.94 252.34L434.83 251.69L435.94 251.04Z" fill="#e377c2"/><path d="M439.48 249.72L440.13 250.82L441.24 251.47L440.13 252.12L439.48 253.23L438.83 252.12L437.73 251.47L438.83 250.82Z" fill="#e377c2"/><path d="M442.37 252.62L443.02 253.73L444.13 254.38L443.02 255.03L442.37 256.13L441.72 255.03L440.62 254.38L441.72 253.73Z" fill="#e377c2"/><path d="M445.27 255.89L445.92 256.99L447.02 257.64L445.92 258.29L445.27 259.4L444.62 258.29L443.51 257.64L444.62 256.99Z" fill="#e377c2"/><path d="M448.16 253.29L448.81 254.4L449.91 255.05L448.81 255.7L448.16 256.8L447.51 255.7L446.4 255.05L447.51 254.4Z" fill="#e377c2"/><path d="M451.05 253.6L451.7 254.71L452.81 255.36L451.7 256.01L451.05 257.11L450.4 256.01L449.3 255.36L450.4 254.71Z" fill="#e377c2"/><path d="M453.94 252.38L454.59 253.49L455.7 254.14L454.59 254.79L453.94 255.89L453.3 254.79L452.19 254.14L453.3 253.49Z" fill="#e377c2"/><path d="M456.84 254.15L457.49 255.26L458.59 255.91L457.49 256.56L456.84 257.66L456.19 256.56L455.08 255.91L456.19 255.26Z" fill="#e377c2"/><path d="M459.73 254.44L460.38 255.55L461.49 256.2L460.38 256.85L459.73 257.95L459.08 256.85L457.98 256.2L459.08 255.55Z" fill="#e377c2"/><path d="M462.62 252.66L463.27 253.77L464.38 254.42L463.27 255.07L462.62 256.17L461.97 255.07L460.87 254.42L461.97 253.77Z" fill="#e377c2"/><path d="M465.52 252.48L466.17 253.59L467.27 254.24L466.17 254.89L465.52 255.99L464.87 254.89L463.76 254.24L464.87 253.59Z" fill="#e377c2"/><path d="M468.41 254.37L469.06 255.47L470.17 256.12L469.06 256.77L468.41 257.88L467.76 256.77L466.66 256.12L467.76 255.47Z" fill="#e377c2"/><path d="M471.3 256.94L471.95 258.04L473.06 258.69L471.95 259.34L471.3 260.45L470.65 259.34L469.55 258.69L470.65 258.04Z" fill="#e377c2"/><path d="M474.2 256.36L474.85 257.46L475.95 258.11L474.85 258.76L474.2 259.87L473.55 258.76L472.44 258.11L473.55 257.46Z" fill="#e377c2"/><path d="M477.09 251.62L477.74 252.73L478.84 253.38L477.74 254.03L477.09 255.13L476.44 254.03L475.33 253.38L476.44 252.73Z" fill="#e377c2"/><path d="M479.98 256.73L480.63 257.83L481.74 258.48L480.63 259.13L479.98 260.24L479.33 259.13L478.23 258.48L479.33 257.83Z" fill="#e377c2"/><path d="M482.88 255.89L483.52 256.99L484.63 257.64L483.52 258.29L482.88 259.4L482.23 258.29L481.12 257.64L482.23 256.99Z" fill="#e377c2"/><path d="M485.77 252.85L486.42 253.96L487.52 254.61L486.42 255.26L485.77 256.36L485.12 255.26L484.01 254.61L485.12 253.96Z" fill="#e377c2"/><path d="M488.66 253.34L489.31 254.45L490.42 255.1L489.31 255.75L488.66 256.85L488.01 255.75L486.91 255.1L488.01 254.45Z" fill="#e377c2"/><path d="M491.55 250.8L492.2 251.9L493.31 252.55L492.2 253.2L491.55 254.31L490.9 253.2L489.8 252.55L490.9 251.9Z" fill="#e377c2"/><path d="M494.45 253.02L495.1 254.13L496.2 254.78L495.1 255.43L494.45 256.53L493.8 255.43L492.69 254.78L493.8 254.13Z" fill="#e377c2"/><path d="M497.34 251.19L497.99 252.29L499.1 252.94L497.99 253.59L497.34 254.7L496.69 253.59L495.59 252.94L496.69 252.29Z" fill="#e377c2"/><path d="M500.23 255.16L500.88 256.27L501.99 256.92L500.88 257.57L500.23 258.67L499.58 257.57L498.48 256.92L499.58 256.27Z" fill="#e377c2"/><path d="M503.13 257.42L503.78 258.52L504.88 259.17L503.78 259.82L503.13 260.93L502.48 259.82L501.37 259.17L502.48 258.52Z" fill="#e377c2"/><path d="M506.02 256.36L506.67 257.46L507.77 258.11L506.67 258.76L506.02 259.87L505.37 258.76L504.26 258.11L505.37 257.46Z" fill="#e377c2"/><path d="M508.91 253.95L509.56 255.06L510.67 255.71L509.56 256.36L508.91 257.46L508.26 256.36L507.16 255.71L508.26 255.06Z" fill="#e377c2"/><path d="M511.81 251.29L512.46 252.39L513.56 253.04L512.46 253.69L511.81 254.8L511.16 253.69L510.05 253.04L511.16 252.39Z" fill="#e377c2"/><path d="M514.7 255.89L515.35 256.99L516.45 257.64L515.35 258.29L514.7 259.4L514.05 258.29L512.94 257.64L514.05 256.99Z" fill="#e377c2"/><path d="M517.59 257.17L518.24 258.27L519.35 258.92L518.24 259.57L517.59 260.68L516.94 259.57L515.84 258.92L516.94 258.27Z" fill="#e377c2"/><path d="M520.48 255.75L521.13 256.86L522.24 257.51L521.13 258.16L520.48 259.26L519.83 258.16L518.73 257.51L519.83 256.86Z" fill="#e377c2"/><path d="M523.38 251.55L524.03 252.66L525.13 253.31L524.03 253.96L523.38 255.06L522.73 253.96L521.62 253.31L522.73 252.66Z" fill="#e377c2"/><path d="M526.27 258.02L526.92 259.13L528.02 259.78L526.92 260.43L526.27 261.53L525.62 260.43L524.51 259.78L525.62 259.13Z" fill="#e377c2"/><path d="M529.16 258.02L529.81 259.13L530.92 259.78L529.81 260.43L529.16 261.53L528.51 260.43L527.41 259.78L528.51 259.13Z" fill="#e377c2"/><path d="M532.06 258.02L532.71 259.13L533.81 259.78L532.71 260.43L532.06 261.53L531.41 260.43L530.3 259.78L531.41 259.13Z" fill="#e377c2"/><path d="M534.95 257.7L535.6 258.81L536.7 259.46L535.6 260.11L534.95 261.21L534.3 260.11L533.19 259.46L534.3 258.81Z" fill="#e377c2"/><path d="M537.84 251.46L538.49 252.57L539.6 253.22L538.49 253.87L537.84 254.97L537.19 253.87L536.09 253.22L537.19 252.57Z" fill="#e377c2"/><path d="M540.74 256.19L541.38 257.29L542.49 257.94L541.38 258.59L540.74 259.7L540.09 258.59L538.98 257.94L540.09 257.29Z" fill="#e377c2"/><path d="M543.63 257.42L544.28 258.52L545.38 259.17L544.28 259.82L543.63 260.93L542.98 259.82L541.87 259.17L542.98 258.52Z" fill="#e377c2"/><path d="M546.52 257.7L547.17 258.81L548.28 259.46L547.17 260.11L546.52 261.21L545.87 260.11L544.77 259.46L545.87 258.81Z" fill="#e377c2"/><path d="M549.41 257.7L550.06 258.81L551.17 259.46L550.06 260.11L549.41 261.21L548.76 260.11L547.66 259.46L548.76 258.81Z" fill="#e377c2"/><path d="M552.31 258.02L552.96 259.13L554.06 259.78L552.96 260.43L552.31 261.53L551.66 260.43L550.55 259.78L551.66 259.13Z" fill="#e377c2"/><path d="M555.2 255.27L555.85 256.37L556.96 257.02L555.85 257.67L555.2 258.78L554.55 257.67L553.45 257.02L554.55 256.37Z" fill="#e377c2"/><path d="M558.09 255.5L558.74 256.6L559.85 257.25L558.74 257.9L558.09 259.01L557.44 257.9L556.34 257.25L557.44 256.6Z" fill="#e377c2"/><path d="M560.99 255.06L561.64 256.16L562.74 256.81L561.64 257.46L560.99 258.57L560.34 257.46L559.23 256.81L560.34 256.16Z" fill="#e377c2"/><path d="M563.88 255.75L564.53 256.86L565.63 257.51L564.53 258.16L563.88 259.26L563.23 258.16L562.12 257.51L563.23 256.86Z" fill="#e377c2"/><path d="M566.77 255.75L567.42 256.86L568.53 257.51L567.42 258.16L566.77 259.26L566.12 258.16L565.02 257.51L566.12 256.86Z" fill="#e377c2"/><path d="M569.66 258.02L570.31 259.13L571.42 259.78L570.31 260.43L569.66 261.53L569.01 260.43L567.91 259.78L569.01 259.13Z" fill="#e377c2"/><path d="M572.56 259.37L573.21 260.47L574.31 261.12L573.21 261.77L572.56 262.88L571.91 261.77L570.8 261.12L571.91 260.47Z" fill="#e377c2"/><path d="M575.45 252.59L576.1 253.69L577.21 254.34L576.1 254.99L575.45 256.1L574.8 254.99L573.7 254.34L574.8 253.69Z" fill="#e377c2"/><path d="M578.34 254.78L578.99 255.88L580.1 256.53L578.99 257.18L578.34 258.29L577.69 257.18L576.59 256.53L577.69 255.88Z" fill="#e377c2"/><path d="M581.24 258.02L581.89 259.13L582.99 259.78L581.89 260.43L581.24 261.53L580.59 260.43L579.48 259.78L580.59 259.13Z" fill="#e377c2"/><path d="M584.13 258.02L584.78 259.13L585.88 259.78L584.78 260.43L584.13 261.53L583.48 260.43L582.38 259.78L583.48 259.13Z" fill="#e377c2"/><path d="M587.02 257.42L587.67 258.52L588.78 259.17L587.67 259.82L587.02 260.93L586.37 259.82L585.27 259.17L586.37 258.52Z" fill="#e377c2"/><path d="M589.92 252.45L590.57 253.55L591.67 254.2L590.57 254.85L589.92 255.96L589.27 254.85L588.16 254.2L589.27 253.55Z" fill="#e377c2"/><path d="M592.81 252.38L593.46 253.49L594.56 254.14L593.46 254.79L592.81 255.89L592.16 254.79L591.05 254.14L592.16 253.49Z" fill="#e377c2"/><path d="M595.7 253.11L596.35 254.21L597.46 254.86L596.35 255.51L595.7 256.62L595.05 255.51L593.95 254.86L595.05 254.21Z" fill="#e377c2"/><path d="M598.6 253.71L599.25 254.82L600.35 255.47L599.25 256.12L598.6 257.22L597.95 256.12L596.84 255.47L597.95 254.82Z" fill="#e377c2"/><path d="M601.49 255.62L602.14 256.73L603.24 257.38L602.14 258.03L601.49 259.13L600.84 258.03L599.73 257.38L600.84 256.73Z" fill="#e377c2"/><path d="M604.38 256.36L605.03 257.46L606.14 258.11L605.03 258.76L604.38 259.87L603.73 258.76L602.63 258.11L603.73 257.46Z" fill="#e377c2"/><path d="M607.27 255.89L607.92 256.99L609.03 257.64L607.92 258.29L607.27 259.4L606.62 258.29L605.52 257.64L606.62 256.99Z" fill="#e377c2"/><path d="M610.17 258.83L610.82 259.94L611.92 260.59L610.82 261.24L610.17 262.34L609.52 261.24L608.41 260.59L609.52 259.94Z" fill="#e377c2"/><path d="M613.06 253.77L613.71 254.88L614.81 255.53L613.71 256.18L613.06 257.28L612.41 256.18L611.3 255.53L612.41 254.88Z" fill="#e377c2"/><path d="M615.95 258.02L616.6 259.13L617.71 259.78L616.6 260.43L615.95 261.53L615.3 260.43L614.2 259.78L615.3 259.13Z" fill="#e377c2"/><path d="M618.85 259.37L619.5 260.47L620.6 261.12L619.5 261.77L618.85 262.88L618.2 261.77L617.09 261.12L618.2 260.47Z" fill="#e377c2"/><path d="M621.74 254.6L622.39 255.71L623.49 256.36L622.39 257.01L621.74 258.11L621.09 257.01L619.98 256.36L621.09 255.71Z" fill="#e377c2"/><path d="M624.63 258.02L625.28 259.13L626.39 259.78L625.28 260.43L624.63 261.53L623.98 260.43L622.88 259.78L623.98 259.13Z" fill="#e377c2"/><path d="M627.52 260.06L628.17 261.17L629.28 261.82L628.17 262.47L627.52 263.57L626.88 262.47L625.77 261.82L626.88 261.17Z" fill="#e377c2"/><path d="M630.42 252.04L631.07 253.15L632.17 253.8L631.07 254.45L630.42 255.55L629.77 254.45L628.66 253.8L629.77 253.15Z" fill="#e377c2"/><path d="M633.31 258.02L633.96 259.13L635.07 259.78L633.96 260.43L633.31 261.53L632.66 260.43L631.56 259.78L632.66 259.13Z" fill="#e377c2"/><path d="M636.2 256.03L636.85 257.14L637.96 257.79L636.85 258.44L636.2 259.54L635.55 258.44L634.45 257.79L635.55 257.14Z" fill="#e377c2"/><path d="M639.1 255.38L639.75 256.48L640.85 257.13L639.75 257.78L639.1 258.89L638.45 257.78L637.34 257.13L638.45 256.48Z" fill="#e377c2"/><path d="M641.99 256.36L642.64 257.46L643.75 258.11L642.64 258.76L641.99 259.87L641.34 258.76L640.24 258.11L641.34 257.46Z" fill="#e377c2"/><path d="M644.88 255.89L645.53 256.99L646.64 257.64L645.53 258.29L644.88 259.4L644.23 258.29L643.13 257.64L644.23 256.99Z" fill="#e377c2"/><path d="M647.78 256.19L648.43 257.29L649.53 257.94L648.43 258.59L647.78 259.7L647.13 258.59L646.02 257.94L647.13 257.29Z" fill="#e377c2"/><path d="M650.67 254.78L651.32 255.88L652.42 256.53L651.32 257.18L650.67 258.29L650.02 257.18L648.91 256.53L650.02 255.88Z" fill="#e377c2"/><path d="M653.56 255.75L654.21 256.86L655.32 257.51L654.21 258.16L653.56 259.26L652.91 258.16L651.81 257.51L652.91 256.86Z" fill="#e377c2"/><path d="M656.45 253.83L657.1 254.93L658.21 255.58L657.1 256.23L656.45 257.34L655.8 256.23L654.7 255.58L655.8 254.93Z" fill="#e377c2"/><path d="M659.35 259.37L660 260.47L661.1 261.12L660 261.77L659.35 262.88L658.7 261.77L657.59 261.12L658.7 260.47Z" fill="#e377c2"/><path d="M662.24 253.89L662.89 255L664 255.65L662.89 256.3L662.24 257.4L661.59 256.3L660.49 255.65L661.59 255Z" fill="#e377c2"/><path d="M665.13 252.89L665.78 254L666.89 254.65L665.78 255.3L665.13 256.4L664.48 255.3L663.38 254.65L664.48 254Z" fill="#e377c2"/><path d="M668.03 251.99L668.68 253.09L669.78 253.74L668.68 254.39L668.03 255.5L667.38 254.39L666.27 253.74L667.38 253.09Z" fill="#e377c2"/>
</g>
<path d="M428.2 203.6H437.4" stroke="#1f77b4" stroke-width="0.87"/><circle cx="432.8" cy="203.6" r="1.3" fill="#1f77b4"/><text x="439.2" y="207.45" font-size="10" text-anchor="start" font-family='"Liberation Sans", "DejaVu Sans", sans-serif' fill="#4c4c4c" textLength="19.8" lengthAdjust="spacingAndGlyphs">I-DC</text><path d="M462.9 203.6H472.5" stroke="#ff7f0e" stroke-width="0.87"/><rect x="466.66" y="202.56" width="2.08" height="2.08" fill="#ff7f0e"/><text x="474" y="207.45" font-size="10" text-anchor="start" font-family='"Liberation Sans", "DejaVu Sans", sans-serif' fill="#4c4c4c" textLength="25.3" lengthAdjust="spacingAndGlyphs">O-DC</text><path d="M502.2 203.6H512" stroke="#2ca02c" stroke-width="0.87"/><path d="M507.1 201.91L508.79 203.6L507.1 205.29L505.41 203.6Z" fill="#2ca02c"/><text x="513.8" y="207.45" font-size="10" text-anchor="start" font-family='"Liberation Sans", "DejaVu Sans", sans-serif' fill="#4c4c4c" textLength="19.2" lengthAdjust="spacingAndGlyphs">I-CC</text><path d="M536.1 203.6H545.7" stroke="#d62728" stroke-width="0.87"/><path d="M539.28 202.95H540.25V201.97H541.55V202.95H542.53V204.25H541.55V205.22H540.25V204.25H539.28Z" fill="#d62728"/><text x="547.8" y="207.45" font-size="10" text-anchor="start" font-family='"Liberation Sans", "DejaVu Sans", sans-serif' fill="#4c4c4c" textLength="24.3" lengthAdjust="spacingAndGlyphs">O-CC</text><path d="M575.4 203.6H584.8" stroke="#9467bd" stroke-width="0.87"/><path d="M578.41 204.78L581.79 204.78L580.1 201.74Z" fill="#9467bd"/><text x="587.2" y="207.45" font-size="10" text-anchor="start" font-family='"Liberation Sans", "DejaVu Sans", sans-serif' fill="#4c4c4c" textLength="12.5" lengthAdjust="spacingAndGlyphs">BC</text><path d="M602.6 203.6H612.4" stroke="#8c564b" stroke-width="0.87"/><path d="M606.26 202.12H608.74M606.26 205.08H608.74M607.5 202.12V205.08" fill="none" stroke="#8c564b" stroke-width="0.7"/><rect x="606.8" y="202.9" width="1.4" height="1.4" fill="#8c564b"/><text x="614.8" y="207.45" font-size="10" text-anchor="start" font-family='"Liberation Sans", "DejaVu Sans", sans-serif' fill="#4c4c4c" textLength="11.4" lengthAdjust="spacingAndGlyphs">EC</text><path d="M629.5 203.6H639.3" stroke="#e377c2" stroke-width="0.87"/><path d="M634.4 201.84L635.05 202.95L636.15 203.6L635.05 204.25L634.4 205.35L633.75 204.25L632.64 203.6L633.75 202.95Z" fill="#e377c2"/><text x="641.8" y="207.45" font-size="10" text-anchor="start" font-family='"Liberation Sans", "DejaVu Sans", sans-serif' fill="#4c4c4c" textLength="12.4" lengthAdjust="spacingAndGlyphs">PR</text>
</svg>
</body></html>
